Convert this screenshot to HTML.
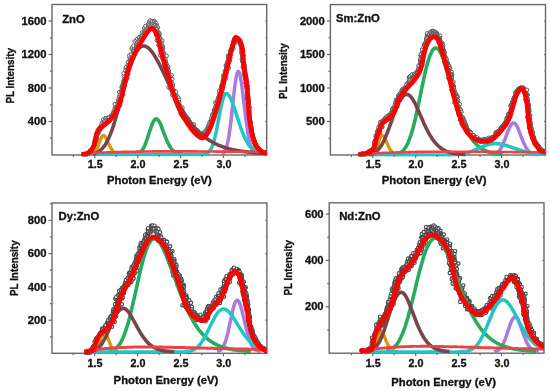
<!DOCTYPE html><html><head><meta charset="utf-8"><style>html,body{margin:0;padding:0;background:#fff;}svg{display:block;will-change:transform;}text{font-family:"Liberation Sans", sans-serif;font-weight:bold;fill:#111;stroke:#111;stroke-width:0.3px;}</style></head><body>
<svg width="550" height="391" viewBox="0 0 550 391">
<defs><marker id="m0" markerUnits="userSpaceOnUse" markerWidth="8" markerHeight="8" refX="4" refY="4" overflow="visible"><circle cx="4" cy="4" r="1.75" fill="#fff" stroke="#5a5a5a" stroke-width="0.95"/></marker><marker id="m1" markerUnits="userSpaceOnUse" markerWidth="8" markerHeight="8" refX="4" refY="4" overflow="visible"><circle cx="4" cy="4" r="1.75" fill="#fff" stroke="#555555" stroke-width="1"/></marker><marker id="m2" markerUnits="userSpaceOnUse" markerWidth="8" markerHeight="8" refX="4" refY="4" overflow="visible"><circle cx="4" cy="4" r="1.65" fill="#fff" stroke="#484848" stroke-width="1.1"/></marker><marker id="m3" markerUnits="userSpaceOnUse" markerWidth="8" markerHeight="8" refX="4" refY="4" overflow="visible"><circle cx="4" cy="4" r="1.65" fill="#fff" stroke="#484848" stroke-width="1.1"/></marker></defs>
<rect x="52" y="4.5" width="214.7" height="150.5" fill="none" stroke="#686868" stroke-width="1.4"/>
<clipPath id="cZnO"><rect x="52" y="1.5" width="214.7" height="155"/></clipPath>
<g clip-path="url(#cZnO)">
<polyline points="83.5,155.5 83.6,154.6 84.3,155.5 85.2,154.7 84.8,155.4 85.8,154.4 86.4,153.9 86.5,154.6 86.6,153.3 87.2,154.7 87.9,153.9 88.3,153.9 88.8,153.3 88.8,152.9 90,153.6 90,153.4 90.5,153.1 90.7,152.5 89.6,150.9 90.3,151.7 91.5,151.2 91.7,150.9 91.5,150.9 91.7,150.4 91.5,149.6 92.3,149.4 92.3,149.2 92.6,148.6 92.8,147.9 93.2,148.3 93.4,147.3 93,147 93.8,146.5 94,146.3 94.1,146.2 94.9,145.9 94.5,144.5 94.4,144.2 94.6,143.9 95,143.5 94.3,143.3 95.8,142.3 95.3,142.2 94.9,142.5 94.5,140.7 95.6,141 95.6,141.2 95.9,140.3 95.4,139.6 96.1,139 96.5,138.9 95.6,138.7 97,138.8 96.3,137.6 95.6,137.6 96.6,136.7 96.5,137.5 96.5,135.2 96.2,136 97.1,135.3 95.9,134.4 97.2,133.9 97.5,133.4 97.6,134 97.3,132.7 97.3,132.8 98.5,133.2 98.1,132.6 97.7,131.9 97.9,131.4 98.5,131.3 98.5,130.5 98.9,130.8 99.9,130.1 98.5,129.6 99.3,130.1 99.6,129.2 99.1,128.2 99.9,129.6 99.9,127.7 101.5,128.2 102.5,126.6 100.9,126.2 101.2,127 101.6,126.2 101.4,125.6 103.3,124.4 101.5,123.6 104.2,123.7 102.6,122.6 103.9,122.8 104.5,122.6 103.6,120.3 103.3,119.4 104.7,120.9 104.9,120.6 106.7,121.4 105.6,118.2 105.9,118.2 106.9,120.1 106.7,119.8 107.2,121.1 107.7,119.1 108.6,119.4 108.5,118.7 107.9,117.7 109.7,120.9 109.8,119.4 109.6,118.2 108.5,118.2 109.2,117.9 110.3,119.2 110,117.3 109.2,117.6 110.4,119 111.2,117.5 111.9,117.9 111.4,116.6 112.1,117.6 112.9,116.4 111.1,115.5 112.1,115.7 112.3,115.4 112.8,115.8 114,114.7 112.7,114.2 113.6,114.3 113.2,113.8 113.7,113.3 114.6,113.9 115,113.7 113.1,112.8 114.8,112.5 115.5,112.1 113.9,110.8 115.3,111.3 115.7,110.4 115.8,110.9 116.9,111 117.6,109.9 115.7,109.1 114.7,108.4 115.8,107.8 118,109.4 117.9,107.8 115.4,107.2 116,106.7 117.6,107 117.5,107 118.5,106.7 117.6,104.5 114.9,104.1 119.9,105.6 119.5,103.9 117.6,104 117.6,103 120.4,104 119.1,102.8 118.7,102.4 118.8,102.1 120.4,101.3 119,100.8 121.2,101.4 118.5,100.5 118.4,99.7 119.4,99.4 119.9,98.6 120.7,98.3 121,98.9 119.4,98.1 121,97.3 119,97.4 120.3,95.8 119.4,96 121.6,96.2 122.3,95.9 121.3,95.1 119.9,94.3 123.1,94.2 122.7,94.3 121.7,93.5 122.8,93.3 119.2,92.1 122.2,91.7 121.2,91.2 120.9,91.8 123.2,91 121.8,89.8 121.8,90 122.4,89.6 122.4,88.8 123,89.1 123.9,88.1 121.5,87.1 122.1,86.9 123.2,86.8 124.4,87 124.2,86.1 124.1,86 123.1,84.7 124.4,85.5 122.6,84.7 123.2,84.2 123.8,84.4 123.1,83.2 125.3,82.2 123.6,80.8 123.7,82 124.4,80.9 124.5,80.9 123.9,80.9 124.5,80.4 126.3,79.8 124.1,79.2 125.9,80 124.5,78.5 127.2,78.6 127.1,78.2 125.2,77.1 125.2,76.7 126.9,76.9 126.3,76.3 125.5,75.3 123.7,75.7 125.5,74.7 123.5,73.3 128.3,74.3 127.1,73.3 127.7,73.5 126.7,72.8 127.2,73.2 126.4,71.3 126.9,71.9 126.9,70.8 127.4,70.7 125.5,70.2 127.8,70.8 128.3,70 128.7,69.7 125.6,68 128.3,67.4 127.9,68.5 127.6,67.6 126.2,66.9 128.9,67.5 128.3,66.6 128.8,66 129.7,65.4 127.9,64.7 130.1,65.4 129.3,63.2 129.9,64.3 130.3,64.1 130.9,63.5 128.2,62 130.4,63 129.9,61.6 131.7,62.2 130.7,60.4 129.9,60 131.2,59.9 131.3,58.6 132.4,59.6 129.7,58.1 129.7,57.4 131.4,57.6 133.3,58 129.3,55.4 131.5,55.4 131.7,54.9 132.8,55.2 131.4,54.3 134.4,54.7 133.7,53.5 133.9,53.7 133.9,52.1 133.6,52 133.7,51.4 132.9,50.1 136.3,50.7 134.2,50.1 131.5,48.5 132.4,47.8 136.1,48.8 134.1,47.7 138,48.8 135.5,47.6 133.4,45.8 136.2,46.5 136.8,46.4 136.1,45.1 137,45.2 138.3,45 137.7,44.4 138,44.3 136.7,43.5 134.6,41.3 137.6,42.8 136.3,40.6 137.4,42 139,41.5 138.8,41.8 139.8,41.8 138.8,40.6 139.7,39.1 137.2,38.8 139.2,39.2 140.2,38.9 140.3,39.2 140.6,38.9 139.3,37 142,39.2 141.9,38 141.1,36.9 141,37.8 141.2,36.4 141,36.5 141.8,36.4 143,36.3 141.9,35.6 143.9,37.4 143.8,35.1 142.7,35.4 144.4,34.8 142.1,32.4 143.5,33.3 145.1,34.2 144.5,33.4 144.4,32.6 144.7,31.4 144.3,31.1 145.3,32 145.8,30.7 147.1,30.6 146.5,30 146.4,30.1 144.1,28.2 145.7,28.1 146.7,28 148,27.3 145.4,26 148.1,26 149,25.9 149.5,25.5 148.6,24 148.5,24.4 148.5,23.6 149.4,22.2 149.4,22.5 149.4,21.4 151.6,23.3 150.2,20.4 151.4,21.5 152,23.5 152.6,21.1 152,21.5 154.4,20.9 154.8,21.7 153.3,22.7 154.9,23.3 152.7,24.3 154.1,24.5 156.4,23.6 153.9,25.5 154.9,25 156.5,25.5 156.4,25.8 157,26.2 157.2,26.6 157.9,27.6 154.9,29.3 157.1,28.9 156.5,30.2 156.6,29.4 156.9,31.4 157.9,31.9 157.2,33.4 158.7,32.6 159.2,33.3 158.1,33.5 159.4,34.1 156.2,34.9 159,35.2 159,36 159,36.9 158.2,36.8 159.4,37.5 160.1,38.1 158.8,38.8 159.7,38.2 159.4,40 160.3,39.2 156.9,40.4 158.9,40.7 162.4,40.7 160.2,41 158.7,42.1 159.8,43.6 159.7,42.6 161.5,43 159.1,44.4 160,43.6 160.9,44.6 160.3,45.3 161.5,44.8 158.4,45.3 160.9,46.7 162.2,47 163.1,46.7 162.2,46.7 162,48 161.2,48.3 160.2,49.2 162.9,48.8 162.1,49.3 161.9,49.7 162.2,50.4 162.2,50.7 160.7,51.6 163.4,52.2 162,52.7 163.2,52.7 160.8,53.8 161.7,54.4 163.6,54.1 160.2,55.5 163.5,54.2 164.1,55.1 162.9,55.6 162.2,56.4 166.7,55.8 163.7,56.8 162.9,57.5 162.9,58.6 163.7,58.8 162.9,59.5 164.2,59.5 164.1,59.4 165.6,59.6 164.3,60.3 164.8,60.8 165.1,61.5 164,61.5 165.6,62.5 165.8,62.1 166,63.1 165.7,63.7 165.2,64.2 166.6,64 164.2,65.3 165.9,64.6 165.4,66.2 166,66.3 165,67.3 168.2,66.5 165.6,67.2 167.6,67.7 166,69 167.7,68.8 165.1,69.6 167.6,68.9 168.3,70.3 168.3,69.9 166.8,71.4 168.7,71.5 168.9,71.3 167.1,71.5 169,73.2 167.5,72.9 168.8,73.3 166.7,73.9 167.4,75.3 167.8,75.1 170.8,75.2 170.4,75.6 167.5,76 168.1,76.3 171.6,75.2 169.6,76.4 170.8,77.5 169.1,78.8 169.7,78.7 169.9,78.3 169.3,79.1 170.5,79.3 172.4,79.1 169.5,80.1 169.2,80.3 169.4,81.7 170.5,81.4 171,82.2 171.4,82.4 170.2,82.8 170.1,83.3 170.1,83.6 170.9,83.9 170.9,84.2 172.7,84.2 170.5,85.5 170.3,85.5 171.6,85.3 168.5,87.4 172.9,85.8 171.2,87.6 170.1,87.8 171.1,88.3 170.5,89.3 172.5,88.9 172.1,88.5 172.5,89.1 172.9,89.6 172.7,90.4 174.1,90.8 172.3,91.5 175,91.3 172.8,92.2 173.5,92.9 174,92.9 176.1,91.9 172.9,93.3 172.8,94.8 174.9,94.9 172.4,95.1 176.3,95.1 175.8,95.6 175,96 175.2,96.7 175.1,96.9 176.7,96.2 174.8,98 175.4,98 178,97.7 175.7,99.3 178.5,97.8 175.6,99.8 176.1,101 177,100 177.1,100.2 176.3,101.4 179,99.8 177.8,102.2 178.3,102.7 177.9,102.6 177.4,102.8 179.2,102.4 177.8,103.7 177,103.7 177.9,104.8 178.7,105.2 178.4,105.2 179.2,105.9 177.9,106 178.3,107.3 180.1,106.1 179.7,107.5 180.8,106.8 179.9,108.6 182.5,107.8 179.2,109.4 180.1,109.1 179.9,109.5 181.1,110.4 181.6,109.9 181,110.2 181.3,111.3 182.6,111.4 181.9,111.3 180.5,112.8 180.8,113.6 181.7,112.8 181.2,113.4 182.1,114.1 182.8,113 181.3,114.8 182.6,114.1 183.9,114.2 183.6,114.7 183.3,115.4 182.8,116.6 184.3,115.2 184.8,116.6 185.2,117 184.7,117.1 183.8,117.7 183.6,118.3 185.9,118.1 186.8,117.8 185.3,119.4 186.5,119.8 188.3,118.8 185.6,120.2 186.9,119.8 187.7,120.5 188.1,120.5 186.7,121.4 188,122 189.5,121.3 188.7,122.2 189.4,122.5 189,121.8 189.8,122.7 189,123.9 189.6,123.6 188.4,125.1 190.3,124 189.1,125.7 191,124.6 190.9,124.9 190.5,126.1 190.9,126.1 193.9,124.4 191.3,125.9 192.1,126.9 191.6,127.4 191,128.9 192.4,128.1 193.8,127 193.9,127.6 193.2,128.5 193.5,129.6 194.3,128.1 194.6,128.5 193.9,130.8 194.3,130.9 195.5,130.2 196,130.3 196.1,130.5 196.4,131 196.4,131.7 197.5,130.4 197,131.3 197.2,132.2 197.1,132.2 198,132.6 198.7,132.8 198.1,134.6 198.6,133.3 199.3,134 199.9,133.2 199.5,133.6 200.4,134.2 200.8,135 201.9,133.4 201.6,135.5 201.5,135.1 201.9,135.3 202.1,134.4 202.3,135 203,135 202.9,135.1 202.9,134.9 202.9,134.9 203.6,133.9 204.5,133.9 204.7,134.2 204,133.4 205.1,133.1 205,132.8 204.4,131.9 206.4,133.3 205.2,131.6 206.3,132.7 206.4,130.6 206.9,132.1 206.3,130.4 207.1,130.3 207.9,129.9 206.9,128.9 208.2,128.9 208,128.5 208.8,128.4 208,127.2 208.5,127.5 209.2,127.2 208.5,126.3 209,127.2 209.1,126.4 209.9,126 208.9,125.2 208.9,124.8 210.3,125.4 210.2,124.4 209.4,123.9 209.4,123.9 210.6,123 210.3,122.7 211.6,124 211.5,122.4 209.7,122 211.5,122.4 211.8,121.5 211.8,120.5 210.8,120.8 211.4,120.4 211.3,119.5 212.2,119.4 211.6,119.2 212,118.6 212.4,118.9 211.5,117.9 213,117.8 213.7,117.7 213.6,117.5 214,117.3 212.4,116.1 214.2,115.5 213.9,115.1 213.6,115.8 212.3,114.5 213.3,113.7 214.7,114.2 214.4,113.4 213.9,113.6 214.3,112.4 214.6,112.2 214.8,112 214.4,111.4 214,110.5 214.4,110.2 214.7,110.7 214.6,109 215,109.5 215.5,108.6 215.2,108.9 215.6,108.5 215.7,108.2 216.6,107 215.1,107.4 216.7,107 216.3,106.8 215.6,106.2 216.1,105 216.8,105.3 216.7,104.6 218.1,105.1 216.6,103.8 217.2,103.9 217.6,103.5 215.3,102.6 216.5,101.8 217.4,101.8 218.1,101 217.4,101 218,100.7 218.8,100.7 218.6,99.8 217.7,100.1 218.6,98.8 219.2,99.5 217.9,98.3 218.9,98.6 218.7,97.8 218.9,97 218.6,96.8 219.5,96.5 219.4,96 219.8,95.9 219.9,95.6 219.7,94.5 220.2,94.4 219.7,94 219.5,93.8 219.7,93.2 222.6,93.5 220.1,91.7 221.1,92.3 220.2,92.1 219.9,91 221.2,91.6 221.4,89.8 219.3,90.8 222.4,89.9 221.2,89.7 220.9,88.9 221.2,88.5 222.4,88 222,87.5 221.3,87.4 221.7,87.1 223.1,87.1 221.6,86.9 223.2,85.8 221.6,86 222,85.1 221.8,84.7 222.6,84.7 222.5,84 223.2,83.8 223.4,83.1 223.5,83.6 223.8,82.1 223.6,81.8 222.7,81.7 222.9,80.9 223.4,81.1 223.5,80.9 223.8,80.3 223.5,79.5 224.4,79 223.2,78.7 224.6,78.4 225.8,78.7 224.1,76.8 225,76.8 223.1,75.8 226.3,76.5 224.6,75.7 224.8,76 225.2,74.8 224.4,74.9 224.9,74.2 224.8,74.1 225.6,74.1 225.6,73.6 226.4,73.8 224.9,72.9 226.5,72.4 224.9,71 226,71.8 226.2,71.4 226.5,70.5 226.8,70.6 226.4,69.8 226.8,69.8 227.1,69.4 226.2,68.5 228.8,68.4 226.7,68.1 226.8,68.5 228.2,66.7 225.8,65.3 227.7,66.2 226.6,66 226.1,65.3 227.1,65.2 227.3,64.4 226.8,64.3 227.9,62.9 228.7,63.2 227.6,62.9 228.4,61.8 227.5,61.5 228,61.9 228.5,60.3 227.7,61 229.9,60.8 228.5,59.9 229,59.2 228.3,58.7 228.1,58.8 228.9,57.8 230.3,57.3 230.3,58 227.9,55.8 229.5,55.7 228.9,56.1 229.6,54.8 230.1,54.9 230.4,54.3 230.5,54.4 231,54.2 230.3,52.9 230.7,53.2 230.5,52.1 230,51.8 231.3,51.2 230.1,50.7 231.2,50.8 231.7,49.7 231.1,48.9 232.8,49 232.4,48.5 233.4,48.5 232.7,47.3 232.3,46.6 232.8,46 233,45.5 232.9,46.2 232.2,45.3 232.9,45.3 233.3,44.3 233.7,43.8 234.9,43.4 234,42.4 233.9,42.8 234.2,42.1 233.7,41.7 234.8,41.3 233.7,41.4 235.1,41 234,39.3 234.6,39.5 235.9,39.5 235.4,39.7 234.2,38.9 235.1,38.3 236.3,39.1 236.4,38.9 235.9,39.1 235.4,37.1 236.1,37.9 236.1,38.1 235.3,38.9 237.1,38 236.9,39.3 238.2,39.1 237.6,39 237.9,39 237.5,39.1 238.5,39.6 237.3,39.7 238.7,40.6 238,39.7 239.3,40.5 239.8,40.3 239.9,40.3 239.8,41.2 238.9,41.9 240.5,42.2 239.9,42.9 240.6,42.9 240.4,43.1 239.9,43.5 240.4,43.5 240.5,44.2 241,44.9 240.4,44.9 241.1,45.1 241.2,45.4 241.7,45.8 240.9,46.8 242,45.9 241.5,47.2 242.2,48.1 241.5,47.4 242.1,48.8 242.1,48.9 241.7,50.3 241.3,49.2 242.5,50.2 242.4,50.7 243,51.5 242,51.9 241.6,51.2 242.8,52.1 241.3,52.8 242.1,53.4 242.4,53.3 242.1,54.4 242.1,54.6 242.1,55.2 243.4,55.6 243.1,56.1 242.2,56.3 242.7,57 242.4,57.5 242.4,57.8 242.7,57.7 243.2,58.6 242.9,59.1 241.8,59 242.5,60.4 242.7,60.7 242.4,60.6 242.8,61.8 242.3,61.8 243.2,62.3 243.1,63 243.2,62.7 243.5,63.2 243.2,64.6 244.5,64.9 243.5,64.5 243.2,66 243.6,65.1 244.3,66.3 244.2,66.6 242.7,66.8 243.7,67.4 244.4,67.5 243.8,68.2 243.9,68.3 243.3,68.1 244.2,69.4 244.2,69.5 244.2,69.9 243.9,70.9 244.7,71.3 244.4,71.4 245.2,72.4 244.3,72 244.9,72.9 244.6,74.2 243.9,73.4 245.1,74.4 244.2,74.4 245.8,75.3 245.1,75.2 244.9,75.8 244.8,75.3 244.8,76.6 245,77.4 246.2,77.5 246,78.1 245.9,78.4 246,78.7 245.4,78.7 245.5,79.7 246.1,79.3 245.6,79.9 246.4,80.4 246,80.6 246.2,82 245.9,81.6 247,82.3 245.9,83 245.9,83.2 245.4,83.1 246.9,83.5 246.3,84.2 246.6,84.4 246.5,85.8 247.3,85.5 246.3,85.7 246.7,86.5 247.5,86.4 246.9,86.9 247,87.2 247.2,88.4 246.8,88.2 247.1,88.2 247.8,88.5 247,89.2 247.8,89.7 247.1,91.2 247.2,90.5 247.3,91.3 247,91.6 247.3,92.4 247.7,92.8 247.4,93.2 247.4,93.8 247.6,93.6 248,93.5 247.1,94.3 247.5,94.5 247.1,94.7 247.7,95.5 248.6,96.5 247.3,97.2 247.8,97.5 247.3,98 248.2,97.7 247.5,98.2 248,99.7 248.7,99.7 247.8,99.5 248.1,99.9 247.8,100.4 248.3,100.8 248.1,101.2 248,101.6 248.6,102.2 248.7,102.5 248.5,102.4 248,103.4 247.9,103.8 247.8,104.2 248,104.7 248.1,104.7 248.1,105.5 247.8,106 248.9,106.2 248.6,107 248.2,107.8 249.5,107.1 249.3,107.7 249.1,107.7 249,108.9 248.1,109 248.2,109.4 248.8,110.1 247.7,110.6 248.9,111 249.4,110.6 248.9,111.9 249.1,111.7 248.4,112.7 248.9,112.4 249.1,113.5 249.2,112.9 249.2,114 248.9,115.2 249.8,115.2 249.2,116.2 248.8,116.1 249,116.1 249.5,117.8 249.5,117.6 249.4,118.2 249.5,117.9 249.6,119.2 249.6,119.5 249.7,120.3 249.8,120.2 249.6,120.7 249.6,120.2 249.9,120.7 250.5,121.8 250,122.3 249,123.2 249.8,123.2 251,122.5 250,123.9 250.3,123.4 250,125.2 250.1,125.2 249.8,125.1 249.8,126 251,126.2 250.5,126.8 250.9,126.9 251.1,128.2 251.7,127.5 250.6,129.2 251.5,129.2 251.3,129 251.6,130 251.6,129.5 251.7,130.2 251.3,131 251.6,132.2 251.8,131.8 251.6,132.2 251.7,132.8 252.3,133.2 251.4,133.4 252,133.3 252.3,134.1 252.3,134.8 252.3,135.7 252.8,135.1 252.8,136.1 252.3,136.2 252.8,135.6 252.4,137.4 253.2,137.1 253.7,138.7 253.3,138.3 253.3,138.4 253.7,139.2 254.1,140.1 253.8,140.1 254.2,141.1 253.5,141 254,141.4 254.6,141.6 254.8,142 254.3,142.3 254.3,143.1 254.9,143.6 255.3,143.1 255,144.4 255.2,144.6 255.8,144.5 256.3,144.5 256.1,145.2 255.2,146.4 256.5,146.4 256.4,146.3 256.6,146.9 257.3,147 257.9,147.5 257.6,148.4 257.1,148.8 257.7,148.7 258.7,148.5 258.9,149.5 258.4,149.4 259.6,149.6 259.1,150.5 259.9,150 260,150.7 260.2,150.6 260.4,150.4 261.8,151.8 261.2,151.9 261,152.4 262,152.4 263.1,152.6 262.8,152.7 263.6,152.5 263.3,152.2 264.3,152 263.9,153.1 264.3,153.2 265.3,153.2 265.7,153.2 267.4,153.7" fill="none" stroke="none" marker-start="url(#m0)" marker-mid="url(#m0)" marker-end="url(#m0)"/>
<path d="M222,153.7 L222.7,153.3 L223.4,152.8 L224.1,152.1 L224.7,151.1 L225.4,149.8 L226.1,148.1 L226.8,145.9 L227.5,143.2 L228.2,139.9 L228.9,136 L229.6,131.5 L230.3,126.4 L231,120.8 L231.7,114.7 L232.3,108.3 L233,101.9 L233.7,95.6 L234.4,89.5 L235.1,84.1 L235.8,79.4 L236.5,75.7 L237.2,73.1 L237.9,71.6 L238.6,71.5 L239.3,72.6 L240,74.8 L240.6,78.2 L241.3,82.4 L242,87.3 L242.7,92.8 L243.4,98.6 L244.1,104.5 L244.8,110.4 L245.5,116.1 L246.2,121.5 L246.9,126.5 L247.6,131 L248.2,135.1 L248.9,138.6 L249.6,141.6 L250.3,144.2 L251,146.4 L251.7,148.1 L252.4,149.6 L253.1,150.7 L253.8,151.6 L254.5,152.3 L255.2,152.9 L255.8,153.3 L256.5,153.6 L257.2,153.8" fill="none" stroke="#aa7ae0" stroke-width="3.5" stroke-linejoin="round"/>
<path d="M135.6,154.2 L136.3,154 L137,153.9 L137.7,153.7 L138.3,153.4 L139,153.1 L139.7,152.7 L140.4,152.1 L141.1,151.5 L141.8,150.7 L142.5,149.7 L143.2,148.6 L143.9,147.4 L144.6,145.9 L145.3,144.3 L145.9,142.5 L146.6,140.6 L147.3,138.6 L148,136.4 L148.7,134.3 L149.4,132.1 L150.1,129.9 L150.8,127.9 L151.5,125.9 L152.2,124.1 L152.9,122.6 L153.6,121.2 L154.2,120.2 L154.9,119.4 L155.6,119 L156.3,118.9 L157,119.1 L157.7,119.6 L158.4,120.4 L159.1,121.4 L159.8,122.7 L160.5,124.1 L161.2,125.7 L161.8,127.5 L162.5,129.3 L163.2,131.1 L163.9,133 L164.6,134.9 L165.3,136.7 L166,138.4 L166.7,140.1 L167.4,141.7 L168.1,143.2 L168.8,144.5 L169.4,145.8 L170.1,146.9 L170.8,148 L171.5,148.9 L172.2,149.7 L172.9,150.4 L173.6,151 L174.3,151.6 L175,152 L175.7,152.4 L176.4,152.8 L177.1,153 L177.7,153.3 L178.4,153.5 L179.1,153.7 L179.8,153.8 L180.5,153.9 L181.2,154 L181.9,154.1 L182.6,154.2" fill="none" stroke="#27ab5c" stroke-width="3.6" stroke-linejoin="round"/>
<path d="M91.3,154.2 L92,154.1 L92.7,153.9 L93.4,153.6 L94.1,153.1 L94.8,152.5 L95.5,151.6 L96.2,150.5 L96.9,149.1 L97.6,147.5 L98.3,145.7 L98.9,143.8 L99.6,141.9 L100.3,140 L101,138.4 L101.7,137 L102.4,136.1 L103.1,135.6 L103.8,135.6 L104.5,136 L105.2,136.7 L105.9,137.8 L106.6,139 L107.2,140.5 L107.9,142 L108.6,143.6 L109.3,145.1 L110,146.5 L110.7,147.8 L111.4,149 L112.1,150 L112.8,150.9 L113.5,151.7 L114.2,152.3 L114.8,152.8 L115.5,153.2 L116.2,153.5 L116.9,153.7 L117.6,153.9 L118.3,154.1 L119,154.2 L119.7,154.2 L120.4,154.3" fill="none" stroke="#d49a10" stroke-width="3.4" stroke-linejoin="round"/>
<path d="M84.4,154.4 L85.1,154.4 L85.8,154.4 L86.5,154.4 L87.2,154.4 L87.9,154.4 L88.6,154.4 L89.3,154.4 L90,154.4 L90.7,154.4 L91.3,154.4 L92,154.4 L92.7,154.4 L93.4,154.4 L94.1,154.4 L94.8,154.4 L95.5,154.4 L96.2,154.4 L96.9,154.4 L97.6,154.4 L98.3,154.4 L98.9,154.4 L99.6,154.4 L100.3,154.4 L101,154.4 L101.7,154.4 L102.4,154.4 L103.1,154.4 L103.8,154.4 L104.5,154.4 L105.2,154.4 L105.9,154.4 L106.6,154.4 L107.2,154.4 L107.9,154.4 L108.6,154.4 L109.3,154.4 L110,154.4 L110.7,154.4 L111.4,154.4 L112.1,154.4 L112.8,154.4 L113.5,154.4 L114.2,154.4 L114.8,154.4 L115.5,154.4 L116.2,154.4 L116.9,154.4 L117.6,154.4 L118.3,154.4 L119,154.4 L119.7,154.4 L120.4,154.4 L121.1,154.4 L121.8,154.4 L122.4,154.4 L123.1,154.4 L123.8,154.4 L124.5,154.4 L125.2,154.4 L125.9,154.4 L126.6,154.4 L127.3,154.4 L128,154.4 L128.7,154.4 L129.4,154.4 L130.1,154.4 L130.7,154.4 L131.4,154.4 L132.1,154.4 L132.8,154.4 L133.5,154.4 L134.2,154.4 L134.9,154.4 L135.6,154.4 L136.3,154.4 L137,154.4 L137.7,154.4 L138.3,154.4 L139,154.4 L139.7,154.4 L140.4,154.4 L141.1,154.4 L141.8,154.4 L142.5,154.4 L143.2,154.4 L143.9,154.4 L144.6,154.4 L145.3,154.4 L145.9,154.4 L146.6,154.4 L147.3,154.4 L148,154.4 L148.7,154.4 L149.4,154.4 L150.1,154.4 L150.8,154.4 L151.5,154.4 L152.2,154.4 L152.9,154.4 L153.6,154.4 L154.2,154.4 L154.9,154.4 L155.6,154.4 L156.3,154.4 L157,154.4 L157.7,154.4 L158.4,154.4 L159.1,154.4 L159.8,154.4 L160.5,154.4 L161.2,154.4 L161.8,154.4 L162.5,154.4 L163.2,154.4 L163.9,154.4 L164.6,154.4 L165.3,154.4 L166,154.4 L166.7,154.4 L167.4,154.4 L168.1,154.4 L168.8,154.4 L169.4,154.4 L170.1,154.4 L170.8,154.4 L171.5,154.4 L172.2,154.4 L172.9,154.4 L173.6,154.4 L174.3,154.4 L175,154.4 L175.7,154.4 L176.4,154.4 L177.1,154.4 L177.7,154.4 L178.4,154.4 L179.1,154.4 L179.8,154.4 L180.5,154.4 L181.2,154.4 L181.9,154.4 L182.6,154.4 L183.3,154.4 L184,154.4 L184.7,154.4 L185.3,154.4 L186,154.4 L186.7,154.4 L187.4,154.4 L188.1,154.4 L188.8,154.4 L189.5,154.4 L190.2,154.4 L190.9,154.4 L191.6,154.4 L192.3,154.4 L193,154.4 L193.6,154.4 L194.3,154.4 L195,154.4 L195.7,154.4 L196.4,154.4 L197.1,154.4 L197.8,154.4 L198.5,154.4 L199.2,154.4 L199.9,154.4 L200.6,154.4 L201.2,154.3 L201.9,154.3 L202.6,154.3 L203.3,154.2 L204,154.1 L204.7,154 L205.4,153.8 L206.1,153.6 L206.8,153.3 L207.5,153 L208.2,152.5 L208.8,151.9 L209.5,151.1 L210.2,150.1 L210.9,149 L211.6,147.6 L212.3,145.9 L213,144 L213.7,141.9 L214.4,139.4 L215.1,136.7 L215.8,133.7 L216.5,130.5 L217.1,127.1 L217.8,123.5 L218.5,119.9 L219.2,116.2 L219.9,112.6 L220.6,109 L221.3,105.7 L222,102.7 L222.7,100 L223.4,97.7 L224.1,95.9 L224.7,94.5 L225.4,93.7 L226.1,93.4 L226.8,93.6 L227.5,93.9 L228.2,94.5 L228.9,95.4 L229.6,96.4 L230.3,97.6 L231,99.1 L231.7,100.6 L232.3,102.4 L233,104.2 L233.7,106.1 L234.4,108.2 L235.1,110.3 L235.8,112.4 L236.5,114.6 L237.2,116.8 L237.9,118.9 L238.6,121.1 L239.3,123.2 L240,125.3 L240.6,127.3 L241.3,129.2 L242,131.1 L242.7,132.9 L243.4,134.6 L244.1,136.3 L244.8,137.8 L245.5,139.2 L246.2,140.6 L246.9,141.9 L247.6,143 L248.2,144.1 L248.9,145.2 L249.6,146.1 L250.3,146.9 L251,147.7 L251.7,148.4 L252.4,149.1 L253.1,149.7 L253.8,150.2 L254.5,150.7 L255.2,151.1 L255.8,151.5 L256.5,151.9 L257.2,152.2 L257.9,152.5 L258.6,152.7 L259.3,152.9 L260,153.1 L260.7,153.3 L261.4,153.4 L262.1,153.6 L262.8,153.7 L263.5,153.8 L264.1,153.9 L264.8,153.9 L265.5,154 L266.2,154.1 L266.9,154.1 L267.6,154.1" fill="none" stroke="#1fc6c8" stroke-width="3.5" stroke-linejoin="round"/>
<path d="M92.7,153.7 L93.4,153.6 L94.1,153.4 L94.8,153.3 L95.5,153 L96.2,152.8 L96.9,152.5 L97.6,152.2 L98.3,151.8 L98.9,151.4 L99.6,150.9 L100.3,150.4 L101,149.8 L101.7,149.1 L102.4,148.4 L103.1,147.6 L103.8,146.7 L104.5,145.8 L105.2,144.7 L105.9,143.6 L106.6,142.4 L107.2,141.1 L107.9,139.8 L108.6,138.3 L109.3,136.8 L110,135.1 L110.7,133.4 L111.4,131.6 L112.1,129.7 L112.8,127.7 L113.5,125.6 L114.2,123.4 L114.8,121.2 L115.5,118.9 L116.2,116.6 L116.9,114.2 L117.6,111.7 L118.3,109.2 L119,106.7 L119.7,104.1 L120.4,101.6 L121.1,99 L121.8,96.3 L122.4,93.7 L123.1,91.1 L123.8,88.5 L124.5,86 L125.2,83.4 L125.9,80.9 L126.6,78.5 L127.3,76.1 L128,73.7 L128.7,71.4 L129.4,69.2 L130.1,67.1 L130.7,65.1 L131.4,63.1 L132.1,61.2 L132.8,59.5 L133.5,57.8 L134.2,56.2 L134.9,54.8 L135.6,53.4 L136.3,52.2 L137,51 L137.7,50 L138.3,49.1 L139,48.3 L139.7,47.7 L140.4,47.1 L141.1,46.6 L141.8,46.3 L142.5,46.1 L143.2,46 L143.9,46 L144.6,46 L145.3,46.2 L145.9,46.5 L146.6,46.8 L147.3,47.2 L148,47.7 L148.7,48.3 L149.4,48.9 L150.1,49.6 L150.8,50.4 L151.5,51.3 L152.2,52.2 L152.9,53.1 L153.6,54.1 L154.2,55.2 L154.9,56.3 L155.6,57.4 L156.3,58.6 L157,59.9 L157.7,61.1 L158.4,62.4 L159.1,63.7 L159.8,65.1 L160.5,66.5 L161.2,67.9 L161.8,69.3 L162.5,70.7 L163.2,72.1 L163.9,73.6 L164.6,75 L165.3,76.5 L166,78 L166.7,79.4 L167.4,80.9 L168.1,82.4 L168.8,83.8 L169.4,85.3 L170.1,86.7 L170.8,88.2 L171.5,89.6 L172.2,91 L172.9,92.5 L173.6,93.9 L174.3,95.2 L175,96.6 L175.7,98 L176.4,99.3 L177.1,100.6 L177.7,101.9 L178.4,103.2 L179.1,104.5 L179.8,105.7 L180.5,107 L181.2,108.2 L181.9,109.4 L182.6,110.5 L183.3,111.7 L184,112.8 L184.7,113.9 L185.3,115 L186,116 L186.7,117.1 L187.4,118.1 L188.1,119.1 L188.8,120.1 L189.5,121 L190.2,122 L190.9,122.9 L191.6,123.8 L192.3,124.6 L193,125.5 L193.6,126.3 L194.3,127.1 L195,127.9 L195.7,128.7 L196.4,129.4 L197.1,130.2 L197.8,130.9 L198.5,131.6 L199.2,132.2 L199.9,132.9 L200.6,133.5 L201.2,134.2 L201.9,134.8 L202.6,135.4 L203.3,135.9 L204,136.5 L204.7,137 L205.4,137.6 L206.1,138.1 L206.8,138.6 L207.5,139.1 L208.2,139.5 L208.8,140 L209.5,140.4 L210.2,140.9 L210.9,141.3 L211.6,141.7 L212.3,142.1 L213,142.5 L213.7,142.9 L214.4,143.2 L215.1,143.6 L215.8,143.9 L216.5,144.2 L217.1,144.6 L217.8,144.9 L218.5,145.2 L219.2,145.5 L219.9,145.7 L220.6,146 L221.3,146.3 L222,146.5 L222.7,146.8 L223.4,147 L224.1,147.3 L224.7,147.5 L225.4,147.7 L226.1,147.9 L226.8,148.1 L227.5,148.3 L228.2,148.5 L228.9,148.7 L229.6,148.9 L230.3,149.1 L231,149.2 L231.7,149.4 L232.3,149.6 L233,149.7 L233.7,149.9 L234.4,150 L235.1,150.1 L235.8,150.3 L236.5,150.4 L237.2,150.5 L237.9,150.7 L238.6,150.8 L239.3,150.9 L240,151 L240.6,151.1 L241.3,151.2 L242,151.3 L242.7,151.4 L243.4,151.5 L244.1,151.6 L244.8,151.7 L245.5,151.8 L246.2,151.9 L246.9,151.9 L247.6,152 L248.2,152.1 L248.9,152.2 L249.6,152.2 L250.3,152.3 L251,152.4 L251.7,152.4 L252.4,152.5 L253.1,152.6 L253.8,152.6 L254.5,152.7 L255.2,152.7 L255.8,152.8 L256.5,152.8 L257.2,152.9 L257.9,152.9 L258.6,153 L259.3,153 L260,153.1 L260.7,153.1 L261.4,153.1 L262.1,153.2 L262.8,153.2 L263.5,153.3 L264.1,153.3 L264.8,153.3 L265.5,153.4 L266.2,153.4 L266.9,153.4 L267.6,153.4" fill="none" stroke="#7a4448" stroke-width="3.6" stroke-linejoin="round"/>
<path d="M84.4,153.4 L85.1,153.3 L85.8,153.3 L86.5,153.3 L87.2,153.3 L87.9,153.2 L88.6,153.2 L89.3,153.2 L90,153.1 L90.7,153.1 L91.3,153.1 L92,153 L92.7,153 L93.4,153 L94.1,152.9 L94.8,152.9 L95.5,152.9 L96.2,152.9 L96.9,152.8 L97.6,152.8 L98.3,152.8 L98.9,152.7 L99.6,152.7 L100.3,152.7 L101,152.7 L101.7,152.6 L102.4,152.6 L103.1,152.6 L103.8,152.5 L104.5,152.5 L105.2,152.5 L105.9,152.5 L106.6,152.4 L107.2,152.4 L107.9,152.4 L108.6,152.4 L109.3,152.3 L110,152.3 L110.7,152.3 L111.4,152.3 L112.1,152.2 L112.8,152.2 L113.5,152.2 L114.2,152.2 L114.8,152.2 L115.5,152.1 L116.2,152.1 L116.9,152.1 L117.6,152.1 L118.3,152 L119,152 L119.7,152 L120.4,152 L121.1,152 L121.8,152 L122.4,151.9 L123.1,151.9 L123.8,151.9 L124.5,151.9 L125.2,151.9 L125.9,151.8 L126.6,151.8 L127.3,151.8 L128,151.8 L128.7,151.8 L129.4,151.8 L130.1,151.8 L130.7,151.7 L131.4,151.7 L132.1,151.7 L132.8,151.7 L133.5,151.7 L134.2,151.7 L134.9,151.7 L135.6,151.7 L136.3,151.6 L137,151.6 L137.7,151.6 L138.3,151.6 L139,151.6 L139.7,151.6 L140.4,151.6 L141.1,151.6 L141.8,151.6 L142.5,151.6 L143.2,151.5 L143.9,151.5 L144.6,151.5 L145.3,151.5 L145.9,151.5 L146.6,151.5 L147.3,151.5 L148,151.5 L148.7,151.5 L149.4,151.5 L150.1,151.5 L150.8,151.5 L151.5,151.5 L152.2,151.5 L152.9,151.4 L153.6,151.4 L154.2,151.4 L154.9,151.4 L155.6,151.4 L156.3,151.4 L157,151.4 L157.7,151.4 L158.4,151.4 L159.1,151.4 L159.8,151.4 L160.5,151.4 L161.2,151.4 L161.8,151.4 L162.5,151.4 L163.2,151.4 L163.9,151.4 L164.6,151.4 L165.3,151.4 L166,151.4 L166.7,151.4 L167.4,151.4 L168.1,151.4 L168.8,151.4 L169.4,151.4 L170.1,151.4 L170.8,151.4 L171.5,151.4 L172.2,151.4 L172.9,151.4 L173.6,151.4 L174.3,151.4 L175,151.4 L175.7,151.4 L176.4,151.4 L177.1,151.4 L177.7,151.4 L178.4,151.4 L179.1,151.4 L179.8,151.4 L180.5,151.4 L181.2,151.4 L181.9,151.4 L182.6,151.4 L183.3,151.4 L184,151.4 L184.7,151.4 L185.3,151.4 L186,151.4 L186.7,151.4 L187.4,151.4 L188.1,151.4 L188.8,151.4 L189.5,151.4 L190.2,151.4 L190.9,151.4 L191.6,151.4 L192.3,151.4 L193,151.4 L193.6,151.4 L194.3,151.4 L195,151.4 L195.7,151.4 L196.4,151.4 L197.1,151.5 L197.8,151.5 L198.5,151.5 L199.2,151.5 L199.9,151.5 L200.6,151.5 L201.2,151.5 L201.9,151.5 L202.6,151.5 L203.3,151.5 L204,151.5 L204.7,151.5 L205.4,151.5 L206.1,151.5 L206.8,151.5 L207.5,151.5 L208.2,151.5 L208.8,151.5 L209.5,151.5 L210.2,151.5 L210.9,151.5 L211.6,151.5 L212.3,151.5 L213,151.5 L213.7,151.5 L214.4,151.5 L215.1,151.6 L215.8,151.6 L216.5,151.6 L217.1,151.6 L217.8,151.6 L218.5,151.6 L219.2,151.6 L219.9,151.6 L220.6,151.6 L221.3,151.6 L222,151.6 L222.7,151.6 L223.4,151.6 L224.1,151.6 L224.7,151.6 L225.4,151.6 L226.1,151.6 L226.8,151.6 L227.5,151.6 L228.2,151.6 L228.9,151.6 L229.6,151.6 L230.3,151.7 L231,151.7 L231.7,151.7 L232.3,151.7 L233,151.7 L233.7,151.7 L234.4,151.7 L235.1,151.7 L235.8,151.7 L236.5,151.7 L237.2,151.7 L237.9,151.7 L238.6,151.7 L239.3,151.7 L240,151.7 L240.6,151.7 L241.3,151.7 L242,151.7 L242.7,151.7 L243.4,151.7 L244.1,151.8 L244.8,151.8 L245.5,151.8 L246.2,151.8 L246.9,151.8 L247.6,151.8 L248.2,151.8 L248.9,151.8 L249.6,151.8 L250.3,151.8 L251,151.8 L251.7,151.8 L252.4,151.8 L253.1,151.8 L253.8,151.8 L254.5,151.8 L255.2,151.8 L255.8,151.8 L256.5,151.8 L257.2,151.8 L257.9,151.9 L258.6,151.9 L259.3,151.9 L260,151.9 L260.7,151.9 L261.4,151.9 L262.1,151.9 L262.8,151.9 L263.5,151.9 L264.1,151.9 L264.8,151.9 L265.5,151.9 L266.2,151.9 L266.9,151.9 L267.6,151.9" fill="none" stroke="#f04048" stroke-width="2.6" stroke-linejoin="round"/>
<path d="M83.3,154.1 L83.8,154.1 L84.2,154.1 L84.7,154.1 L85.1,154 L85.5,153.9 L86,153.8 L86.4,153.7 L86.8,153.6 L87.2,153.4 L87.5,153.3 L87.9,153.1 L88.3,152.9 L88.6,152.7 L88.9,152.5 L89.3,152.2 L89.6,152 L89.9,151.7 L90.2,151.5 L90.5,151.2 L90.8,150.9 L91,150.6 L91.3,150.3 L91.5,149.9 L91.8,149.6 L92,149.2 L92.3,148.9 L92.5,148.5 L92.7,148.2 L92.9,147.8 L93.1,147.4 L93.3,147 L93.4,146.6 L93.6,146.2 L93.8,145.8 L93.9,145.4 L94.1,145 L94.2,144.6 L94.3,144.1 L94.5,143.7 L94.6,143.3 L94.7,142.9 L94.8,142.4 L94.9,142 L95,141.6 L95.1,141.1 L95.2,140.7 L95.3,140.3 L95.4,139.9 L95.5,139.4 L95.6,139 L95.6,138.6 L95.7,138.1 L95.8,137.7 L95.9,137.3 L96,136.9 L96.1,136.4 L96.2,136 L96.3,135.6 L96.4,135.2 L96.5,134.8 L96.6,134.4 L96.7,134 L96.8,133.6 L97,133.2 L97.1,132.8 L97.3,132.4 L97.4,132.1 L97.6,131.7 L97.7,131.3 L97.9,131 L98.1,130.6 L98.3,130.3 L98.5,130 L98.7,129.6 L99,129.3 L99.2,129 L99.5,128.7 L99.8,128.4 L100.1,128.1 L100.4,127.8 L100.7,127.6 L101,127.3 L101.3,127 L101.7,126.8 L102,126.5 L102.4,126.3 L102.7,126.1 L103.1,125.8 L103.5,125.6 L103.8,125.3 L104.2,125.1 L104.5,124.8 L104.9,124.6 L105.2,124.3 L105.6,124.1 L105.9,123.8 L106.2,123.5 L106.6,123.3 L106.9,123 L107.2,122.7 L107.5,122.4 L107.8,122.2 L108.1,121.9 L108.4,121.6 L108.7,121.3 L109,121 L109.3,120.7 L109.6,120.4 L109.9,120.1 L110.2,119.8 L110.4,119.5 L110.7,119.2 L111,118.9 L111.2,118.6 L111.5,118.2 L111.7,117.9 L112,117.6 L112.2,117.3 L112.5,117 L112.7,116.6 L113,116.3 L113.2,116 L113.4,115.6 L113.7,115.3 L113.9,114.9 L114.1,114.6 L114.3,114.3 L114.5,113.9 L114.7,113.6 L114.9,113.2 L115.1,112.8 L115.4,112.5 L115.5,112.1 L115.7,111.8 L115.9,111.4 L116.1,111 L116.3,110.7 L116.5,110.3 L116.7,109.9 L116.9,109.6 L117,109.2 L117.2,108.8 L117.4,108.4 L117.5,108.1 L117.7,107.7 L117.9,107.3 L118,106.9 L118.2,106.5 L118.4,106.1 L118.5,105.8 L118.7,105.4 L118.8,105 L119,104.6 L119.1,104.2 L119.2,103.8 L119.4,103.4 L119.5,103 L119.7,102.6 L119.8,102.2 L119.9,101.8 L120.1,101.4 L120.2,101 L120.3,100.6 L120.5,100.2 L120.6,99.8 L120.7,99.4 L120.8,98.9 L121,98.5 L121.1,98.1 L121.2,97.7 L121.3,97.3 L121.4,96.9 L121.5,96.5 L121.7,96.1 L121.8,95.6 L121.9,95.2 L122,94.8 L122.1,94.4 L122.2,94 L122.3,93.5 L122.4,93.1 L122.5,92.7 L122.6,92.3 L122.7,91.9 L122.8,91.4 L122.9,91 L123,90.6 L123.1,90.2 L123.2,89.7 L123.3,89.3 L123.4,88.9 L123.5,88.5 L123.6,88 L123.7,87.6 L123.8,87.2 L123.9,86.8 L124,86.4 L124.1,85.9 L124.2,85.5 L124.3,85.1 L124.4,84.7 L124.5,84.2 L124.6,83.8 L124.7,83.4 L124.8,83 L124.9,82.5 L125,82.1 L125.1,81.7 L125.2,81.3 L125.3,80.8 L125.4,80.4 L125.5,80 L125.6,79.6 L125.7,79.1 L125.8,78.7 L125.9,78.3 L126,77.9 L126.1,77.5 L126.2,77.1 L126.3,76.6 L126.4,76.2 L126.5,75.8 L126.6,75.4 L126.7,75 L126.8,74.6 L127,74.1 L127.1,73.7 L127.2,73.3 L127.3,72.9 L127.4,72.5 L127.5,72.1 L127.6,71.7 L127.8,71.3 L127.9,70.9 L128,70.5 L128.1,70.1 L128.2,69.7 L128.4,69.3 L128.5,68.9 L128.6,68.5 L128.7,68.1 L128.9,67.7 L129,67.3 L129.1,66.9 L129.3,66.5 L129.4,66.1 L129.6,65.7 L129.7,65.3 L129.8,64.9 L130,64.5 L130.1,64.2 L130.3,63.8 L130.4,63.4 L130.6,63 L130.7,62.6 L130.9,62.2 L131,61.9 L131.2,61.5 L131.3,61.1 L131.5,60.7 L131.6,60.3 L131.8,60 L132,59.6 L132.1,59.2 L132.3,58.8 L132.5,58.5 L132.6,58.1 L132.8,57.7 L133,57.3 L133.1,57 L133.3,56.6 L133.5,56.2 L133.7,55.8 L133.8,55.5 L134,55.1 L134.2,54.7 L134.4,54.4 L134.5,54 L134.7,53.6 L134.9,53.3 L135.1,52.9 L135.3,52.5 L135.5,52.2 L135.7,51.8 L135.9,51.4 L136,51 L136.2,50.7 L136.4,50.3 L136.6,49.9 L136.8,49.6 L137,49.2 L137.2,48.8 L137.4,48.5 L137.6,48.1 L137.8,47.7 L138,47.4 L138.2,47 L138.4,46.6 L138.6,46.3 L138.8,45.9 L139.1,45.5 L139.3,45.2 L139.5,44.8 L139.7,44.4 L139.9,44 L140.1,43.7 L140.3,43.3 L140.6,42.9 L140.8,42.6 L141,42.2 L141.2,41.8 L141.4,41.4 L141.7,41.1 L141.9,40.7 L142.1,40.3 L142.3,39.9 L142.6,39.6 L142.8,39.2 L143,38.8 L143.2,38.4 L143.5,38.1 L143.7,37.7 L143.9,37.3 L144.2,36.9 L144.4,36.5 L144.6,36.2 L144.9,35.8 L145.1,35.4 L145.4,35 L145.6,34.7 L145.9,34.3 L146.1,33.9 L146.4,33.5 L146.6,33.2 L146.9,32.8 L147.1,32.5 L147.4,32.1 L147.7,31.8 L147.9,31.4 L148.2,31.1 L148.5,30.8 L148.8,30.5 L149.1,30.2 L149.4,29.9 L149.7,29.6 L150,29.3 L150.3,29 L150.6,28.8 L150.9,28.6 L151.2,28.5 L151.5,28.4 L151.8,28.3 L152.1,28.3 L152.3,28.4 L152.6,28.5 L152.9,28.6 L153.2,28.8 L153.4,29.1 L153.7,29.4 L153.9,29.7 L154.2,30 L154.4,30.3 L154.6,30.6 L154.9,31 L155.1,31.3 L155.3,31.7 L155.5,32 L155.7,32.4 L155.9,32.7 L156.1,33.1 L156.2,33.5 L156.4,33.8 L156.6,34.2 L156.8,34.6 L156.9,35 L157.1,35.4 L157.2,35.8 L157.4,36.2 L157.5,36.6 L157.6,37 L157.8,37.4 L157.9,37.8 L158,38.2 L158.1,38.6 L158.3,39 L158.4,39.4 L158.5,39.8 L158.6,40.3 L158.7,40.7 L158.8,41.1 L158.9,41.5 L159,42 L159.1,42.4 L159.2,42.8 L159.3,43.2 L159.4,43.7 L159.5,44.1 L159.6,44.5 L159.7,45 L159.8,45.4 L159.9,45.8 L159.9,46.3 L160,46.7 L160.1,47.1 L160.2,47.6 L160.3,48 L160.4,48.4 L160.5,48.9 L160.6,49.3 L160.7,49.7 L160.8,50.2 L160.9,50.6 L160.9,51 L161,51.4 L161.1,51.8 L161.2,52.3 L161.3,52.7 L161.5,53.1 L161.6,53.5 L161.7,53.9 L161.8,54.3 L161.9,54.7 L162,55.2 L162.1,55.6 L162.2,56 L162.4,56.4 L162.5,56.8 L162.6,57.2 L162.7,57.6 L162.8,58 L163,58.4 L163.1,58.8 L163.2,59.2 L163.3,59.6 L163.5,60 L163.6,60.4 L163.7,60.8 L163.8,61.2 L164,61.6 L164.1,61.9 L164.2,62.3 L164.3,62.7 L164.5,63.1 L164.6,63.5 L164.7,63.9 L164.8,64.3 L164.9,64.7 L165.1,65.1 L165.2,65.5 L165.3,65.9 L165.4,66.3 L165.5,66.7 L165.7,67.1 L165.8,67.5 L165.9,67.9 L166,68.3 L166.1,68.7 L166.3,69.1 L166.4,69.5 L166.5,69.9 L166.6,70.3 L166.7,70.7 L166.8,71.1 L167,71.5 L167.1,71.9 L167.2,72.3 L167.3,72.7 L167.4,73.1 L167.5,73.5 L167.6,74 L167.8,74.4 L167.9,74.8 L168,75.2 L168.1,75.6 L168.2,76 L168.3,76.4 L168.4,76.8 L168.6,77.2 L168.7,77.6 L168.8,78 L168.9,78.4 L169,78.8 L169.1,79.2 L169.3,79.6 L169.4,80 L169.5,80.4 L169.6,80.8 L169.7,81.2 L169.8,81.6 L169.9,82.1 L170.1,82.5 L170.2,82.9 L170.3,83.3 L170.4,83.7 L170.5,84.1 L170.7,84.5 L170.8,84.9 L170.9,85.3 L171,85.7 L171.1,86.1 L171.3,86.5 L171.4,86.9 L171.5,87.3 L171.6,87.7 L171.7,88.1 L171.9,88.5 L172,88.9 L172.1,89.3 L172.2,89.7 L172.4,90.2 L172.5,90.6 L172.6,91 L172.7,91.4 L172.9,91.8 L173,92.2 L173.1,92.6 L173.3,93 L173.4,93.4 L173.5,93.8 L173.7,94.2 L173.8,94.6 L173.9,95 L174.1,95.4 L174.2,95.8 L174.4,96.2 L174.5,96.6 L174.6,97 L174.8,97.4 L174.9,97.8 L175.1,98.2 L175.2,98.6 L175.4,99 L175.5,99.4 L175.6,99.8 L175.8,100.2 L175.9,100.6 L176.1,101 L176.2,101.4 L176.4,101.7 L176.6,102.1 L176.7,102.5 L176.9,102.9 L177,103.3 L177.2,103.7 L177.4,104.1 L177.5,104.5 L177.7,104.9 L177.8,105.3 L178,105.7 L178.2,106.1 L178.4,106.5 L178.5,106.8 L178.7,107.2 L178.9,107.6 L179,108 L179.2,108.4 L179.4,108.8 L179.6,109.2 L179.8,109.5 L179.9,109.9 L180.1,110.3 L180.3,110.7 L180.5,111.1 L180.7,111.5 L180.9,111.8 L181.1,112.2 L181.3,112.6 L181.5,113 L181.6,113.3 L181.8,113.7 L182,114.1 L182.2,114.5 L182.4,114.8 L182.6,115.2 L182.8,115.6 L183,116 L183.2,116.3 L183.5,116.7 L183.7,117.1 L183.9,117.4 L184.1,117.8 L184.3,118.2 L184.5,118.5 L184.7,118.9 L184.9,119.3 L185.2,119.6 L185.4,120 L185.6,120.3 L185.8,120.7 L186,121.1 L186.3,121.4 L186.5,121.8 L186.7,122.1 L186.9,122.5 L187.2,122.8 L187.4,123.2 L187.6,123.5 L187.9,123.9 L188.1,124.2 L188.3,124.6 L188.6,124.9 L188.8,125.3 L189,125.6 L189.3,125.9 L189.5,126.3 L189.8,126.6 L190,127 L190.3,127.3 L190.5,127.6 L190.8,128 L191,128.3 L191.3,128.6 L191.5,128.9 L191.8,129.3 L192,129.6 L192.3,129.9 L192.6,130.3 L192.8,130.6 L193.1,130.9 L193.4,131.2 L193.6,131.5 L193.9,131.9 L194.2,132.2 L194.5,132.5 L194.8,132.8 L195.1,133.1 L195.4,133.4 L195.7,133.7 L196,134 L196.3,134.4 L196.7,134.7 L197,135 L197.3,135.3 L197.7,135.6 L198,135.9 L198.4,136.2 L198.8,136.4 L199.1,136.7 L199.5,137 L199.9,137.2 L200.2,137.4 L200.6,137.6 L201,137.7 L201.3,137.8 L201.7,137.9 L202.1,137.9 L202.4,137.9 L202.8,137.8 L203.1,137.7 L203.5,137.5 L203.8,137.3 L204.1,137.1 L204.5,136.9 L204.8,136.6 L205.1,136.3 L205.4,136 L205.7,135.7 L206,135.3 L206.3,135 L206.5,134.6 L206.8,134.2 L207.1,133.8 L207.3,133.5 L207.6,133.1 L207.8,132.7 L208.1,132.3 L208.3,131.9 L208.5,131.5 L208.7,131.1 L208.9,130.8 L209.1,130.4 L209.3,130 L209.5,129.6 L209.7,129.2 L209.8,128.9 L210,128.5 L210.2,128.1 L210.3,127.7 L210.5,127.3 L210.6,127 L210.8,126.6 L211,126.2 L211.1,125.8 L211.2,125.4 L211.4,125.1 L211.5,124.7 L211.7,124.3 L211.8,123.9 L212,123.5 L212.1,123.1 L212.2,122.7 L212.4,122.4 L212.5,122 L212.6,121.6 L212.8,121.2 L212.9,120.8 L213.1,120.4 L213.2,120 L213.3,119.6 L213.5,119.2 L213.6,118.8 L213.7,118.4 L213.9,118 L214,117.6 L214.1,117.2 L214.3,116.7 L214.4,116.3 L214.5,115.9 L214.6,115.5 L214.8,115.1 L214.9,114.7 L215,114.3 L215.2,113.9 L215.3,113.5 L215.4,113.1 L215.5,112.6 L215.7,112.2 L215.8,111.8 L215.9,111.4 L216.1,111 L216.2,110.6 L216.3,110.1 L216.4,109.7 L216.5,109.3 L216.7,108.9 L216.8,108.5 L216.9,108.1 L217,107.6 L217.2,107.2 L217.3,106.8 L217.4,106.4 L217.5,106 L217.6,105.6 L217.7,105.1 L217.9,104.7 L218,104.3 L218.1,103.9 L218.2,103.5 L218.3,103.1 L218.4,102.6 L218.6,102.2 L218.7,101.8 L218.8,101.4 L218.9,101 L219,100.6 L219.1,100.2 L219.2,99.7 L219.3,99.3 L219.5,98.9 L219.6,98.5 L219.7,98.1 L219.8,97.7 L219.9,97.3 L220,96.9 L220.1,96.5 L220.2,96 L220.3,95.6 L220.4,95.2 L220.5,94.8 L220.6,94.4 L220.7,94 L220.8,93.6 L220.9,93.2 L221,92.8 L221.1,92.4 L221.2,92 L221.4,91.6 L221.5,91.2 L221.6,90.8 L221.7,90.4 L221.8,90 L221.9,89.6 L221.9,89.2 L222,88.8 L222.1,88.4 L222.2,88 L222.3,87.6 L222.4,87.3 L222.5,86.9 L222.6,86.5 L222.7,86.1 L222.8,85.7 L222.9,85.3 L223,84.9 L223.1,84.5 L223.2,84.1 L223.3,83.7 L223.4,83.3 L223.5,82.9 L223.6,82.5 L223.7,82.1 L223.8,81.7 L223.9,81.4 L224,81 L224.1,80.6 L224.2,80.2 L224.2,79.8 L224.3,79.4 L224.4,79 L224.5,78.6 L224.6,78.2 L224.7,77.8 L224.8,77.4 L224.9,77 L225,76.6 L225.1,76.2 L225.2,75.8 L225.3,75.4 L225.4,75 L225.5,74.6 L225.6,74.2 L225.6,73.8 L225.7,73.4 L225.8,73 L225.9,72.6 L226,72.2 L226.1,71.8 L226.2,71.4 L226.3,71 L226.4,70.6 L226.5,70.2 L226.6,69.8 L226.7,69.4 L226.8,69 L226.9,68.6 L227,68.2 L227.1,67.8 L227.2,67.4 L227.3,67 L227.4,66.6 L227.5,66.1 L227.6,65.7 L227.7,65.3 L227.8,64.9 L227.9,64.5 L228,64.1 L228.1,63.7 L228.2,63.2 L228.3,62.8 L228.4,62.4 L228.5,62 L228.6,61.5 L228.7,61.1 L228.8,60.7 L228.9,60.3 L229,59.8 L229.1,59.4 L229.2,59 L229.3,58.5 L229.4,58.1 L229.5,57.7 L229.6,57.2 L229.7,56.8 L229.8,56.3 L229.9,55.9 L230.1,55.4 L230.2,55 L230.3,54.6 L230.4,54.1 L230.5,53.7 L230.6,53.2 L230.7,52.7 L230.8,52.3 L231,51.8 L231.1,51.4 L231.2,50.9 L231.3,50.4 L231.4,50 L231.5,49.5 L231.7,49 L231.8,48.6 L231.9,48.1 L232,47.6 L232.1,47.1 L232.3,46.7 L232.4,46.2 L232.5,45.7 L232.6,45.2 L232.8,44.7 L232.9,44.3 L233,43.8 L233.2,43.3 L233.3,42.9 L233.4,42.4 L233.6,42 L233.7,41.5 L233.9,41.1 L234,40.7 L234.2,40.3 L234.3,40 L234.5,39.6 L234.6,39.3 L234.8,39 L235,38.8 L235.2,38.5 L235.3,38.3 L235.5,38.1 L235.7,38 L235.9,37.8 L236.1,37.7 L236.3,37.7 L236.6,37.7 L236.8,37.7 L237,37.8 L237.2,37.9 L237.5,38 L237.7,38.2 L238,38.4 L238.2,38.7 L238.5,38.9 L238.7,39.2 L238.9,39.5 L239.1,39.8 L239.4,40.1 L239.6,40.4 L239.8,40.7 L240,41.1 L240.1,41.4 L240.3,41.7 L240.5,42.1 L240.6,42.5 L240.8,42.8 L240.9,43.2 L241.1,43.5 L241.2,43.9 L241.3,44.3 L241.5,44.7 L241.6,45.1 L241.7,45.5 L241.8,45.9 L241.9,46.3 L242,46.7 L242.1,47.1 L242.1,47.5 L242.2,47.9 L242.3,48.3 L242.4,48.8 L242.4,49.2 L242.5,49.6 L242.5,50.1 L242.6,50.5 L242.6,50.9 L242.7,51.4 L242.7,51.8 L242.8,52.3 L242.8,52.7 L242.9,53.2 L242.9,53.6 L242.9,54.1 L243,54.5 L243,55 L243,55.4 L243.1,55.9 L243.1,56.3 L243.1,56.8 L243.1,57.2 L243.2,57.7 L243.2,58.1 L243.2,58.6 L243.3,59 L243.3,59.5 L243.3,59.9 L243.3,60.4 L243.4,60.8 L243.4,61.3 L243.5,61.7 L243.5,62.2 L243.5,62.6 L243.6,63.1 L243.6,63.5 L243.7,63.9 L243.7,64.4 L243.8,64.8 L243.8,65.2 L243.9,65.7 L243.9,66.1 L244,66.5 L244.1,66.9 L244.1,67.4 L244.2,67.8 L244.2,68.2 L244.3,68.6 L244.4,69 L244.4,69.4 L244.5,69.9 L244.6,70.3 L244.6,70.7 L244.7,71.1 L244.8,71.5 L244.9,71.9 L244.9,72.3 L245,72.7 L245.1,73.1 L245.1,73.5 L245.2,73.9 L245.3,74.4 L245.4,74.8 L245.4,75.2 L245.5,75.6 L245.6,76 L245.6,76.4 L245.7,76.8 L245.8,77.2 L245.8,77.6 L245.9,78 L246,78.4 L246,78.8 L246.1,79.2 L246.1,79.6 L246.2,80.1 L246.2,80.5 L246.3,80.9 L246.4,81.3 L246.4,81.7 L246.5,82.1 L246.5,82.5 L246.6,82.9 L246.6,83.3 L246.7,83.8 L246.7,84.2 L246.7,84.6 L246.8,85 L246.8,85.4 L246.9,85.8 L246.9,86.2 L247,86.6 L247,87.1 L247,87.5 L247.1,87.9 L247.1,88.3 L247.2,88.7 L247.2,89.1 L247.2,89.6 L247.3,90 L247.3,90.4 L247.3,90.8 L247.4,91.2 L247.4,91.6 L247.4,92.1 L247.5,92.5 L247.5,92.9 L247.5,93.3 L247.6,93.7 L247.6,94.1 L247.6,94.6 L247.7,95 L247.7,95.4 L247.7,95.8 L247.7,96.2 L247.8,96.7 L247.8,97.1 L247.8,97.5 L247.9,97.9 L247.9,98.3 L247.9,98.8 L247.9,99.2 L248,99.6 L248,100 L248,100.4 L248,100.9 L248.1,101.3 L248.1,101.7 L248.1,102.1 L248.2,102.6 L248.2,103 L248.2,103.4 L248.2,103.8 L248.3,104.2 L248.3,104.7 L248.3,105.1 L248.4,105.5 L248.4,105.9 L248.4,106.4 L248.4,106.8 L248.5,107.2 L248.5,107.6 L248.5,108.1 L248.6,108.5 L248.6,108.9 L248.6,109.3 L248.7,109.7 L248.7,110.2 L248.7,110.6 L248.8,111 L248.8,111.4 L248.8,111.9 L248.9,112.3 L248.9,112.7 L248.9,113.1 L249,113.6 L249,114 L249.1,114.4 L249.1,114.8 L249.1,115.2 L249.2,115.7 L249.2,116.1 L249.3,116.5 L249.3,116.9 L249.4,117.4 L249.4,117.8 L249.4,118.2 L249.5,118.6 L249.5,119.1 L249.6,119.5 L249.6,119.9 L249.7,120.3 L249.7,120.7 L249.8,121.2 L249.9,121.6 L249.9,122 L250,122.4 L250,122.9 L250.1,123.3 L250.2,123.7 L250.2,124.1 L250.3,124.5 L250.3,125 L250.4,125.4 L250.5,125.8 L250.5,126.2 L250.6,126.7 L250.7,127.1 L250.8,127.5 L250.8,127.9 L250.9,128.3 L251,128.8 L251.1,129.2 L251.2,129.6 L251.2,130 L251.3,130.4 L251.4,130.9 L251.5,131.3 L251.6,131.7 L251.7,132.1 L251.8,132.5 L251.9,133 L252,133.4 L252.1,133.8 L252.2,134.2 L252.3,134.6 L252.4,135 L252.5,135.5 L252.6,135.9 L252.7,136.3 L252.8,136.7 L252.9,137.1 L253,137.5 L253.1,138 L253.3,138.4 L253.4,138.8 L253.5,139.2 L253.6,139.6 L253.8,140 L253.9,140.4 L254,140.8 L254.2,141.2 L254.3,141.6 L254.5,142 L254.6,142.4 L254.8,142.8 L255,143.2 L255.1,143.6 L255.3,144 L255.5,144.3 L255.7,144.7 L255.9,145.1 L256.1,145.4 L256.3,145.8 L256.5,146.2 L256.7,146.5 L256.9,146.8 L257.1,147.2 L257.4,147.5 L257.6,147.8 L257.9,148.1 L258.1,148.5 L258.4,148.8 L258.7,149 L259,149.3 L259.2,149.6 L259.5,149.9 L259.8,150.2 L260.2,150.4 L260.5,150.7 L260.8,150.9 L261.2,151.1 L261.5,151.3 L261.9,151.6 L262.3,151.8 L262.6,151.9 L263,152.1 L263.4,152.3 L263.8,152.5 L264.3,152.6 L264.7,152.7 L265.2,152.9 L265.6,153 L266.1,153.1 L266.6,153.2" fill="none" stroke="#ff0000" stroke-width="4.7" stroke-linejoin="round" stroke-linecap="round"/>
</g>
<line x1="73.3" y1="155" x2="73.3" y2="157" stroke="#686868" stroke-width="1.2"/>
<line x1="94.8" y1="155" x2="94.8" y2="158" stroke="#686868" stroke-width="1.2"/>
<line x1="116.2" y1="155" x2="116.2" y2="157" stroke="#686868" stroke-width="1.2"/>
<line x1="137.7" y1="155" x2="137.7" y2="158" stroke="#686868" stroke-width="1.2"/>
<line x1="159.1" y1="155" x2="159.1" y2="157" stroke="#686868" stroke-width="1.2"/>
<line x1="180.6" y1="155" x2="180.6" y2="158" stroke="#686868" stroke-width="1.2"/>
<line x1="202.1" y1="155" x2="202.1" y2="157" stroke="#686868" stroke-width="1.2"/>
<line x1="223.5" y1="155" x2="223.5" y2="158" stroke="#686868" stroke-width="1.2"/>
<line x1="244.9" y1="155" x2="244.9" y2="157" stroke="#686868" stroke-width="1.2"/>
<text transform="translate(95.20,168.40) scale(1.08,1)" font-size="10" text-anchor="middle">1.5</text>
<text transform="translate(138.10,168.40) scale(1.08,1)" font-size="10" text-anchor="middle">2.0</text>
<text transform="translate(181.00,168.40) scale(1.08,1)" font-size="10" text-anchor="middle">2.5</text>
<text transform="translate(223.90,168.40) scale(1.08,1)" font-size="10" text-anchor="middle">3.0</text>
<line x1="50" y1="138.2" x2="52" y2="138.2" stroke="#686868" stroke-width="1.2"/>
<line x1="266.7" y1="138.2" x2="265.7" y2="138.2" stroke="#686868" stroke-width="1.2"/>
<line x1="48.5" y1="121.5" x2="52" y2="121.5" stroke="#686868" stroke-width="1.2"/>
<line x1="266.7" y1="121.5" x2="265.2" y2="121.5" stroke="#686868" stroke-width="1.2"/>
<text transform="translate(46.40,125.10) scale(1.12,1)" font-size="10" text-anchor="end">400</text>
<line x1="50" y1="104.8" x2="52" y2="104.8" stroke="#686868" stroke-width="1.2"/>
<line x1="266.7" y1="104.8" x2="265.7" y2="104.8" stroke="#686868" stroke-width="1.2"/>
<line x1="48.5" y1="88.0" x2="52" y2="88.0" stroke="#686868" stroke-width="1.2"/>
<line x1="266.7" y1="88.0" x2="265.2" y2="88.0" stroke="#686868" stroke-width="1.2"/>
<text transform="translate(46.40,91.60) scale(1.12,1)" font-size="10" text-anchor="end">800</text>
<line x1="50" y1="71.2" x2="52" y2="71.2" stroke="#686868" stroke-width="1.2"/>
<line x1="266.7" y1="71.2" x2="265.7" y2="71.2" stroke="#686868" stroke-width="1.2"/>
<line x1="48.5" y1="54.5" x2="52" y2="54.5" stroke="#686868" stroke-width="1.2"/>
<line x1="266.7" y1="54.5" x2="265.2" y2="54.5" stroke="#686868" stroke-width="1.2"/>
<text transform="translate(46.40,58.10) scale(1.12,1)" font-size="10" text-anchor="end">1200</text>
<line x1="50" y1="37.8" x2="52" y2="37.8" stroke="#686868" stroke-width="1.2"/>
<line x1="266.7" y1="37.8" x2="265.7" y2="37.8" stroke="#686868" stroke-width="1.2"/>
<line x1="48.5" y1="21.0" x2="52" y2="21.0" stroke="#686868" stroke-width="1.2"/>
<line x1="266.7" y1="21.0" x2="265.2" y2="21.0" stroke="#686868" stroke-width="1.2"/>
<text transform="translate(46.40,24.60) scale(1.12,1)" font-size="10" text-anchor="end">1600</text>
<text transform="translate(62.20,22.80) scale(1.13,1)" font-size="10" text-anchor="start">ZnO</text>
<text transform="translate(107.00,184.40) scale(1.13,1)" font-size="10" text-anchor="start">Photon Energy (eV)</text>
<text transform="translate(13.6,75.8) scale(1.145,1) rotate(-90)" font-size="9.85" text-anchor="middle">PL Intensity</text>
<rect x="330.4" y="4.6" width="215.1" height="150.4" fill="none" stroke="#686868" stroke-width="1.4"/>
<clipPath id="cSmZnO"><rect x="330.4" y="1.6" width="215.1" height="154.9"/></clipPath>
<g clip-path="url(#cSmZnO)">
<polyline points="360.1,154.2 361,155.1 360.2,155.4 360.7,154.1 361.5,154 362.3,153.5 361.7,154.3 362.9,154.1 361.5,154.5 362.9,154.5 363.3,154.3 363.1,153.7 363.3,154 364.3,155.2 364.5,154.4 365.5,154.1 365.4,153.4 365.5,153.6 365.8,154.2 366.2,153.7 367.2,153.4 367.6,152.7 366.9,153.8 368.8,153.2 367.9,152.4 368.1,152 368.3,151.6 369.5,152.4 369.7,152.7 369.4,150.9 370.3,152.4 370.1,151.8 371,150.9 371.2,151 371.2,150.8 372.1,150.9 371.1,150.1 372.5,150.6 372.6,149.8 372.3,149.8 373.5,150.1 372.6,149.8 373.4,150.3 372.9,148.9 375,150.1 374,148.7 373.8,148.3 373.8,147.3 374.5,147.1 374.2,147.6 374.1,147.5 374.5,147.1 374.9,146.4 376.2,146.3 374.6,145.8 374.4,145.1 375.1,145.5 374.6,144.3 375.9,144.9 375.9,143.9 375.4,144.3 374.3,143 375.2,142.9 375.5,142.7 374.9,142.1 375.7,142 374.3,141.6 376.4,141.4 376.5,140.1 375.3,140.3 375.6,139.4 376.4,140.1 377.1,139.3 376.1,138.5 376.1,139.3 376.6,138.3 376.7,138.3 376.6,138.3 376.9,137 377.2,137.3 375.9,136.9 377.9,136.3 375.5,135.8 377.8,135.8 376.9,135.8 377,136.2 377.6,135.6 378.3,134.7 377.5,133.5 379.3,134.9 378.4,133.3 377,132.9 377.7,133.2 378.3,132.9 380.2,132.3 377.9,130.9 377.4,131.1 377.5,131.7 379.4,130.9 378.7,131.3 378.5,130.8 379,129.3 379.7,130.1 378.6,129.1 378.8,129.2 379.2,129.5 379.6,127.8 380.3,128.2 379.1,126.8 378.5,127.2 380.3,126.3 380.3,126.5 380.5,126.7 382.4,127 381.8,126.6 381.4,125 380,124.3 380.8,125.2 380.3,124.2 381.3,123.6 381.3,123.6 382.3,123.4 381.3,122.4 380.2,122.2 382.1,122.2 382.1,121.8 381.7,122 383.1,121.3 382.9,121.5 382.2,121 383.7,120.2 383.6,121.1 383.5,120.2 384.8,120.8 385.7,121.1 385.3,120.9 384.7,119.1 385.6,119 385.5,117.7 386.5,119.3 387.3,119.9 385.5,117.9 386.7,118 386.8,118.6 386,117.3 387.7,117.6 388.1,117.2 387.3,116.4 387.5,115.9 389.1,118.1 388.6,116.7 390.7,117.3 389.8,117.9 389.2,115.9 388.8,115 389.9,115.4 390.3,116.5 391,115.4 391.1,114.9 391.4,115 391.2,114.4 391.3,114.3 392.1,114 391.8,113.8 391.1,113.6 392.6,113.9 391,112.8 392.9,113.7 392.6,113.2 393.5,112.5 393.7,112.6 393.9,112.4 392.4,112 393.3,111.1 393.6,110.9 393.1,111 394,110.2 392.6,110.1 394.3,110.5 394,109.9 395.3,109.2 392.2,108.9 393,108.3 394.1,107.9 393.7,107.6 395.6,107.9 394.2,107.4 394.8,106.9 395.1,106.6 394.9,105.9 395.7,106.3 397.3,106.7 397.1,105.6 396.7,105.7 395.6,104.2 394.9,104.4 396.1,103.7 396.9,104.2 397.3,104.1 395.9,102.9 396.8,103.2 395.5,101.8 398.2,101.8 397.3,102.1 397.4,101.9 396.4,101.6 397.2,101 396,99.8 397.3,99.9 397.2,99.7 400,100.3 398.3,99.1 397.7,99 398.8,99.4 398.1,98.2 399.2,98.5 398.3,97.8 398.9,97.7 401.2,98.2 399.3,96.5 398.2,96.1 399.1,95.8 399.8,95.5 399,95.6 398.9,94.6 400.7,95.5 400.4,95.2 399.9,93.7 401.7,94.3 400.9,93.7 400.5,93 401.8,93.2 402.8,94.3 401.8,92 403.3,93.3 402.7,92.6 402.5,91 401.7,90.2 402.5,90.9 404.6,92 404,91.8 403.1,90.9 402.7,89 403.9,89.6 404.1,89.5 403.8,89.2 404.6,88.9 404.1,88.8 405,88.5 405,87.8 405.6,87.8 405.8,87 405.9,87 407,87.4 406.1,85.8 407.5,86.5 407.2,85.8 407.5,85.6 407.5,84.7 406.6,84.2 408.8,83.9 407.7,83.1 409.5,82.9 409.7,82.3 408.6,81.8 409.4,81.1 409,81.5 409.7,81.5 409.6,79.4 408.9,79.5 408.9,77.4 410.2,79.4 411.7,78.4 409.3,77 412.4,79 410.1,76.1 412.2,78.5 411.8,76 412.6,76.8 412.4,76.2 413,76.6 413.8,76 413.5,75.1 412,74.4 414.3,75.3 414,75.5 414,74.9 414.8,75.9 414.8,75 414.7,74.2 416.7,74.7 415.7,74.9 415.7,74.8 416.9,75.7 414.7,73.7 416.9,74.7 417,74.5 416.3,74.4 416.7,74.1 415.8,74.2 417,72.8 417.1,73.1 417.8,73.2 417.3,73.4 418.1,73.9 417.4,72 417,71.5 417.2,71.9 419.7,72.4 418.6,71.2 418.5,71 418.5,70.5 418.5,70.1 419.2,70.2 420,70.7 419.3,69.4 419.6,69.9 418.3,68.8 420.8,69.5 420.2,69.5 420.1,67.4 420.2,68.2 418.7,67 420.1,66.6 421,67.1 419.6,66.2 421.1,66.8 418.6,65.4 420.7,65.2 422.1,65.7 422.3,64.8 421.5,64.8 421.5,64.5 420.4,63.9 421.1,63.6 421.1,63.6 420.5,62.5 422.2,63.4 421.9,62.4 422.7,61.7 421.2,61.7 420.5,61.5 421.1,60.8 420.2,60.9 420.3,59.9 421.5,59.6 421.9,59.9 420.9,59.4 420.9,58.3 421.7,58.6 422.5,58.9 420.6,58.2 422,57.6 423,57.9 423.1,56.4 422.1,56.1 420.5,55.6 421.2,56 423.3,55.3 421.1,55.5 421.6,54.7 422.1,54.2 421,54.2 423,53.5 423.2,53.5 422.9,54 423.7,52.8 423.6,53.4 423.7,52.4 422.9,51.7 422.8,51.9 424,51.7 424,50.9 422.4,50.4 422.9,49.6 424.9,50.5 423.7,50 422.1,49.4 425.4,48.8 425,48.4 425.4,47.9 425.1,47.6 423.5,47.6 425.3,47.8 425.9,46.5 425,45.8 423.8,45 424.4,45.3 425.6,44.9 424.7,43.8 425.2,44.1 425.9,43 425.7,42.3 426.7,42.6 425.9,41.9 426.9,41.9 426.4,41.5 427.4,41.8 427,40.3 426.6,39.7 426.5,39.8 426.2,38.6 427.9,38.9 426.6,37.5 429.5,37.2 429.5,36.8 427.2,36.5 427.3,35 427.6,34.8 428.4,34.8 429.4,34.7 428,33.6 427.4,33.2 429.3,33.8 431.3,33.9 430.3,33 431.1,33.1 431.7,33.3 431,32.4 430.9,31.3 432.4,31.1 433,31.1 433.5,31 433.2,32.9 433.5,32.8 434.3,32.3 435.1,31.9 436,32.6 437,33.2 436.3,33.9 435.8,34.1 435.6,35.1 435.9,35.8 436.2,36.4 436.7,36.3 437.7,36.6 436.3,37.6 440.1,35.7 438.1,37.1 439.2,37.9 438.7,37.8 438.1,37.8 439.1,38.3 439.3,39 439.7,40 439.9,39 440.1,40 439.9,40.8 439.1,40.2 439,41.6 439.1,41.8 438.8,42.4 439.9,41.9 439.9,42.6 441.5,42.6 440.5,43.3 441.7,43.5 442.5,43.2 441.8,44.1 440.6,45.1 442.2,45.2 441.7,45 441.7,45.9 443.2,45.8 442,47.1 441.8,46.7 442.3,47.5 442,47 441.9,48.5 441.7,48.9 442.4,48.4 443,48 440.4,49.4 443.2,49.5 443.4,49.9 443,50.3 442.7,51.3 443.7,50.5 444,52.2 443.9,51.3 444.1,52.1 443.3,53.1 444.7,52.4 443.8,53.1 444,54.2 443.6,54.3 444.3,54.3 443.1,55.2 443.3,55.6 444.3,55.4 443.9,55.5 443.6,56.3 444.6,56.5 444.5,57.1 445,57.1 444.7,57.4 445.5,57.3 444,58.5 445.6,58.3 445.4,58.2 444.5,59.3 445.3,58.9 445.8,58.9 446.7,59.3 445.1,60.1 444.6,61 444.1,61.4 446.2,61.2 446,61.2 444.3,62 447.4,62.2 444.9,63.8 447.2,63.3 447.7,63.6 445.1,64.1 446.3,64.9 447.5,64.1 446.5,63.9 447.1,64.6 448.5,65.2 447.1,65.5 448.3,65.5 448.5,66.1 447.3,66.8 449.1,65.9 448.5,67.3 447.7,68.2 448.5,67.9 447,68.7 446.9,69.1 450.1,68 449.6,68.4 448.4,69.8 447,70.3 447.7,70.1 449.3,70.2 449,70.7 449.2,71.6 448.9,71.3 449,72.1 449.2,71.2 449,72.6 451.6,71.9 448.8,72.7 449.1,72.8 448.6,73.9 448,74.3 449,75 451.4,75.1 449.9,75.3 452,74.5 451.4,74.9 450.8,75.2 449.7,76.4 449.7,76 450.3,76.8 451.8,77.2 448.3,78.2 451.5,77.7 449.7,77.9 450.2,78.3 450.4,78.9 451.9,78.6 451.1,79.1 451.3,80.3 450.4,79.9 451.1,80.6 450.6,81.2 451.4,81.5 450.1,82.2 452.6,81.3 453.4,81.8 450.2,82.4 450.9,82.8 451.5,83.4 451.6,83.5 450.8,83.3 451.2,83.9 452.7,83.4 453,83.5 452,85.2 451.1,85.4 453.1,85.2 452.4,86.2 453.1,85.8 453.9,86.4 453.6,86.4 453.8,87.2 453.6,87.4 453.8,87.9 451.4,89.9 452.5,89.1 453,89 453,89.9 454.4,89.9 452,90.8 452.3,91.7 454.1,91.1 453.7,91.2 453.3,92.4 453.6,92.3 453.1,92.2 453.6,92.5 453.7,93.1 454.7,92.3 453.7,93 455.3,93 454.9,94 454.3,93.7 456.2,94.3 455.5,95.3 453.7,95.3 456.7,96 454.2,96.2 455.9,96.1 456.4,96.6 455.2,97.3 455,98 454.9,98.4 457.7,96.7 457,97.4 455.8,99.4 456.8,99 456.2,99.3 456.3,99.5 455.6,99.6 457.8,99.9 458.1,100.5 456.6,100.5 456.1,101.4 456.3,101.6 454.3,102.5 456.3,102.2 456.3,102.2 456.2,103.8 456,103.4 456.2,103.8 456.8,104.9 456.4,105.1 456.9,105 459.8,104.3 457.2,104.2 457.2,105.7 457.8,106 456.6,106.3 458.6,106.3 458.1,107.2 458.2,107.4 457.1,108 456.9,109.1 457.8,109.2 458,108.7 459.8,108.7 458.8,109.2 458.4,109.4 457.9,109.5 458.7,110.1 460.7,111 460.8,110 458.9,111.4 458.2,112.7 460.2,111.9 461.5,111.9 459.5,112.8 459.5,113.3 458.8,113.9 459.7,113.6 459.8,114 458.7,115.1 460.4,115.4 460.6,115.3 460.6,115.2 459.5,115.8 460,115.2 460.6,116.1 461.5,116.9 461.1,117.5 462.5,117.2 461.1,117.8 463.2,118 462.5,117.2 460,120 462.7,119.2 462.5,118.9 462.6,119.4 463.7,119.7 461.4,120.3 463.6,120.5 463,120.9 461.5,121.3 463.1,120.7 463.6,121.9 463.9,122.2 465,121.9 462.5,122.5 461.6,124 464.2,122.5 463.9,123.4 463.8,124.2 464,123.9 464.9,124.3 462.9,126 465.8,124.5 465.8,124.4 464.9,126.5 466.2,125.8 466,125.9 466.1,126.8 466.3,126.8 466.4,127.2 466,126.9 466.2,127.4 465.8,128.5 466.2,128 466.1,129.2 466.3,129.3 467,129.4 466.6,130 467.3,129.2 467.7,129.5 467.9,130.5 467.9,130 466.9,131.1 468.5,131 467.1,132.8 469.1,131 468.6,132.2 468,132.7 469.3,132.1 469.2,132.8 470.6,132.1 469.7,132.9 470.6,132.8 470.3,134.2 470.8,132.9 470.6,134.8 470.8,135.2 471.3,135.3 469.9,134.9 471,136.5 471,135.6 471.2,135.7 472.1,135.6 471.7,136.2 473.5,135.4 473.6,135.9 473.1,136.8 473.8,135.3 473.3,135.3 472.3,138 473.2,137.7 474.3,137.9 474,138 473.6,138.3 474.7,137.8 475.7,137.4 475.1,139.6 475.3,139.1 475.5,139 475.8,138.8 476.4,139.2 477.5,138.4 477.2,137.4 477.9,139.5 477.5,140 479,139 478.8,139 479,139.7 479.3,139.6 479.3,140.2 479.2,140.3 479.6,140.4 480.1,140.4 480.7,141.2 481.8,140 480.6,141.8 481.3,140.9 481.8,140.2 482.7,140.9 482.2,140.4 484.1,139.7 483.5,139.5 483.8,139.4 484.3,140.7 484.6,139.5 484.3,140.7 484.7,140.3 485,140.5 485.5,141 485.8,140.9 486.7,139.4 486.5,140.6 486.9,139.5 487.8,139.7 488,140.3 487.9,139.7 488.2,140.1 489.3,142.2 489.1,138.5 488.7,137.8 489.2,139 489.8,140 490.4,138.9 491.4,140.2 490.7,138.3 491.6,139.6 490.7,138.8 492.8,138.7 492,138.8 492.7,139.4 491.9,137.1 493,138.2 492.9,137.2 493.7,137.8 493.5,137.6 493.8,137.5 493.1,136.9 494.8,135.6 494.7,136.7 495.1,135.5 495.7,136.2 495.7,134.9 496,134.7 496.2,135.3 496.2,135.4 496.6,135.2 495.4,133.6 495.8,132.3 496.7,133.6 496.7,133.5 497,132.9 498.5,133.9 497.5,132.4 497.8,132.3 498.7,132.2 497.6,131.4 498,131.7 498,131.2 499.4,131 499.6,131.2 498.9,130.5 499.9,130 499.7,130.4 500.4,130.3 500.6,129.6 501.4,130.3 501.1,128.7 501.6,130 500.8,128.4 500.9,128.1 502,128.6 501.4,127.3 502,127.7 501.9,126.9 502.6,127 502.4,127.4 502.7,126.1 502.3,126 504,126.7 503.4,126.9 503.4,126 503.7,125.6 503.8,124.7 504.2,124.4 505.2,124.2 505.7,124.9 504.1,124 504.6,124.3 505.4,123.7 505.6,124.5 505.5,123.5 506.2,123.3 506.8,122.7 505.3,121.9 506.5,122.3 506.2,122.1 506.9,121.5 507,121.7 506.9,121.4 506.6,121 506.7,119.8 507.4,119.7 506.7,119.6 507.5,119.7 507.8,119.4 507.9,118.6 506.7,117.8 507.5,118.1 507.3,117.4 508.4,117.7 508.4,117.4 508.8,116.3 508.6,116.9 510,116.8 509.5,116.5 509.1,115.5 509.1,114.8 509.9,115.4 509.9,115.2 509.9,114.8 509.2,114.2 508.2,114 509.3,113.7 510.2,113.5 510.2,112.4 510.5,112.6 510.9,112.4 510.9,111.9 510.7,110.8 510.9,111.7 511.1,110.2 511.6,110.1 511.6,110.4 510.8,110 511.2,110.1 512,108.7 511.6,108.6 511.1,108.2 512.3,107.9 511.8,107.2 512,106.4 511.5,106.4 510.4,106.3 511.9,106 510.9,104.9 511.8,104.8 511.4,104.6 511.8,104.8 512.4,103.4 512.2,103.2 513.9,103.5 513.2,102.4 512.7,102.2 512.3,101.7 513.9,102.3 514.7,101.3 513.4,101.6 513.1,100.8 513.9,99.9 514.8,100.9 513.8,99.8 513.2,99.3 513.9,98.3 514.8,99.4 514.6,98.5 515,98.1 515,97.4 514.4,97 514.6,96.9 515.7,97.1 516.1,96.2 515.6,96.6 515.7,95 516.2,95 515.7,94.1 515.6,95 515.6,94.6 516.3,94 516.3,93.6 515.9,93 515.5,92.4 517.1,92.7 518.1,92.9 515.8,92.4 515.8,92.3 516.3,91.6 517.2,91.7 517.7,91.2 517.4,91 517.5,90.8 518.4,90.6 517.3,90.3 517.9,89.3 518.6,89.2 519.8,89.9 519.1,89.5 519.9,88.7 519.4,88.8 519.8,89.3 519.3,88.2 520.5,88.3 520.5,88.8 520.5,87.9 521.3,87.3 521.9,87.9 522.4,88.1 523.2,87.7 522.8,88.3 524,88.5 523.7,88.9 523.2,89.6 523.6,89.1 523.4,90.1 525.1,89.6 523.8,91.2 525,90.7 524.3,91.1 526,91.1 527,89.8 524.1,92.1 524.5,92.2 525.8,92.8 524.7,93.3 526,93.1 526.5,93.6 525.3,94 525.8,93.6 525.9,94.9 526.3,94.7 527.7,94.9 526.7,95 527,95.5 526.3,96 525.9,96.9 526,97.3 526.3,97.8 527,98 526.3,98.3 527.4,98.3 526.9,98.4 525.3,99.5 526.3,99.1 527.2,98.7 526.9,100.4 527.3,100.4 526.9,100.9 526.5,101.1 527.9,101.1 527.4,101.8 526.8,101.6 527.1,102.4 527.1,103.1 527.9,103.6 527.9,103.3 528.6,104.2 528.2,104 528.6,105.7 528.3,105.7 527.6,105.7 528,106.3 528.1,106.5 527.5,106.4 528.2,108.1 527.6,107.8 528.9,107.6 527.3,108.5 528.2,108.3 529.2,109.2 528.3,108.8 529.1,110.1 528.9,110.7 527.8,110.1 528.9,111 528.4,111 529.1,111.6 529,111.5 528.6,112.5 529.1,112 528.5,112.8 528.7,113.3 529,114 528.9,114.1 529.3,115 528.8,114.5 529.9,115.5 530.1,115.3 528.7,115.9 528.8,115.7 529.4,116 527.4,117.1 528.4,117.5 528.4,117.2 527.9,117.7 529.1,119.2 529.5,118.4 530,119.1 528.1,118.9 528.4,119.7 529.3,119.9 529,120.2 529.6,121.1 528.9,121.7 529,121.5 530.5,122 529.5,121.5 529.7,122.4 529.6,123.3 529.5,124 529.8,123.6 529.7,124 530.6,124.2 529.3,124.4 530.7,125 529.5,125.3 530.2,125.8 529.6,126.1 529.4,126.1 530.2,127.2 530.4,127.6 530.7,127.7 530.2,126.9 529.2,128 531.5,128 530.4,128.9 530.4,128.8 530.9,129.4 530.4,129.3 531.7,129.4 530.4,130.3 531,130.7 532.1,131.2 531.2,131.2 531.8,131.3 531.3,131.4 531.6,132 530.7,132.8 532.8,132.6 531.4,133.7 532,133.4 532.8,133.8 533,133.4 531.8,134.4 532.1,134.2 532.2,134.4 532,135.3 532.6,135.7 532.2,136.2 532.8,136.1 532.7,136.3 534,137 533.3,137.6 532.5,137.4 533.1,138 533,137.8 532.5,138.2 534.1,138.6 533.2,139.9 533.5,139.2 533.8,139.6 533.9,139.9 534.7,140.3 534,140.5 534,140.7 534.5,140.9 534.9,140.8 535.2,141.8 534.8,141.9 535.4,141.9 535.2,142.6 534.4,143.7 535.9,143.2 535.1,143.6 536.3,143.7 535.8,143.9 537.1,143.9 536.8,143.7 536.7,144.5 536.9,145.6 536.3,145.3 536.8,145.7 537.5,146 538.2,146 538.8,146.3 538.2,146.5 538.7,146.5 538.8,147 538.5,147.9 539.1,147.7 539.5,147.8 538.9,148.6 539.9,147.7 538.9,149.5 539.8,149.9 539.9,149 540,149.4 541,149.9 541.5,149.8 541.4,150.5 541,149.9 541.6,149.8 541.2,150.7 541.2,150.9 541.9,151.4 542.4,151.6 543,150.7 543.8,151.1 544.2,151.6 544,151.3 544.9,151.1 545.2,151.9 545.3,151.5 544.7,151.8 546.3,150.5" fill="none" stroke="none" marker-start="url(#m1)" marker-mid="url(#m1)" marker-end="url(#m1)"/>
<path d="M491.7,154.8 L492.4,154.7 L493.1,154.6 L493.8,154.4 L494.5,154.2 L495.1,154 L495.8,153.7 L496.5,153.3 L497.2,152.8 L497.9,152.2 L498.6,151.5 L499.3,150.7 L500,149.8 L500.7,148.7 L501.4,147.5 L502.1,146.1 L502.7,144.7 L503.4,143.1 L504.1,141.4 L504.8,139.6 L505.5,137.8 L506.2,135.9 L506.9,134 L507.6,132.2 L508.3,130.5 L509,128.8 L509.7,127.4 L510.3,126 L511,124.9 L511.7,124.1 L512.4,123.4 L513.1,123.1 L513.8,123 L514.5,123.2 L515.2,123.7 L515.9,124.5 L516.6,125.5 L517.3,126.8 L518,128.3 L518.6,129.9 L519.3,131.7 L520,133.5 L520.7,135.3 L521.4,137.2 L522.1,139 L522.8,140.7 L523.5,142.4 L524.2,143.9 L524.9,145.3 L525.6,146.7 L526.2,147.9 L526.9,148.9 L527.6,149.9 L528.3,150.7 L529,151.4 L529.7,152 L530.4,152.6 L531.1,153 L531.8,153.4 L532.5,153.7 L533.2,154 L533.8,154.2 L534.5,154.4 L535.2,154.5 L535.9,154.6 L536.6,154.7 L537.3,154.8" fill="none" stroke="#aa7ae0" stroke-width="3.5" stroke-linejoin="round"/>
<path d="M396.3,154.3 L397,154.2 L397.7,154 L398.4,153.7 L399.1,153.5 L399.8,153.1 L400.4,152.7 L401.1,152.3 L401.8,151.8 L402.5,151.2 L403.2,150.5 L403.9,149.7 L404.6,148.8 L405.3,147.8 L406,146.7 L406.7,145.5 L407.4,144.2 L408.1,142.7 L408.7,141.1 L409.4,139.3 L410.1,137.4 L410.8,135.4 L411.5,133.2 L412.2,130.8 L412.9,128.4 L413.6,125.8 L414.3,123 L415,120.2 L415.7,117.2 L416.3,114.2 L417,111 L417.7,107.8 L418.4,104.5 L419.1,101.2 L419.8,97.8 L420.5,94.4 L421.2,91 L421.9,87.7 L422.6,84.3 L423.3,81.1 L423.9,77.9 L424.6,74.8 L425.3,71.8 L426,69 L426.7,66.2 L427.4,63.7 L428.1,61.2 L428.8,59 L429.5,57 L430.2,55.1 L430.9,53.5 L431.6,52.1 L432.2,50.8 L432.9,49.8 L433.6,49 L434.3,48.5 L435,48.1 L435.7,48 L436.4,48.1 L437.1,48.4 L437.8,48.9 L438.5,49.5 L439.2,50.4 L439.8,51.4 L440.5,52.6 L441.2,54 L441.9,55.5 L442.6,57.2 L443.3,58.9 L444,60.8 L444.7,62.8 L445.4,64.9 L446.1,67.1 L446.8,69.3 L447.4,71.6 L448.1,73.9 L448.8,76.3 L449.5,78.7 L450.2,81.2 L450.9,83.6 L451.6,86.1 L452.3,88.5 L453,91 L453.7,93.4 L454.4,95.8 L455.1,98.1 L455.7,100.5 L456.4,102.7 L457.1,105 L457.8,107.2 L458.5,109.3 L459.2,111.4 L459.9,113.4 L460.6,115.4 L461.3,117.3 L462,119.2 L462.7,121 L463.3,122.7 L464,124.4 L464.7,126 L465.4,127.5 L466.1,129 L466.8,130.4 L467.5,131.8 L468.2,133.1 L468.9,134.3 L469.6,135.5 L470.3,136.6 L471,137.7 L471.6,138.7 L472.3,139.7 L473,140.6 L473.7,141.5 L474.4,142.3 L475.1,143.1 L475.8,143.8 L476.5,144.5 L477.2,145.2 L477.9,145.8 L478.6,146.4 L479.2,147 L479.9,147.5 L480.6,148 L481.3,148.5 L482,148.9 L482.7,149.3 L483.4,149.7 L484.1,150 L484.8,150.4 L485.5,150.7 L486.2,151 L486.8,151.3 L487.5,151.5 L488.2,151.8 L488.9,152 L489.6,152.2 L490.3,152.4 L491,152.6 L491.7,152.8 L492.4,152.9 L493.1,153.1 L493.8,153.2 L494.5,153.3 L495.1,153.5 L495.8,153.6 L496.5,153.7 L497.2,153.8 L497.9,153.9 L498.6,153.9 L499.3,154 L500,154.1 L500.7,154.2 L501.4,154.2 L502.1,154.3 L502.7,154.3" fill="none" stroke="#27ab5c" stroke-width="3.6" stroke-linejoin="round"/>
<path d="M370.7,154.9 L371.4,154.8 L372.1,154.6 L372.8,154.3 L373.5,153.8 L374.2,153.1 L374.9,152.2 L375.6,150.9 L376.3,149.3 L376.9,147.5 L377.6,145.3 L378.3,143.1 L379,140.9 L379.7,138.9 L380.4,137.2 L381.1,136 L381.8,135.4 L382.5,135.4 L383.2,135.8 L383.9,136.5 L384.6,137.6 L385.2,139 L385.9,140.5 L386.6,142 L387.3,143.7 L388,145.3 L388.7,146.8 L389.4,148.1 L390.1,149.4 L390.8,150.4 L391.5,151.4 L392.2,152.2 L392.8,152.8 L393.5,153.3 L394.2,153.7 L394.9,154.1 L395.6,154.3 L396.3,154.5 L397,154.6 L397.7,154.7 L398.4,154.8 L399.1,154.9" fill="none" stroke="#d49a10" stroke-width="3.4" stroke-linejoin="round"/>
<path d="M362.4,155 L363.1,155 L363.8,155 L364.5,155 L365.2,155 L365.9,155 L366.6,155 L367.3,155 L368,155 L368.7,155 L369.3,155 L370,155 L370.7,155 L371.4,155 L372.1,155 L372.8,155 L373.5,155 L374.2,155 L374.9,155 L375.6,155 L376.3,155 L376.9,155 L377.6,155 L378.3,155 L379,155 L379.7,155 L380.4,155 L381.1,155 L381.8,155 L382.5,155 L383.2,155 L383.9,155 L384.6,155 L385.2,155 L385.9,155 L386.6,155 L387.3,155 L388,155 L388.7,155 L389.4,155 L390.1,155 L390.8,155 L391.5,155 L392.2,155 L392.8,155 L393.5,155 L394.2,155 L394.9,155 L395.6,155 L396.3,155 L397,155 L397.7,155 L398.4,155 L399.1,155 L399.8,155 L400.4,155 L401.1,155 L401.8,155 L402.5,155 L403.2,155 L403.9,155 L404.6,155 L405.3,155 L406,155 L406.7,155 L407.4,155 L408.1,155 L408.7,155 L409.4,155 L410.1,155 L410.8,155 L411.5,155 L412.2,155 L412.9,155 L413.6,155 L414.3,155 L415,155 L415.7,155 L416.3,155 L417,155 L417.7,155 L418.4,155 L419.1,155 L419.8,155 L420.5,155 L421.2,155 L421.9,155 L422.6,155 L423.3,155 L423.9,155 L424.6,155 L425.3,155 L426,155 L426.7,155 L427.4,155 L428.1,155 L428.8,155 L429.5,155 L430.2,155 L430.9,155 L431.6,155 L432.2,155 L432.9,155 L433.6,155 L434.3,155 L435,155 L435.7,155 L436.4,155 L437.1,155 L437.8,155 L438.5,155 L439.2,155 L439.8,155 L440.5,155 L441.2,155 L441.9,155 L442.6,155 L443.3,155 L444,155 L444.7,155 L445.4,155 L446.1,155 L446.8,155 L447.4,155 L448.1,155 L448.8,155 L449.5,154.9 L450.2,154.9 L450.9,154.9 L451.6,154.9 L452.3,154.9 L453,154.9 L453.7,154.8 L454.4,154.8 L455.1,154.8 L455.7,154.7 L456.4,154.7 L457.1,154.6 L457.8,154.6 L458.5,154.5 L459.2,154.4 L459.9,154.3 L460.6,154.2 L461.3,154.1 L462,154 L462.7,153.9 L463.3,153.8 L464,153.7 L464.7,153.5 L465.4,153.3 L466.1,153.2 L466.8,153 L467.5,152.8 L468.2,152.6 L468.9,152.4 L469.6,152.1 L470.3,151.9 L471,151.6 L471.6,151.4 L472.3,151.1 L473,150.8 L473.7,150.5 L474.4,150.2 L475.1,149.9 L475.8,149.6 L476.5,149.3 L477.2,149 L477.9,148.7 L478.6,148.4 L479.2,148 L479.9,147.7 L480.6,147.4 L481.3,147.1 L482,146.8 L482.7,146.5 L483.4,146.2 L484.1,146 L484.8,145.7 L485.5,145.4 L486.2,145.2 L486.8,145 L487.5,144.8 L488.2,144.6 L488.9,144.4 L489.6,144.2 L490.3,144.1 L491,144 L491.7,143.9 L492.4,143.8 L493.1,143.7 L493.8,143.7 L494.5,143.6 L495.1,143.6 L495.8,143.6 L496.5,143.6 L497.2,143.7 L497.9,143.7 L498.6,143.8 L499.3,143.9 L500,144 L500.7,144.1 L501.4,144.3 L502.1,144.4 L502.7,144.6 L503.4,144.7 L504.1,144.9 L504.8,145.1 L505.5,145.3 L506.2,145.5 L506.9,145.7 L507.6,145.9 L508.3,146.2 L509,146.4 L509.7,146.6 L510.3,146.9 L511,147.1 L511.7,147.3 L512.4,147.6 L513.1,147.8 L513.8,148.1 L514.5,148.3 L515.2,148.5 L515.9,148.8 L516.6,149 L517.3,149.2 L518,149.5 L518.6,149.7 L519.3,149.9 L520,150.1 L520.7,150.3 L521.4,150.5 L522.1,150.7 L522.8,150.9 L523.5,151.1 L524.2,151.3 L524.9,151.5 L525.6,151.6 L526.2,151.8 L526.9,152 L527.6,152.1 L528.3,152.3 L529,152.4 L529.7,152.5 L530.4,152.7 L531.1,152.8 L531.8,152.9 L532.5,153 L533.2,153.1 L533.8,153.2 L534.5,153.3 L535.2,153.4 L535.9,153.5 L536.6,153.6 L537.3,153.7 L538,153.8 L538.7,153.9 L539.4,153.9 L540.1,154 L540.8,154 L541.5,154.1 L542.1,154.2 L542.8,154.2 L543.5,154.3 L544.2,154.3 L544.9,154.4 L545.6,154.4" fill="none" stroke="#1fc6c8" stroke-width="3.5" stroke-linejoin="round"/>
<path d="M368.7,154.6 L369.3,154.5 L370,154.4 L370.7,154.2 L371.4,154 L372.1,153.8 L372.8,153.6 L373.5,153.3 L374.2,152.9 L374.9,152.5 L375.6,152.1 L376.3,151.5 L376.9,151 L377.6,150.3 L378.3,149.6 L379,148.8 L379.7,147.9 L380.4,146.9 L381.1,145.9 L381.8,144.7 L382.5,143.5 L383.2,142.2 L383.9,140.8 L384.6,139.3 L385.2,137.8 L385.9,136.1 L386.6,134.4 L387.3,132.7 L388,130.9 L388.7,129 L389.4,127.1 L390.1,125.2 L390.8,123.2 L391.5,121.3 L392.2,119.3 L392.8,117.4 L393.5,115.5 L394.2,113.6 L394.9,111.8 L395.6,110 L396.3,108.2 L397,106.6 L397.7,105 L398.4,103.5 L399.1,102.1 L399.8,100.9 L400.4,99.7 L401.1,98.6 L401.8,97.7 L402.5,96.8 L403.2,96.1 L403.9,95.5 L404.6,95 L405.3,94.7 L406,94.5 L406.7,94.4 L407.4,94.4 L408.1,94.6 L408.7,94.9 L409.4,95.4 L410.1,96 L410.8,96.7 L411.5,97.6 L412.2,98.5 L412.9,99.6 L413.6,100.8 L414.3,102 L415,103.4 L415.7,104.8 L416.3,106.2 L417,107.7 L417.7,109.2 L418.4,110.8 L419.1,112.4 L419.8,114 L420.5,115.5 L421.2,117.1 L421.9,118.7 L422.6,120.3 L423.3,121.9 L423.9,123.4 L424.6,124.9 L425.3,126.3 L426,127.8 L426.7,129.2 L427.4,130.5 L428.1,131.8 L428.8,133.1 L429.5,134.3 L430.2,135.5 L430.9,136.6 L431.6,137.7 L432.2,138.7 L432.9,139.7 L433.6,140.7 L434.3,141.6 L435,142.4 L435.7,143.2 L436.4,144 L437.1,144.7 L437.8,145.4 L438.5,146.1 L439.2,146.7 L439.8,147.3 L440.5,147.8 L441.2,148.3 L441.9,148.8 L442.6,149.2 L443.3,149.6 L444,150 L444.7,150.4 L445.4,150.7 L446.1,151.1 L446.8,151.4 L447.4,151.6 L448.1,151.9 L448.8,152.1 L449.5,152.3 L450.2,152.6 L450.9,152.7 L451.6,152.9 L452.3,153.1 L453,153.2 L453.7,153.4 L454.4,153.5 L455.1,153.6 L455.7,153.7 L456.4,153.8 L457.1,153.9 L457.8,154 L458.5,154.1 L459.2,154.2 L459.9,154.2 L460.6,154.3 L461.3,154.4 L462,154.4 L462.7,154.5 L463.3,154.5 L464,154.6 L464.7,154.6 L465.4,154.6" fill="none" stroke="#7a4448" stroke-width="3.6" stroke-linejoin="round"/>
<path d="M362.4,153.9 L363.1,153.9 L363.8,153.8 L364.5,153.8 L365.2,153.8 L365.9,153.7 L366.6,153.7 L367.3,153.7 L368,153.6 L368.7,153.6 L369.3,153.6 L370,153.5 L370.7,153.5 L371.4,153.5 L372.1,153.4 L372.8,153.4 L373.5,153.4 L374.2,153.3 L374.9,153.3 L375.6,153.3 L376.3,153.2 L376.9,153.2 L377.6,153.2 L378.3,153.1 L379,153.1 L379.7,153.1 L380.4,153 L381.1,153 L381.8,153 L382.5,153 L383.2,152.9 L383.9,152.9 L384.6,152.9 L385.2,152.8 L385.9,152.8 L386.6,152.8 L387.3,152.8 L388,152.7 L388.7,152.7 L389.4,152.7 L390.1,152.7 L390.8,152.6 L391.5,152.6 L392.2,152.6 L392.8,152.6 L393.5,152.5 L394.2,152.5 L394.9,152.5 L395.6,152.5 L396.3,152.4 L397,152.4 L397.7,152.4 L398.4,152.4 L399.1,152.4 L399.8,152.3 L400.4,152.3 L401.1,152.3 L401.8,152.3 L402.5,152.3 L403.2,152.2 L403.9,152.2 L404.6,152.2 L405.3,152.2 L406,152.2 L406.7,152.2 L407.4,152.1 L408.1,152.1 L408.7,152.1 L409.4,152.1 L410.1,152.1 L410.8,152.1 L411.5,152 L412.2,152 L412.9,152 L413.6,152 L414.3,152 L415,152 L415.7,152 L416.3,152 L417,151.9 L417.7,151.9 L418.4,151.9 L419.1,151.9 L419.8,151.9 L420.5,151.9 L421.2,151.9 L421.9,151.9 L422.6,151.9 L423.3,151.9 L423.9,151.9 L424.6,151.8 L425.3,151.8 L426,151.8 L426.7,151.8 L427.4,151.8 L428.1,151.8 L428.8,151.8 L429.5,151.8 L430.2,151.8 L430.9,151.8 L431.6,151.8 L432.2,151.8 L432.9,151.8 L433.6,151.8 L434.3,151.8 L435,151.8 L435.7,151.8 L436.4,151.8 L437.1,151.7 L437.8,151.7 L438.5,151.7 L439.2,151.7 L439.8,151.7 L440.5,151.7 L441.2,151.7 L441.9,151.7 L442.6,151.7 L443.3,151.7 L444,151.7 L444.7,151.7 L445.4,151.7 L446.1,151.7 L446.8,151.7 L447.4,151.7 L448.1,151.7 L448.8,151.7 L449.5,151.7 L450.2,151.7 L450.9,151.7 L451.6,151.7 L452.3,151.7 L453,151.7 L453.7,151.7 L454.4,151.7 L455.1,151.7 L455.7,151.7 L456.4,151.7 L457.1,151.7 L457.8,151.7 L458.5,151.7 L459.2,151.7 L459.9,151.7 L460.6,151.7 L461.3,151.7 L462,151.7 L462.7,151.7 L463.3,151.7 L464,151.7 L464.7,151.7 L465.4,151.7 L466.1,151.7 L466.8,151.8 L467.5,151.8 L468.2,151.8 L468.9,151.8 L469.6,151.8 L470.3,151.8 L471,151.8 L471.6,151.8 L472.3,151.8 L473,151.8 L473.7,151.8 L474.4,151.8 L475.1,151.8 L475.8,151.8 L476.5,151.8 L477.2,151.8 L477.9,151.8 L478.6,151.8 L479.2,151.8 L479.9,151.8 L480.6,151.8 L481.3,151.8 L482,151.8 L482.7,151.8 L483.4,151.8 L484.1,151.8 L484.8,151.8 L485.5,151.8 L486.2,151.9 L486.8,151.9 L487.5,151.9 L488.2,151.9 L488.9,151.9 L489.6,151.9 L490.3,151.9 L491,151.9 L491.7,151.9 L492.4,151.9 L493.1,151.9 L493.8,151.9 L494.5,151.9 L495.1,151.9 L495.8,151.9 L496.5,151.9 L497.2,151.9 L497.9,151.9 L498.6,151.9 L499.3,151.9 L500,151.9 L500.7,152 L501.4,152 L502.1,152 L502.7,152 L503.4,152 L504.1,152 L504.8,152 L505.5,152 L506.2,152 L506.9,152 L507.6,152 L508.3,152 L509,152 L509.7,152 L510.3,152 L511,152 L511.7,152 L512.4,152 L513.1,152 L513.8,152.1 L514.5,152.1 L515.2,152.1 L515.9,152.1 L516.6,152.1 L517.3,152.1 L518,152.1 L518.6,152.1 L519.3,152.1 L520,152.1 L520.7,152.1 L521.4,152.1 L522.1,152.1 L522.8,152.1 L523.5,152.1 L524.2,152.1 L524.9,152.1 L525.6,152.1 L526.2,152.1 L526.9,152.2 L527.6,152.2 L528.3,152.2 L529,152.2 L529.7,152.2 L530.4,152.2 L531.1,152.2 L531.8,152.2 L532.5,152.2 L533.2,152.2 L533.8,152.2 L534.5,152.2 L535.2,152.2 L535.9,152.2 L536.6,152.2 L537.3,152.2 L538,152.2 L538.7,152.2 L539.4,152.3 L540.1,152.3 L540.8,152.3 L541.5,152.3 L542.1,152.3 L542.8,152.3 L543.5,152.3 L544.2,152.3 L544.9,152.3 L545.6,152.3" fill="none" stroke="#f04048" stroke-width="2.6" stroke-linejoin="round"/>
<path d="M360,154.3 L360.3,154.3 L360.7,154.3 L361,154.2 L361.3,154.2 L361.6,154.2 L362,154.2 L362.3,154.1 L362.7,154.1 L363,154 L363.4,154 L363.7,153.9 L364,153.9 L364.4,153.8 L364.7,153.7 L365.1,153.6 L365.4,153.5 L365.8,153.5 L366.1,153.4 L366.5,153.3 L366.8,153.1 L367.2,153 L367.5,152.9 L367.8,152.8 L368.2,152.7 L368.5,152.5 L368.8,152.4 L369.1,152.2 L369.5,152.1 L369.8,151.9 L370.1,151.7 L370.4,151.6 L370.7,151.4 L370.9,151.2 L371.2,151 L371.5,150.8 L371.8,150.6 L372,150.4 L372.3,150.2 L372.5,149.9 L372.7,149.7 L372.9,149.5 L373.2,149.2 L373.4,149 L373.5,148.7 L373.7,148.4 L373.9,148.2 L374,147.9 L374.2,147.6 L374.3,147.3 L374.4,147 L374.6,146.7 L374.7,146.4 L374.8,146.1 L374.9,145.7 L375,145.4 L375,145.1 L375.1,144.8 L375.2,144.4 L375.3,144.1 L375.3,143.7 L375.4,143.4 L375.5,143.1 L375.5,142.7 L375.6,142.4 L375.6,142 L375.7,141.7 L375.8,141.3 L375.8,141 L375.9,140.6 L375.9,140.3 L376,140 L376.1,139.6 L376.2,139.3 L376.3,138.9 L376.4,138.6 L376.5,138.3 L376.6,137.9 L376.7,137.6 L376.8,137.3 L376.9,137 L377,136.7 L377.1,136.3 L377.2,136 L377.4,135.7 L377.5,135.4 L377.6,135.1 L377.8,134.7 L377.9,134.4 L378,134.1 L378.2,133.8 L378.3,133.5 L378.4,133.1 L378.6,132.8 L378.7,132.5 L378.8,132.2 L378.9,131.8 L379.1,131.5 L379.2,131.2 L379.3,130.8 L379.4,130.5 L379.5,130.2 L379.7,129.8 L379.8,129.5 L379.9,129.1 L380,128.8 L380.1,128.5 L380.2,128.1 L380.3,127.8 L380.5,127.5 L380.6,127.1 L380.7,126.8 L380.8,126.5 L381,126.2 L381.1,125.8 L381.2,125.5 L381.4,125.2 L381.5,124.9 L381.7,124.6 L381.9,124.4 L382,124.1 L382.2,123.8 L382.4,123.6 L382.6,123.3 L382.8,123.1 L383,122.8 L383.2,122.6 L383.5,122.4 L383.7,122.1 L383.9,121.9 L384.2,121.7 L384.4,121.5 L384.7,121.3 L384.9,121.1 L385.2,120.9 L385.4,120.7 L385.7,120.5 L386,120.3 L386.2,120.1 L386.5,120 L386.8,119.8 L387,119.6 L387.3,119.4 L387.6,119.2 L387.9,119 L388.1,118.8 L388.4,118.6 L388.7,118.4 L388.9,118.2 L389.2,118 L389.4,117.8 L389.7,117.5 L389.9,117.3 L390.2,117.1 L390.4,116.8 L390.7,116.6 L390.9,116.4 L391.2,116.1 L391.4,115.9 L391.6,115.6 L391.8,115.4 L392.1,115.1 L392.3,114.8 L392.5,114.6 L392.7,114.3 L392.9,114 L393.1,113.7 L393.3,113.5 L393.5,113.2 L393.6,112.9 L393.8,112.6 L394,112.3 L394.1,112 L394.3,111.7 L394.5,111.4 L394.6,111.1 L394.8,110.8 L394.9,110.5 L395,110.2 L395.2,109.9 L395.3,109.6 L395.4,109.3 L395.6,109 L395.7,108.6 L395.8,108.3 L395.9,108 L396,107.7 L396.2,107.4 L396.3,107.1 L396.4,106.7 L396.5,106.4 L396.6,106.1 L396.7,105.8 L396.8,105.5 L396.9,105.1 L397.1,104.8 L397.2,104.5 L397.3,104.2 L397.4,103.8 L397.5,103.5 L397.6,103.2 L397.7,102.9 L397.8,102.6 L397.9,102.2 L398.1,101.9 L398.2,101.6 L398.3,101.3 L398.4,101 L398.6,100.6 L398.7,100.3 L398.8,100 L398.9,99.7 L399.1,99.4 L399.2,99.1 L399.4,98.8 L399.5,98.5 L399.7,98.2 L399.8,97.9 L400,97.6 L400.2,97.3 L400.3,97 L400.5,96.7 L400.7,96.4 L400.8,96.1 L401,95.8 L401.2,95.6 L401.4,95.3 L401.6,95 L401.8,94.7 L402,94.4 L402.2,94.2 L402.4,93.9 L402.6,93.6 L402.8,93.3 L403,93 L403.2,92.8 L403.4,92.5 L403.6,92.2 L403.8,92 L404,91.7 L404.2,91.4 L404.5,91.2 L404.7,90.9 L404.9,90.6 L405.1,90.4 L405.4,90.1 L405.6,89.8 L405.8,89.6 L406,89.3 L406.3,89 L406.5,88.8 L406.7,88.5 L407,88.3 L407.2,88 L407.4,87.7 L407.7,87.5 L407.9,87.2 L408.1,87 L408.4,86.7 L408.6,86.5 L408.9,86.2 L409.1,85.9 L409.3,85.7 L409.6,85.4 L409.8,85.2 L410,84.9 L410.3,84.7 L410.5,84.4 L410.7,84.1 L411,83.9 L411.2,83.6 L411.4,83.4 L411.7,83.1 L411.9,82.8 L412.1,82.6 L412.4,82.3 L412.6,82.1 L412.8,81.8 L413.1,81.5 L413.3,81.3 L413.5,81 L413.7,80.7 L413.9,80.5 L414.2,80.2 L414.4,79.9 L414.6,79.7 L414.8,79.4 L415,79.1 L415.2,78.9 L415.4,78.6 L415.6,78.3 L415.8,78 L416,77.8 L416.2,77.5 L416.4,77.2 L416.6,76.9 L416.8,76.7 L417,76.4 L417.2,76.1 L417.4,75.8 L417.5,75.5 L417.7,75.2 L417.9,74.9 L418,74.6 L418.2,74.4 L418.4,74.1 L418.5,73.8 L418.7,73.5 L418.8,73.2 L419,72.9 L419.1,72.6 L419.3,72.3 L419.4,72 L419.5,71.6 L419.7,71.3 L419.8,71 L419.9,70.7 L420,70.4 L420.1,70.1 L420.3,69.8 L420.4,69.4 L420.5,69.1 L420.6,68.8 L420.7,68.5 L420.8,68.2 L420.9,67.8 L421,67.5 L421.1,67.2 L421.2,66.9 L421.3,66.5 L421.4,66.2 L421.5,65.9 L421.5,65.5 L421.6,65.2 L421.7,64.9 L421.8,64.5 L421.9,64.2 L422,63.9 L422,63.5 L422.1,63.2 L422.2,62.8 L422.3,62.5 L422.3,62.2 L422.4,61.8 L422.5,61.5 L422.6,61.2 L422.6,60.8 L422.7,60.5 L422.8,60.1 L422.8,59.8 L422.9,59.4 L423,59.1 L423,58.8 L423.1,58.4 L423.2,58.1 L423.2,57.7 L423.3,57.4 L423.4,57 L423.4,56.7 L423.5,56.4 L423.6,56 L423.7,55.7 L423.7,55.3 L423.8,55 L423.9,54.6 L424,54.3 L424,54 L424.1,53.6 L424.2,53.3 L424.3,52.9 L424.3,52.6 L424.4,52.2 L424.5,51.9 L424.6,51.6 L424.7,51.2 L424.8,50.9 L424.8,50.5 L424.9,50.2 L425,49.9 L425.1,49.5 L425.2,49.2 L425.3,48.9 L425.4,48.5 L425.5,48.2 L425.6,47.9 L425.7,47.5 L425.9,47.2 L426,46.9 L426.1,46.6 L426.2,46.2 L426.3,45.9 L426.5,45.6 L426.6,45.3 L426.7,44.9 L426.8,44.6 L427,44.3 L427.1,44 L427.3,43.7 L427.4,43.4 L427.6,43 L427.7,42.7 L427.9,42.4 L428.1,42.1 L428.2,41.8 L428.4,41.5 L428.6,41.2 L428.7,40.9 L428.9,40.6 L429.1,40.3 L429.3,40 L429.5,39.7 L429.7,39.4 L429.9,39.2 L430.1,38.9 L430.3,38.7 L430.6,38.4 L430.8,38.2 L431,38 L431.3,37.8 L431.5,37.6 L431.7,37.4 L432,37.3 L432.3,37.2 L432.5,37.1 L432.8,37 L433.1,36.9 L433.3,36.9 L433.6,36.9 L433.9,36.9 L434.2,36.9 L434.5,36.9 L434.8,37 L435,37.1 L435.3,37.2 L435.6,37.3 L435.8,37.4 L436.1,37.6 L436.3,37.8 L436.5,37.9 L436.7,38.1 L436.9,38.4 L437.2,38.6 L437.3,38.8 L437.5,39.1 L437.7,39.3 L437.9,39.6 L438.1,39.9 L438.2,40.2 L438.4,40.5 L438.5,40.8 L438.7,41.1 L438.8,41.5 L439,41.8 L439.1,42.1 L439.2,42.5 L439.4,42.8 L439.5,43.2 L439.6,43.6 L439.7,43.9 L439.8,44.3 L440,44.7 L440.1,45 L440.2,45.4 L440.3,45.8 L440.4,46.1 L440.5,46.5 L440.6,46.9 L440.7,47.2 L440.8,47.6 L440.9,47.9 L441.1,48.3 L441.2,48.7 L441.3,49 L441.4,49.4 L441.5,49.7 L441.6,50.1 L441.7,50.5 L441.8,50.8 L441.9,51.2 L442,51.5 L442.1,51.9 L442.2,52.2 L442.3,52.6 L442.4,52.9 L442.5,53.3 L442.6,53.6 L442.7,53.9 L442.8,54.3 L442.9,54.6 L443,55 L443.1,55.3 L443.2,55.7 L443.3,56 L443.4,56.3 L443.5,56.7 L443.6,57 L443.7,57.3 L443.8,57.7 L443.9,58 L444,58.4 L444.1,58.7 L444.2,59 L444.3,59.4 L444.4,59.7 L444.5,60 L444.6,60.3 L444.7,60.7 L444.8,61 L444.9,61.3 L445,61.7 L445,62 L445.1,62.3 L445.2,62.7 L445.3,63 L445.4,63.3 L445.5,63.6 L445.6,64 L445.7,64.3 L445.8,64.6 L445.9,64.9 L446,65.3 L446,65.6 L446.1,65.9 L446.2,66.2 L446.3,66.6 L446.4,66.9 L446.5,67.2 L446.6,67.5 L446.7,67.9 L446.8,68.2 L446.8,68.5 L446.9,68.8 L447,69.2 L447.1,69.5 L447.2,69.8 L447.3,70.1 L447.4,70.4 L447.4,70.8 L447.5,71.1 L447.6,71.4 L447.7,71.7 L447.8,72.1 L447.9,72.4 L448,72.7 L448,73 L448.1,73.4 L448.2,73.7 L448.3,74 L448.4,74.3 L448.5,74.7 L448.5,75 L448.6,75.3 L448.7,75.6 L448.8,75.9 L448.9,76.3 L449,76.6 L449,76.9 L449.1,77.2 L449.2,77.6 L449.3,77.9 L449.4,78.2 L449.4,78.6 L449.5,78.9 L449.6,79.2 L449.7,79.5 L449.8,79.9 L449.8,80.2 L449.9,80.5 L450,80.8 L450.1,81.2 L450.2,81.5 L450.2,81.8 L450.3,82.1 L450.4,82.5 L450.5,82.8 L450.6,83.1 L450.6,83.5 L450.7,83.8 L450.8,84.1 L450.9,84.4 L451,84.8 L451.1,85.1 L451.1,85.4 L451.2,85.8 L451.3,86.1 L451.4,86.4 L451.5,86.7 L451.5,87.1 L451.6,87.4 L451.7,87.7 L451.8,88.1 L451.9,88.4 L451.9,88.7 L452,89 L452.1,89.4 L452.2,89.7 L452.3,90 L452.3,90.4 L452.4,90.7 L452.5,91 L452.6,91.4 L452.7,91.7 L452.8,92 L452.8,92.4 L452.9,92.7 L453,93 L453.1,93.3 L453.2,93.7 L453.3,94 L453.3,94.3 L453.4,94.7 L453.5,95 L453.6,95.3 L453.7,95.7 L453.8,96 L453.9,96.3 L453.9,96.7 L454,97 L454.1,97.3 L454.2,97.7 L454.3,98 L454.4,98.3 L454.5,98.6 L454.5,99 L454.6,99.3 L454.7,99.6 L454.8,100 L454.9,100.3 L455,100.6 L455.1,101 L455.2,101.3 L455.3,101.6 L455.4,102 L455.4,102.3 L455.5,102.6 L455.6,103 L455.7,103.3 L455.8,103.6 L455.9,104 L456,104.3 L456.1,104.6 L456.2,105 L456.3,105.3 L456.4,105.6 L456.5,106 L456.6,106.3 L456.7,106.6 L456.8,107 L456.9,107.3 L457,107.6 L457.1,108 L457.2,108.3 L457.3,108.6 L457.4,109 L457.5,109.3 L457.6,109.6 L457.7,110 L457.8,110.3 L457.9,110.6 L458,111 L458.1,111.3 L458.2,111.6 L458.3,112 L458.4,112.3 L458.5,112.6 L458.6,113 L458.7,113.3 L458.8,113.6 L459,114 L459.1,114.3 L459.2,114.6 L459.3,115 L459.4,115.3 L459.5,115.6 L459.6,116 L459.7,116.3 L459.9,116.6 L460,117 L460.1,117.3 L460.2,117.6 L460.3,118 L460.4,118.3 L460.6,118.6 L460.7,119 L460.8,119.3 L460.9,119.6 L461.1,120 L461.2,120.3 L461.3,120.6 L461.4,121 L461.6,121.3 L461.7,121.6 L461.8,121.9 L462,122.3 L462.1,122.6 L462.2,122.9 L462.4,123.2 L462.5,123.6 L462.6,123.9 L462.8,124.2 L462.9,124.5 L463.1,124.8 L463.2,125.2 L463.4,125.5 L463.5,125.8 L463.7,126.1 L463.8,126.4 L464,126.7 L464.1,127 L464.3,127.3 L464.4,127.6 L464.6,127.9 L464.8,128.2 L464.9,128.5 L465.1,128.8 L465.3,129.1 L465.4,129.4 L465.6,129.7 L465.8,130 L466,130.3 L466.1,130.6 L466.3,130.8 L466.5,131.1 L466.7,131.4 L466.9,131.7 L467.1,131.9 L467.3,132.2 L467.5,132.5 L467.7,132.7 L467.9,133 L468.1,133.3 L468.3,133.5 L468.5,133.8 L468.7,134 L468.9,134.3 L469.1,134.5 L469.4,134.7 L469.6,135 L469.8,135.2 L470,135.4 L470.3,135.7 L470.5,135.9 L470.7,136.1 L471,136.3 L471.2,136.5 L471.5,136.8 L471.7,137 L472,137.2 L472.2,137.4 L472.5,137.6 L472.8,137.8 L473,137.9 L473.3,138.1 L473.6,138.3 L473.9,138.5 L474.1,138.6 L474.4,138.8 L474.7,139 L475,139.1 L475.3,139.3 L475.6,139.4 L475.9,139.6 L476.2,139.7 L476.5,139.9 L476.8,140 L477.2,140.1 L477.5,140.2 L477.8,140.4 L478.1,140.5 L478.5,140.6 L478.8,140.7 L479.2,140.8 L479.5,140.9 L479.8,141 L480.2,141 L480.5,141.1 L480.9,141.2 L481.3,141.3 L481.6,141.3 L482,141.4 L482.3,141.4 L482.7,141.4 L483,141.5 L483.4,141.5 L483.8,141.5 L484.1,141.5 L484.5,141.5 L484.9,141.5 L485.2,141.5 L485.6,141.5 L485.9,141.5 L486.3,141.5 L486.6,141.4 L487,141.4 L487.3,141.3 L487.7,141.3 L488,141.2 L488.4,141.1 L488.7,141 L489.1,140.9 L489.4,140.8 L489.7,140.7 L490,140.6 L490.4,140.4 L490.7,140.3 L491,140.2 L491.3,140 L491.6,139.8 L491.9,139.6 L492.2,139.5 L492.5,139.3 L492.8,139.1 L493,138.9 L493.3,138.6 L493.6,138.4 L493.9,138.2 L494.1,138 L494.4,137.7 L494.6,137.5 L494.9,137.2 L495.2,137 L495.4,136.7 L495.7,136.5 L495.9,136.2 L496.1,136 L496.4,135.7 L496.6,135.5 L496.9,135.2 L497.1,135 L497.4,134.7 L497.6,134.5 L497.8,134.2 L498.1,134 L498.3,133.7 L498.5,133.5 L498.8,133.2 L499,133 L499.2,132.7 L499.5,132.5 L499.7,132.2 L499.9,132 L500.2,131.8 L500.4,131.5 L500.6,131.3 L500.8,131 L501,130.8 L501.3,130.5 L501.5,130.3 L501.7,130 L501.9,129.8 L502.1,129.5 L502.3,129.2 L502.5,129 L502.7,128.7 L502.9,128.5 L503.2,128.2 L503.4,128 L503.6,127.7 L503.8,127.5 L504,127.2 L504.1,126.9 L504.3,126.7 L504.5,126.4 L504.7,126.1 L504.9,125.9 L505.1,125.6 L505.3,125.3 L505.5,125.1 L505.7,124.8 L505.8,124.5 L506,124.3 L506.2,124 L506.4,123.7 L506.5,123.4 L506.7,123.1 L506.9,122.9 L507,122.6 L507.2,122.3 L507.4,122 L507.5,121.7 L507.7,121.4 L507.9,121.1 L508,120.8 L508.2,120.5 L508.3,120.2 L508.5,119.9 L508.6,119.6 L508.7,119.3 L508.9,119 L509,118.6 L509.2,118.3 L509.3,118 L509.4,117.7 L509.6,117.3 L509.7,117 L509.8,116.7 L510,116.3 L510.1,116 L510.2,115.7 L510.3,115.3 L510.4,115 L510.6,114.6 L510.7,114.3 L510.8,113.9 L510.9,113.6 L511,113.2 L511.1,112.9 L511.2,112.5 L511.3,112.2 L511.4,111.8 L511.5,111.4 L511.6,111.1 L511.7,110.7 L511.8,110.4 L511.9,110 L512,109.6 L512.1,109.3 L512.2,108.9 L512.3,108.5 L512.4,108.2 L512.5,107.8 L512.6,107.4 L512.7,107.1 L512.8,106.7 L512.9,106.4 L513,106 L513.1,105.6 L513.2,105.3 L513.3,104.9 L513.4,104.5 L513.5,104.2 L513.6,103.8 L513.7,103.5 L513.8,103.1 L513.9,102.7 L514,102.4 L514.1,102 L514.2,101.7 L514.3,101.3 L514.4,101 L514.5,100.6 L514.6,100.3 L514.7,99.9 L514.8,99.6 L514.9,99.2 L515,98.9 L515.1,98.6 L515.2,98.2 L515.3,97.9 L515.4,97.6 L515.5,97.3 L515.7,96.9 L515.8,96.6 L515.9,96.3 L516,96 L516.1,95.7 L516.2,95.4 L516.4,95.1 L516.5,94.8 L516.6,94.5 L516.8,94.2 L516.9,93.9 L517,93.6 L517.2,93.3 L517.3,93 L517.4,92.7 L517.6,92.5 L517.7,92.2 L517.9,92 L518,91.7 L518.2,91.4 L518.3,91.2 L518.5,90.9 L518.7,90.7 L518.8,90.5 L519,90.2 L519.2,90 L519.3,89.8 L519.5,89.6 L519.7,89.4 L519.9,89.2 L520,89 L520.2,88.9 L520.4,88.8 L520.6,88.6 L520.8,88.6 L521,88.5 L521.2,88.5 L521.3,88.5 L521.5,88.5 L521.7,88.6 L521.9,88.7 L522.1,88.8 L522.2,89 L522.4,89.1 L522.6,89.3 L522.8,89.5 L522.9,89.8 L523.1,90 L523.3,90.2 L523.4,90.5 L523.6,90.8 L523.7,91.1 L523.9,91.3 L524,91.6 L524.2,91.9 L524.3,92.2 L524.4,92.5 L524.5,92.8 L524.7,93.1 L524.8,93.4 L524.9,93.7 L525,94.1 L525.1,94.4 L525.2,94.7 L525.3,95 L525.4,95.4 L525.5,95.7 L525.6,96 L525.7,96.4 L525.8,96.7 L525.9,97 L526,97.4 L526,97.7 L526.1,98.1 L526.2,98.4 L526.2,98.8 L526.3,99.1 L526.4,99.5 L526.4,99.8 L526.5,100.2 L526.6,100.6 L526.6,100.9 L526.7,101.3 L526.7,101.7 L526.8,102 L526.8,102.4 L526.9,102.8 L526.9,103.1 L527,103.5 L527,103.9 L527.1,104.2 L527.1,104.6 L527.1,105 L527.2,105.4 L527.2,105.7 L527.3,106.1 L527.3,106.5 L527.3,106.8 L527.4,107.2 L527.4,107.6 L527.4,108 L527.5,108.3 L527.5,108.7 L527.5,109.1 L527.6,109.4 L527.6,109.8 L527.6,110.2 L527.7,110.5 L527.7,110.9 L527.7,111.3 L527.8,111.6 L527.8,112 L527.8,112.4 L527.9,112.7 L527.9,113.1 L527.9,113.5 L528,113.8 L528,114.2 L528,114.5 L528.1,114.9 L528.1,115.3 L528.1,115.6 L528.2,116 L528.2,116.3 L528.2,116.7 L528.3,117.1 L528.3,117.4 L528.3,117.8 L528.4,118.1 L528.4,118.5 L528.5,118.8 L528.5,119.2 L528.5,119.5 L528.6,119.9 L528.6,120.2 L528.7,120.6 L528.7,120.9 L528.7,121.3 L528.8,121.6 L528.8,122 L528.9,122.3 L528.9,122.6 L529,123 L529,123.3 L529.1,123.7 L529.1,124 L529.2,124.4 L529.2,124.7 L529.3,125 L529.3,125.4 L529.4,125.7 L529.4,126.1 L529.5,126.4 L529.5,126.7 L529.6,127.1 L529.7,127.4 L529.7,127.7 L529.8,128.1 L529.9,128.4 L529.9,128.7 L530,129.1 L530.1,129.4 L530.1,129.7 L530.2,130 L530.3,130.4 L530.3,130.7 L530.4,131 L530.5,131.3 L530.6,131.7 L530.7,132 L530.7,132.3 L530.8,132.6 L530.9,133 L531,133.3 L531.1,133.6 L531.2,133.9 L531.3,134.2 L531.4,134.5 L531.5,134.9 L531.6,135.2 L531.7,135.5 L531.8,135.8 L531.9,136.1 L532,136.4 L532.1,136.7 L532.2,137.1 L532.3,137.4 L532.4,137.7 L532.6,138 L532.7,138.3 L532.8,138.6 L532.9,138.9 L533.1,139.2 L533.2,139.5 L533.3,139.8 L533.4,140.1 L533.6,140.4 L533.7,140.7 L533.9,141 L534,141.3 L534.2,141.6 L534.3,141.9 L534.5,142.2 L534.6,142.5 L534.8,142.8 L534.9,143.1 L535.1,143.4 L535.3,143.7 L535.4,144 L535.6,144.2 L535.8,144.5 L535.9,144.8 L536.1,145.1 L536.3,145.4 L536.5,145.7 L536.7,146 L536.9,146.2 L537.1,146.5 L537.3,146.8 L537.5,147.1 L537.7,147.4 L537.9,147.6 L538.1,147.9 L538.3,148.2 L538.5,148.5 L538.7,148.7 L539,149 L539.2,149.3 L539.4,149.5 L539.7,149.8 L539.9,150 L540.2,150.2 L540.4,150.5 L540.7,150.7 L541,150.9 L541.3,151 L541.6,151.2 L541.9,151.4 L542.2,151.5 L542.6,151.6 L542.9,151.7 L543.3,151.8 L543.6,151.8 L544,151.9 L544.4,151.9 L544.8,151.8 L545.3,151.8 L545.7,151.7 L546.1,151.6" fill="none" stroke="#ff0000" stroke-width="4.7" stroke-linejoin="round" stroke-linecap="round"/>
</g>
<line x1="351.4" y1="155" x2="351.4" y2="157" stroke="#686868" stroke-width="1.2"/>
<line x1="372.8" y1="155" x2="372.8" y2="158" stroke="#686868" stroke-width="1.2"/>
<line x1="394.2" y1="155" x2="394.2" y2="157" stroke="#686868" stroke-width="1.2"/>
<line x1="415.7" y1="155" x2="415.7" y2="158" stroke="#686868" stroke-width="1.2"/>
<line x1="437.1" y1="155" x2="437.1" y2="157" stroke="#686868" stroke-width="1.2"/>
<line x1="458.6" y1="155" x2="458.6" y2="158" stroke="#686868" stroke-width="1.2"/>
<line x1="480.1" y1="155" x2="480.1" y2="157" stroke="#686868" stroke-width="1.2"/>
<line x1="501.5" y1="155" x2="501.5" y2="158" stroke="#686868" stroke-width="1.2"/>
<line x1="523.0" y1="155" x2="523.0" y2="157" stroke="#686868" stroke-width="1.2"/>
<text transform="translate(373.20,168.40) scale(1.08,1)" font-size="10" text-anchor="middle">1.5</text>
<text transform="translate(416.10,168.40) scale(1.08,1)" font-size="10" text-anchor="middle">2.0</text>
<text transform="translate(459.00,168.40) scale(1.08,1)" font-size="10" text-anchor="middle">2.5</text>
<text transform="translate(501.90,168.40) scale(1.08,1)" font-size="10" text-anchor="middle">3.0</text>
<line x1="328.4" y1="138.2" x2="330.4" y2="138.2" stroke="#686868" stroke-width="1.2"/>
<line x1="545.5" y1="138.2" x2="544.5" y2="138.2" stroke="#686868" stroke-width="1.2"/>
<line x1="326.9" y1="121.5" x2="330.4" y2="121.5" stroke="#686868" stroke-width="1.2"/>
<line x1="545.5" y1="121.5" x2="544" y2="121.5" stroke="#686868" stroke-width="1.2"/>
<text transform="translate(324.80,125.10) scale(1.12,1)" font-size="10" text-anchor="end">500</text>
<line x1="328.4" y1="104.8" x2="330.4" y2="104.8" stroke="#686868" stroke-width="1.2"/>
<line x1="545.5" y1="104.8" x2="544.5" y2="104.8" stroke="#686868" stroke-width="1.2"/>
<line x1="326.9" y1="88.0" x2="330.4" y2="88.0" stroke="#686868" stroke-width="1.2"/>
<line x1="545.5" y1="88.0" x2="544" y2="88.0" stroke="#686868" stroke-width="1.2"/>
<text transform="translate(324.80,91.60) scale(1.12,1)" font-size="10" text-anchor="end">1000</text>
<line x1="328.4" y1="71.2" x2="330.4" y2="71.2" stroke="#686868" stroke-width="1.2"/>
<line x1="545.5" y1="71.2" x2="544.5" y2="71.2" stroke="#686868" stroke-width="1.2"/>
<line x1="326.9" y1="54.5" x2="330.4" y2="54.5" stroke="#686868" stroke-width="1.2"/>
<line x1="545.5" y1="54.5" x2="544" y2="54.5" stroke="#686868" stroke-width="1.2"/>
<text transform="translate(324.80,58.10) scale(1.12,1)" font-size="10" text-anchor="end">1500</text>
<line x1="328.4" y1="37.8" x2="330.4" y2="37.8" stroke="#686868" stroke-width="1.2"/>
<line x1="545.5" y1="37.8" x2="544.5" y2="37.8" stroke="#686868" stroke-width="1.2"/>
<line x1="326.9" y1="21.0" x2="330.4" y2="21.0" stroke="#686868" stroke-width="1.2"/>
<line x1="545.5" y1="21.0" x2="544" y2="21.0" stroke="#686868" stroke-width="1.2"/>
<text transform="translate(324.80,24.60) scale(1.12,1)" font-size="10" text-anchor="end">2000</text>
<text transform="translate(336.00,22.30) scale(1.13,1)" font-size="10" text-anchor="start">Sm:ZnO</text>
<text transform="translate(381.80,184.20) scale(1.13,1)" font-size="10" text-anchor="start">Photon Energy (eV)</text>
<text transform="translate(286.6,71.2) scale(1.145,1) rotate(-90)" font-size="9.85" text-anchor="middle">PL Intensity</text>
<rect x="52" y="203" width="214.9" height="150.3" fill="none" stroke="#686868" stroke-width="1.4"/>
<clipPath id="cDyZnO"><rect x="52" y="200" width="214.9" height="154.8"/></clipPath>
<g clip-path="url(#cDyZnO)">
<polyline points="86,353.1 86.8,353.1 87,351.1 88.1,353.3 87.5,352.9 88.4,351.9 89,351.8 88.2,351.5 89.9,351.5 89.1,351 90.2,352.8 90.3,351.1 90.4,350.7 91.1,352 91.7,350.8 90.6,350 91.6,350.2 92.2,351.2 91.4,349.3 92.7,349.7 92.7,349.2 93.3,349.8 93,348.8 93.3,349.7 93.1,347.9 93,348 94.9,348.9 92.7,346.9 93.6,348 94.9,347.1 94.1,346.8 93.8,346 94.2,346.2 94.7,345.5 94.5,346.1 95.1,345.6 95,344.5 95.3,345 94.9,344.1 96.1,344.2 95.5,343.7 96.6,344.7 96.7,344.2 95.3,342.3 97.2,342.3 96.9,342.8 94.5,341.9 95.9,341.1 95.7,340.8 96.6,340.3 96.7,340.6 96.4,340.4 97.2,339.6 95.9,339 97.1,339.6 97.5,339.3 97.7,339 97.8,338.2 98.6,338.8 97.1,337.7 98.3,337.6 98,337.7 98.3,336.8 99.7,337.2 99.9,337 99.7,336.7 99.2,335.7 99.1,335.9 99.8,335.8 99.9,335.1 99.8,334.4 99.6,334.3 100.4,334.3 99.6,334.2 100.3,333.9 100.8,333.4 102.1,334.7 100.2,333.1 101.3,332.9 102.3,333 101.4,332 101.8,331 102.5,331.8 102.6,330.8 102.6,330.9 103.2,331.2 102.3,330 103.3,331.3 102,328.8 104.1,331.1 103.5,329.2 105.9,331.7 103.4,328.3 105.7,328.8 105.2,329.6 105.6,327.9 104.7,328.9 105.8,328.9 105.3,327.8 105.7,328.4 107.5,329.1 104.9,326.5 108.5,328.7 106.8,326.7 107.4,327.1 107.4,326.9 105.6,325.1 108.1,326.7 108.5,325.8 108.3,325.9 109.7,326.6 107.9,324.6 110.2,326.7 112.1,326.7 109.4,324.2 107,322.4 109.9,324.8 108,323.9 108.2,322.1 108.6,322.8 109.1,323.4 111.1,323.8 111.5,322.7 109.2,322.9 109.1,321.1 110.8,322.3 108.1,320.1 110.2,321.8 112,321.2 110.9,320.9 111.4,321.4 114.8,321.8 113.2,321.6 111.4,319.3 112.5,319.4 111.4,320.4 109.7,318.4 110,317.8 112.4,318.6 113.9,318.5 110.5,316.4 113.5,317.7 111.4,316.5 115,317 114,317.4 113,316.3 113.9,316.9 115.1,316.5 116.3,316.1 112.7,314.8 113.3,315.2 114.7,314.6 114.8,314 112.7,313.3 114.3,314.2 114.3,313.9 114.8,313.5 115.4,312.7 115.7,313.3 113,311.6 113.9,312 114.5,311 114.9,311.2 113.3,310.3 113.2,310.6 117.6,311.6 114.6,310.2 118.5,310 113.5,309.1 116.4,309.7 114.7,308.4 115.7,307.9 116.9,309 115.9,307.9 116,307.4 118.5,307.3 118.8,307.6 115.9,306.2 116,306.5 116.6,306.6 116.8,305.8 119.7,305.3 117.7,305.1 115,304.2 117.5,305 118.1,304.7 117.5,303.5 117.2,302.8 116.9,302.9 121.9,304.3 117.1,302.9 117.7,302.5 118.1,302 118.3,301.7 117.6,300.9 119.2,300.9 118.2,300.4 116.1,298.8 115.4,298.9 118.1,299.2 118.6,299.3 117.8,298.1 115.8,297.7 118.3,298.4 119.2,299.1 116.1,297.1 119,298 119.9,297.7 122.5,298.4 120.1,296.7 122.8,297.1 120.4,296.5 118.1,294.9 120.3,294.5 120.4,294.9 119.3,294.2 120.7,294.3 121.6,294 121,293 120.5,293.7 120.8,292.9 122.1,292.6 120.9,292.8 119.1,290.9 124.1,293.1 121.3,291.7 123.1,292.5 122,291 120.6,289.6 122.3,290.5 121.4,289.9 122.8,289.5 124,290.5 122.2,287.8 123.4,288 123,288.4 124.1,289.1 122.7,287.6 125.1,288.1 123.5,287.4 124.2,287.1 124.4,286.9 124.9,287.8 126,286.3 125.6,286.2 124.3,285.7 125.3,285.5 125.2,284.7 125.6,284.9 124.7,283.9 128.2,284.9 125.5,283.9 126.2,284.1 126,283.9 125.4,282.3 128.2,283.4 128.8,283.8 128.6,282.8 126.1,282 127.3,281.5 128.5,280.8 130,281.8 125.8,280 129.7,281 131.4,282 130.2,281 129,280.6 128,278.7 130.7,279.9 128.6,279.1 129.8,278.8 127.6,277.7 132.7,279.4 128.5,278.2 130.3,277.9 130.1,277.3 131.1,277.3 133.7,278.3 130.9,276.8 129.6,275.2 131.7,276.5 131.9,276.2 131.2,276.1 129.3,274.1 131.1,274.2 133.3,275.3 128.9,273.3 132.4,274.7 129.9,272.4 131.3,272.7 132.5,273.6 130.5,272.5 131.6,272.3 133.3,272.6 133.8,272.9 134.8,273.3 133.7,271.7 132.4,271.5 133.4,270.1 132.8,270.2 135.8,271.6 131.3,269.7 134.3,270.4 133.6,269.2 136,269.8 137.1,270.6 133,268.6 134.9,268.9 131.6,267.3 133.1,266.3 134.6,267.8 134.2,267.4 134.8,267.3 136.4,267.9 133.4,265.8 136.6,266.1 135.2,265.8 136.2,265.7 135.6,265.3 135.7,264.5 136,264 134.1,263.9 136.9,264.9 137,263.7 136.4,263.6 135.6,263.7 135.8,262.5 135.4,262.1 135.3,261.1 137.1,261.7 137.9,262.3 138.4,261.9 138.5,262 137.2,261.2 136.3,260.3 137.7,260.2 136.2,258.9 137.9,259.7 136.5,258.6 139.4,259.2 137.1,258 138.3,257.4 139.1,257.6 136.4,255.9 140.2,257.3 138.8,255.6 137.1,255.2 137.3,255.1 140.8,255.2 141.7,255.7 138.2,254.3 138,253.9 138.4,253.5 140.9,253.5 140.7,253.2 141.5,253.2 139.5,251.7 141.7,252.7 140.2,252 139.9,249.9 139.7,250.2 142,250.5 140.4,248.9 141.7,249.2 141.7,249.3 142,248.7 143.6,249.1 139.3,247.7 140.6,246.6 142.4,247.4 140.4,246.1 141.7,246 144.1,245.8 141.4,245.2 140.9,244.7 144.7,244.7 143.6,244.2 140.7,243.1 142.3,242.9 143.2,242.7 144.7,242.7 145,242.4 145.2,242.1 143.6,241.5 144.4,240.5 144.4,239.9 146,240.4 143.8,240.4 145.1,238.9 145.2,238.9 145.4,238.7 146.7,239.2 148.9,238.8 145.8,237.6 145.2,236.7 145.9,237.6 148.2,236.9 146,235.8 148,236.8 146.3,235.7 145.2,234.7 147.6,235.4 147.1,233.6 147.3,233.7 148.4,233.3 148.2,232.3 148.5,232.8 148.8,233 148.3,231.4 150.7,232.6 150.4,231.5 150.7,230.6 147.7,229.1 149.4,229.7 148,228.2 151.1,229.3 152.1,228.2 150.9,228.2 152,228.8 151.7,228.2 151,225.8 151.9,226.4 152.6,225.4 152.8,228.4 154.6,225.6 153.3,228.5 153.8,228.7 154.1,229 156.4,228.3 157.5,228.3 158.5,229.1 155.8,230.9 155.3,231.4 156.4,231.5 157.3,232.2 160,232.3 157,233.7 156.8,234.6 156.9,235.6 156.3,236.6 159.1,236 157.1,237.6 160,236.8 161,236.5 158.6,239.4 161.3,237.7 157.9,240.7 159,240.2 159.8,239.9 160.7,240 160.1,240 160.2,239.9 161.4,240.5 161.3,242.6 164.2,240 162.3,241.2 163.4,241.9 162.6,242.2 162.3,243 164,241.7 164.7,242.1 166.4,241.4 165.2,242.2 167.1,241.9 164.6,244.9 164.5,244.1 165.7,244.6 164.9,245.1 163.5,247.4 164.9,246.3 164.8,246.3 165.9,246 166.8,245.6 167.1,247.1 165.7,247.8 167.4,247 166.2,248.1 170.2,246.3 166.5,248.6 166.1,248.9 166.2,249.7 169.1,249.5 165.4,250.3 167.3,249.8 166.5,250.8 166.8,250.8 168,250.6 167.7,251.6 169.1,251.3 169.7,251.4 166.5,253.6 172.5,251.3 171,252.4 168.2,253.6 167.8,253.6 169.7,253.4 167.9,253.9 170.3,253.9 169.4,254.2 168.3,255.3 167.1,256.7 169.8,255.9 171,255.1 170.4,255.4 168.9,257.4 169.3,256.7 170.9,256.7 171.5,256.3 170,257.3 170.6,257.8 169.1,258 169.1,259.5 170.3,258.6 171.1,258.5 172.6,259.2 171.3,259.4 168.9,261.1 174.4,259.2 171,261.1 171,260.6 171.8,261.4 169.6,262.8 174.3,260.8 171.3,261.8 173,261.9 174.3,262.5 174.3,262.3 170.3,264.7 172,263.6 174.4,263.4 171.5,264.5 172.7,264.5 171.8,265.9 173.2,265.3 175.2,265.5 174.5,264.9 173.2,266.4 175.9,264.8 176.5,265.3 173.7,266.7 174.9,266.7 174,267.1 176.4,267.1 174.7,268.8 175.7,268.5 174.3,268.8 174.7,269.3 175.1,268.4 175.8,269.1 175.6,270 174.9,270.5 175.4,270.3 174.7,270.9 175.2,271.4 172.5,272.7 175.5,271.2 177,271.5 177,272.4 176.2,271.8 174,273.6 174.9,274.5 176.1,272.8 173.4,274.6 173.3,275.4 173.6,275.8 176.3,275.3 175.3,275.3 178.4,274.1 178.3,275.7 175.9,276.3 179.9,275.9 179.8,275.6 177.1,276.9 177.3,277.5 179.1,277.1 177.1,278.3 178.8,277.8 179.8,277.5 178.6,278.9 177.4,279.6 179.7,279.4 180.3,278.7 181.2,278.8 177.1,280.6 178.3,280.3 180.5,280.5 179.8,280.2 181.9,280.7 181,281.2 180.1,282.1 179.9,282.7 178.7,282.1 179.2,283.1 180.4,283 180.6,283.5 179.9,284.1 180.8,283.6 177.8,285.3 181.2,284.9 182.1,284.7 182.1,284.6 180.2,286.4 179.1,286.5 179.2,286.3 183.8,285 183.5,286 179.9,287 181.7,287.7 182.1,287.3 183.8,287.5 182.4,288.5 182.4,288.5 182.2,288.7 182.1,289 179.9,290.2 181.8,289.9 181.7,290.3 182.5,291.4 183.3,291.1 184,291.3 183.3,291.8 184.2,291.5 182.4,292.4 182.8,292.9 182.3,293 183.4,293.4 182.8,293.1 183,294.4 183.2,294.8 182.7,294.7 184.8,295 183.4,295.9 184,295.6 186.5,295.4 183.6,296.2 182.9,297.3 184.8,297.4 185.9,296.6 183.4,297.6 186.2,297.2 186.3,298 186.8,297.8 185.6,297.9 185.3,298.9 186,298.3 184.9,300.7 185.3,299.7 185.4,300.2 185,301 186,301.2 189.2,300.3 186.4,301.9 184.1,303.2 184.3,302.5 185.9,301.9 185.3,303.1 186.6,302.3 182.4,305.2 184.3,304.7 187.4,304 185.9,304.3 191,302.8 185.4,304.9 187,305.9 188,304.7 185.4,306.3 187.5,306.1 188.4,306.4 185.7,306.9 187.9,307.1 187.3,307.6 188.2,307.9 187.9,307.7 189.3,308 187.7,308.7 187.6,308.6 191.9,306.8 188.5,309.2 188.1,309.9 189.3,309.8 188.5,309.8 189.6,310.4 191.4,309.3 189.5,310.6 191.9,309.4 189.7,311.5 190.2,311.6 191.6,311.8 191.6,311.5 189.9,314.1 192,312.1 191,312.8 191.1,313.1 191.6,313.6 193.2,312.2 192.1,314 192.3,314.1 192.3,315 192.5,314.8 194.9,312.7 193.2,315 194.4,312.5 193.3,315.3 194.3,313.8 194.9,314.5 194.6,314.7 196.6,314.9 195.2,315.9 193.3,316.7 195.2,316.4 196.2,315.7 194,317.8 197.3,315.7 196.2,317.1 197,316.2 196.3,319.2 196,319.2 198.5,316.1 199,316.7 197.6,317.4 196.4,320 198.5,317 198.8,318.5 199.3,318 200.2,316.8 200.1,317.1 200,318.7 200.7,318.2 200.5,319.7 200.5,314.7 201.1,318.1 201,319.3 201.4,320.8 202.3,320.2 202.7,318.6 201.6,318.9 202.5,318.4 201.5,317.9 203.4,318.8 202.2,319.1 203.3,318.3 202.9,316.8 204.7,320 203.8,317.5 204.5,318.6 205.5,321.4 204.3,317.3 204,317.5 204.8,318.4 203.2,317.3 205.1,317 206.6,319.7 206.6,318.1 204.8,316.7 204.6,316.3 208.2,317.3 205.9,316.4 207.9,317.9 207.9,316 207.5,316.3 207.9,315.2 206.3,313.7 208.5,314.2 205.1,312.7 206.3,312.2 206.9,313.2 207.1,312.3 207.4,311 208,312.2 206.6,310.9 210.1,312.2 207,310.9 207,308.8 210.5,311.2 208.8,309.6 209.2,309.3 210.5,310.3 210,309.2 207.8,306.9 211.6,309.5 208.6,306 208.6,306.5 210,307.1 212.4,308.7 211.4,308.1 211.5,307.4 212.2,306.9 213.1,307.7 211.8,305.9 212.1,305.9 213.7,308.2 213.3,306.4 213.8,306.7 214.1,305.2 213.8,304.9 212.9,304.1 212.6,303.8 213.9,304.9 214.7,304.1 215.4,304.9 215,304 215.4,303.9 216.5,304.6 213.2,301.7 214.4,302.2 216.9,302.7 215.3,301.5 214.5,300.3 215.9,302.7 216.2,300.5 217,302.3 219.1,302.7 220.1,303.1 216.3,300.1 218.7,301.5 215.6,299.2 219.1,300.5 219.2,299.9 219,300.5 220.3,300.6 217.4,298 219.3,299.7 218.7,298.4 216.2,296.6 220.9,299.4 219.6,297.3 219.8,296.8 219,296.7 217.9,295.8 220.1,296.4 219.1,295.4 219.9,296.4 221,295.7 218.8,295 222.9,295.7 218.4,293.2 223.9,296.7 222,294.9 221.3,293.4 220.7,293.6 222.9,294 221.8,292.7 223,292.8 221.5,292.3 222.6,291.7 221.8,291.8 223.4,291.6 222.5,291.2 224,291.7 223.3,290.2 225,291.3 224.5,291.4 220.4,289.4 222.3,288.8 223.2,289.2 224,289 223.6,288.5 223.1,288.9 225.9,288.9 224.2,288.5 223.3,287.1 224.3,286.9 223.9,286.9 225.7,286.7 225.4,287 226.3,286.4 224.8,285.9 223.9,285.5 224.2,285.1 225.6,285.2 225.5,284.1 226.6,284.3 224.2,283.6 226.6,284.5 226.5,282.4 226.4,283.2 227.5,283.2 226.2,282.1 224,280.9 227.7,282.4 228.3,282.4 228.8,281.6 229.8,281.9 226.7,281.2 226.5,279.5 225.2,279.3 226.7,279.3 225.9,278.7 226.3,278.9 228.6,279.6 228.1,279.1 228,278.3 230.1,278.6 227.3,276.8 228.3,277.2 228.8,277.6 226.5,276.1 230.1,277.2 230.6,276.6 230.3,276.3 229.1,275.6 231.3,275.6 230.3,275.7 229.4,274.5 230.6,274.1 230.5,273.5 231.4,273.8 232.9,274.3 233.4,274.1 232.6,272.9 232,272.2 232.4,272.6 232.1,271.2 232.1,272.7 233,271.1 232.3,269.9 231.6,270.5 233.7,271.5 233.3,268.4 233.9,267.6 234.5,271.3 235.1,271.8 235.1,270.5 236.8,268.9 236.2,271.4 236.1,271.2 236,272 238.7,270 237.1,271.7 238.2,270.6 238,271 238.6,272.2 239.5,272.4 239.6,271.8 236.9,273.4 237.9,274.2 239.3,275.1 239.9,273.9 239.6,274.2 240.3,274.9 240.1,275.3 241.6,274.7 241,275.4 241.8,275.8 240.9,276.7 241.9,276.3 239.6,278.1 241.2,277.5 241.1,277.5 239.7,278.4 240.9,278.6 240.8,278.8 242.1,278.9 240.7,279.8 241,279.4 240.2,280 240.7,279.7 240,280.9 241.2,281.2 242.3,280.9 243.5,281.6 239.2,282.7 240.9,282.9 243.8,281.9 242.1,282.7 240.6,284.1 243,283.4 241.7,283.8 241.6,284.6 242.3,285.2 242.7,285.1 242.7,285.7 243.1,285.1 242.5,286.3 241.8,286.1 241.7,286.5 242.6,287.1 243.3,286.5 243.5,288 245.8,287.3 243.7,287.5 244.4,289.1 243.5,288.7 244.8,288.6 245.1,288.8 244,290 243.7,290 242.7,291.4 244,290.4 242.5,291.8 245.1,291.2 243.5,292.1 244.5,292.5 243.8,292.2 243.9,292.2 243,293.1 244,293.4 242.9,293.8 246,292.9 244,294.2 245,294.1 246.6,294.2 244.8,295.2 245.9,295.4 243.4,296.1 244.3,296.7 245.3,296.4 244.7,296.4 246,297.2 247,296.8 246,297 245.6,297.8 244.2,298.2 245.3,298.4 245.1,298.8 245.3,299 244,299.8 247,299.4 245.6,299.7 244.9,300.1 244.6,300.9 245,301.3 245.8,300.7 247.7,301 246,301.7 245,302.4 246.3,301.6 246.2,302.8 247.5,302 245.7,304 245.7,304.1 245.4,303.7 247,304 245.6,304.8 247.5,304.7 248.3,304.4 248,305.4 247.4,306 246.5,306.1 245.7,306.4 246.4,307.3 246.6,307.3 247.1,308.4 246.3,307.5 247.4,307.3 247.1,308 246.5,308.7 248.9,309.1 248,309.4 247.7,309.3 247.5,309.9 248,310.6 246.5,310.3 248.6,310.3 248.7,312.3 248.5,311.6 247.6,312 248.6,313.4 248.5,312.4 249.1,312.7 248.9,313.2 248.2,313.9 247.9,313.7 248,314.3 247.9,315 248.4,315 248,315.4 248.8,315.4 248.2,316.1 248.5,316 249.1,316.7 249.8,316.3 247.6,317.6 250,317.8 248.6,317.7 248.9,318.1 248.2,318.8 248.3,319 248.3,319.3 249.2,319.6 249.1,319.6 248,320.5 249.1,321 248.2,321.6 249,321 248.8,321.6 250.2,321.7 249.5,322 248.4,322.6 248.3,323.2 249.5,324.1 249.3,324.3 250.1,324.3 249.8,324.4 250.2,325.2 249.2,324.7 249.4,325 249.6,325.7 249.5,326.2 250.9,326.3 250.9,326.6 250.2,326.6 251.2,327.4 251.4,327.5 250.2,329.1 249.6,327.9 251.1,328.3 249.9,329.4 250.4,330.3 252.5,330.3 250.7,330.6 250.5,330.4 250.9,330.7 251.4,330.9 252.1,330.6 251.5,331 252,332.4 252.7,332.3 251.7,332.4 251.5,333.2 251.2,333 252.9,333.6 252.3,333.7 252.6,333.9 252.6,334.5 252.4,334.6 252.9,334.7 253.8,335.4 252.7,336 253.4,335.9 252.3,336.8 252.9,336.7 254.6,336.4 252.6,337.9 254,337 253.5,337.6 254.1,338.5 255.5,337.6 254.4,339.2 254.2,339.4 254.5,340.6 254.1,340.1 255.8,339.6 255.9,339.9 255.1,340.6 255.6,340.4 255.7,340.5 255.2,342 256,341.9 256.7,340.8 256.9,341.5 255.9,341.5 255.9,342.6 255.8,342.6 255.7,343.7 257.2,343.3 255.8,343.6 258.2,342.8 257.5,344.3 256.9,344.6 258.2,344.1 258.2,344.1 258.5,343.7 257.1,346 258.6,345.2 257.3,346.1 259,346.1 260.2,345.8 258.7,346.6 258.4,346.9 259.2,347.1 259.8,347.2 260.8,346.1 260.3,347.3 260.6,347.3 260.8,347.9 261.2,348.1 261.9,348 262.1,347.8 261.8,348.1 262.2,347.8 263.3,348.6 262.8,349.2 263.3,348.5 263.5,348.3 263.5,349.9 264.2,349 264.1,348.7 265,350.3 265.1,350 264.5,349.3 266.3,350.7 266.1,350.1 265.7,350.9 266,350.9 266.4,350.2 267,351.4 267.3,350.2 267.9,351.2 268.5,351" fill="none" stroke="none" marker-start="url(#m2)" marker-mid="url(#m2)" marker-end="url(#m2)"/>
<path d="M217,351.6 L217.7,351.5 L218.4,351.3 L219.1,351 L219.8,350.6 L220.5,350.2 L221.2,349.6 L221.9,348.8 L222.6,347.8 L223.3,346.7 L224,345.3 L224.6,343.7 L225.3,341.8 L226,339.7 L226.7,337.3 L227.4,334.6 L228.1,331.8 L228.8,328.7 L229.5,325.5 L230.2,322.2 L230.9,318.9 L231.6,315.7 L232.2,312.6 L232.9,309.7 L233.6,307.1 L234.3,304.8 L235,302.9 L235.7,301.5 L236.4,300.6 L237.1,300.2 L237.8,300.4 L238.5,301 L239.2,302.1 L239.9,303.7 L240.5,305.6 L241.2,307.9 L241.9,310.5 L242.6,313.2 L243.3,316.1 L244,319.1 L244.7,322.1 L245.4,325 L246.1,327.8 L246.8,330.6 L247.5,333.2 L248.1,335.6 L248.8,337.8 L249.5,339.8 L250.2,341.6 L250.9,343.2 L251.6,344.6 L252.3,345.8 L253,346.9 L253.7,347.8 L254.4,348.6 L255.1,349.2 L255.7,349.8 L256.4,350.2 L257.1,350.6 L257.8,350.9 L258.5,351.1 L259.2,351.3 L259.9,351.5 L260.6,351.6 L261.3,351.7" fill="none" stroke="#aa7ae0" stroke-width="3.5" stroke-linejoin="round"/>
<path d="M109.9,351.2 L110.6,351 L111.3,350.8 L112,350.6 L112.7,350.3 L113.4,350 L114.1,349.6 L114.7,349.2 L115.4,348.7 L116.1,348.1 L116.8,347.5 L117.5,346.8 L118.2,346 L118.9,345.1 L119.6,344.1 L120.3,343.1 L121,341.9 L121.7,340.6 L122.3,339.2 L123,337.7 L123.7,336.1 L124.4,334.3 L125.1,332.4 L125.8,330.5 L126.5,328.4 L127.2,326.1 L127.9,323.8 L128.6,321.4 L129.3,318.8 L130,316.2 L130.6,313.4 L131.3,310.6 L132,307.7 L132.7,304.7 L133.4,301.7 L134.1,298.7 L134.8,295.6 L135.5,292.4 L136.2,289.3 L136.9,286.2 L137.6,283 L138.2,280 L138.9,276.9 L139.6,273.9 L140.3,271 L141,268.1 L141.7,265.3 L142.4,262.6 L143.1,260 L143.8,257.6 L144.5,255.2 L145.2,253 L145.8,251 L146.5,249.1 L147.2,247.3 L147.9,245.7 L148.6,244.3 L149.3,243 L150,241.9 L150.7,240.9 L151.4,240.2 L152.1,239.6 L152.8,239.1 L153.5,238.9 L154.1,238.8 L154.8,238.8 L155.5,239 L156.2,239.3 L156.9,239.8 L157.6,240.3 L158.3,241 L159,241.8 L159.7,242.7 L160.4,243.7 L161.1,244.7 L161.7,245.9 L162.4,247.2 L163.1,248.5 L163.8,249.9 L164.5,251.4 L165.2,253 L165.9,254.6 L166.6,256.2 L167.3,258 L168,259.7 L168.7,261.5 L169.3,263.3 L170,265.2 L170.7,267 L171.4,268.9 L172.1,270.8 L172.8,272.7 L173.5,274.6 L174.2,276.6 L174.9,278.5 L175.6,280.4 L176.3,282.3 L177,284.2 L177.6,286.1 L178.3,287.9 L179,289.8 L179.7,291.6 L180.4,293.4 L181.1,295.2 L181.8,296.9 L182.5,298.7 L183.2,300.4 L183.9,302 L184.6,303.7 L185.2,305.3 L185.9,306.8 L186.6,308.4 L187.3,309.9 L188,311.3 L188.7,312.7 L189.4,314.1 L190.1,315.5 L190.8,316.8 L191.5,318.1 L192.2,319.4 L192.9,320.6 L193.5,321.7 L194.2,322.9 L194.9,324 L195.6,325.1 L196.3,326.1 L197,327.1 L197.7,328.1 L198.4,329.1 L199.1,330 L199.8,330.9 L200.5,331.7 L201.1,332.5 L201.8,333.3 L202.5,334.1 L203.2,334.8 L203.9,335.5 L204.6,336.2 L205.3,336.9 L206,337.5 L206.7,338.1 L207.4,338.7 L208.1,339.3 L208.7,339.8 L209.4,340.4 L210.1,340.9 L210.8,341.4 L211.5,341.8 L212.2,342.3 L212.9,342.7 L213.6,343.1 L214.3,343.5 L215,343.9 L215.7,344.2 L216.4,344.6 L217,344.9 L217.7,345.2 L218.4,345.5 L219.1,345.8 L219.8,346.1 L220.5,346.4 L221.2,346.6 L221.9,346.9 L222.6,347.1 L223.3,347.3 L224,347.5 L224.6,347.7 L225.3,347.9 L226,348.1 L226.7,348.3 L227.4,348.5 L228.1,348.6 L228.8,348.8 L229.5,348.9 L230.2,349.1 L230.9,349.2 L231.6,349.3 L232.2,349.5 L232.9,349.6 L233.6,349.7 L234.3,349.8 L235,349.9 L235.7,350 L236.4,350.1 L237.1,350.2 L237.8,350.3 L238.5,350.4 L239.2,350.4 L239.9,350.5 L240.5,350.6 L241.2,350.6 L241.9,350.7 L242.6,350.8 L243.3,350.8 L244,350.9 L244.7,350.9 L245.4,351 L246.1,351 L246.8,351.1 L247.5,351.1 L248.1,351.2 L248.8,351.2 L249.5,351.2 L250.2,351.3 L250.9,351.3" fill="none" stroke="#27ab5c" stroke-width="3.6" stroke-linejoin="round"/>
<path d="M91.9,351.8 L92.6,351.7 L93.3,351.5 L94,351.2 L94.7,350.8 L95.4,350.2 L96.1,349.4 L96.8,348.3 L97.5,347 L98.2,345.4 L98.8,343.6 L99.5,341.7 L100.2,339.7 L100.9,337.7 L101.6,336 L102.3,334.5 L103,333.4 L103.7,332.8 L104.4,332.7 L105.1,333.1 L105.8,333.9 L106.5,335.1 L107.1,336.5 L107.8,338.2 L108.5,339.9 L109.2,341.7 L109.9,343.4 L110.6,344.9 L111.3,346.3 L112,347.5 L112.7,348.5 L113.4,349.3 L114.1,350 L114.7,350.5 L115.4,350.9 L116.1,351.2 L116.8,351.5 L117.5,351.6 L118.2,351.7 L118.9,351.8" fill="none" stroke="#d49a10" stroke-width="3.4" stroke-linejoin="round"/>
<path d="M84.3,352 L85,352 L85.7,352 L86.4,352 L87.1,352 L87.8,352 L88.5,352 L89.2,352 L89.9,352 L90.6,352 L91.2,352 L91.9,352 L92.6,352 L93.3,352 L94,352 L94.7,352 L95.4,352 L96.1,352 L96.8,352 L97.5,352 L98.2,352 L98.8,352 L99.5,352 L100.2,352 L100.9,352 L101.6,352 L102.3,352 L103,352 L103.7,352 L104.4,352 L105.1,352 L105.8,352 L106.5,352 L107.1,352 L107.8,352 L108.5,352 L109.2,352 L109.9,352 L110.6,352 L111.3,352 L112,352 L112.7,352 L113.4,352 L114.1,352 L114.7,352 L115.4,352 L116.1,352 L116.8,352 L117.5,352 L118.2,352 L118.9,352 L119.6,352 L120.3,352 L121,352 L121.7,352 L122.3,352 L123,352 L123.7,352 L124.4,352 L125.1,352 L125.8,352 L126.5,352 L127.2,352 L127.9,352 L128.6,352 L129.3,352 L130,352 L130.6,352 L131.3,352 L132,352 L132.7,352 L133.4,352 L134.1,352 L134.8,352 L135.5,352 L136.2,352 L136.9,352 L137.6,352 L138.2,352 L138.9,352 L139.6,352 L140.3,352 L141,352 L141.7,352 L142.4,352 L143.1,352 L143.8,352 L144.5,352 L145.2,352 L145.8,352 L146.5,352 L147.2,352 L147.9,352 L148.6,352 L149.3,352 L150,352 L150.7,352 L151.4,352 L152.1,352 L152.8,352 L153.5,352 L154.1,352 L154.8,352 L155.5,352 L156.2,352 L156.9,352 L157.6,352 L158.3,352 L159,352 L159.7,352 L160.4,352 L161.1,352 L161.7,352 L162.4,352 L163.1,352 L163.8,352 L164.5,352 L165.2,352 L165.9,352 L166.6,352 L167.3,352 L168,352 L168.7,352 L169.3,352 L170,352 L170.7,352 L171.4,352 L172.1,352 L172.8,352 L173.5,352 L174.2,352 L174.9,352 L175.6,352 L176.3,352 L177,352 L177.6,352 L178.3,352 L179,352 L179.7,352 L180.4,352 L181.1,351.9 L181.8,351.9 L182.5,351.9 L183.2,351.9 L183.9,351.9 L184.6,351.8 L185.2,351.8 L185.9,351.7 L186.6,351.7 L187.3,351.6 L188,351.5 L188.7,351.4 L189.4,351.2 L190.1,351.1 L190.8,350.9 L191.5,350.7 L192.2,350.4 L192.9,350.2 L193.5,349.8 L194.2,349.5 L194.9,349.1 L195.6,348.6 L196.3,348.1 L197,347.6 L197.7,346.9 L198.4,346.3 L199.1,345.5 L199.8,344.7 L200.5,343.9 L201.1,342.9 L201.8,342 L202.5,340.9 L203.2,339.8 L203.9,338.6 L204.6,337.4 L205.3,336.1 L206,334.8 L206.7,333.5 L207.4,332.1 L208.1,330.7 L208.7,329.2 L209.4,327.8 L210.1,326.3 L210.8,324.9 L211.5,323.5 L212.2,322.1 L212.9,320.7 L213.6,319.3 L214.3,318.1 L215,316.8 L215.7,315.7 L216.4,314.6 L217,313.6 L217.7,312.7 L218.4,311.9 L219.1,311.2 L219.8,310.5 L220.5,310 L221.2,309.6 L221.9,309.3 L222.6,309.1 L223.3,309 L224,309.1 L224.6,309.2 L225.3,309.4 L226,309.7 L226.7,310.1 L227.4,310.6 L228.1,311.2 L228.8,311.9 L229.5,312.6 L230.2,313.4 L230.9,314.2 L231.6,315.1 L232.2,316.1 L232.9,317.1 L233.6,318.1 L234.3,319.2 L235,320.2 L235.7,321.3 L236.4,322.5 L237.1,323.6 L237.8,324.7 L238.5,325.9 L239.2,327 L239.9,328.1 L240.5,329.2 L241.2,330.3 L241.9,331.3 L242.6,332.4 L243.3,333.4 L244,334.4 L244.7,335.4 L245.4,336.3 L246.1,337.2 L246.8,338.1 L247.5,338.9 L248.1,339.7 L248.8,340.5 L249.5,341.2 L250.2,341.9 L250.9,342.6 L251.6,343.2 L252.3,343.8 L253,344.4 L253.7,344.9 L254.4,345.4 L255.1,345.9 L255.7,346.4 L256.4,346.8 L257.1,347.2 L257.8,347.5 L258.5,347.9 L259.2,348.2 L259.9,348.5 L260.6,348.8 L261.3,349.1 L262,349.3 L262.7,349.5 L263.4,349.7 L264,349.9 L264.7,350.1 L265.4,350.3 L266.1,350.4 L266.8,350.6 L267.5,350.7" fill="none" stroke="#1fc6c8" stroke-width="3.5" stroke-linejoin="round"/>
<path d="M89.9,351.7 L90.6,351.6 L91.2,351.5 L91.9,351.3 L92.6,351.1 L93.3,350.9 L94,350.7 L94.7,350.4 L95.4,350.1 L96.1,349.7 L96.8,349.2 L97.5,348.7 L98.2,348.1 L98.8,347.5 L99.5,346.7 L100.2,345.9 L100.9,345.1 L101.6,344.1 L102.3,343.1 L103,341.9 L103.7,340.7 L104.4,339.5 L105.1,338.1 L105.8,336.7 L106.5,335.3 L107.1,333.8 L107.8,332.2 L108.5,330.7 L109.2,329.1 L109.9,327.5 L110.6,325.9 L111.3,324.3 L112,322.7 L112.7,321.2 L113.4,319.7 L114.1,318.3 L114.7,316.9 L115.4,315.7 L116.1,314.5 L116.8,313.4 L117.5,312.4 L118.2,311.5 L118.9,310.7 L119.6,310 L120.3,309.4 L121,309 L121.7,308.7 L122.3,308.5 L123,308.4 L123.7,308.4 L124.4,308.6 L125.1,308.9 L125.8,309.3 L126.5,309.9 L127.2,310.5 L127.9,311.3 L128.6,312.2 L129.3,313.1 L130,314.1 L130.6,315.2 L131.3,316.4 L132,317.6 L132.7,318.8 L133.4,320.1 L134.1,321.3 L134.8,322.6 L135.5,323.9 L136.2,325.2 L136.9,326.5 L137.6,327.8 L138.2,329 L138.9,330.2 L139.6,331.4 L140.3,332.6 L141,333.7 L141.7,334.8 L142.4,335.9 L143.1,336.9 L143.8,337.8 L144.5,338.8 L145.2,339.6 L145.8,340.5 L146.5,341.3 L147.2,342 L147.9,342.8 L148.6,343.4 L149.3,344.1 L150,344.7 L150.7,345.2 L151.4,345.7 L152.1,346.2 L152.8,346.7 L153.5,347.1 L154.1,347.5 L154.8,347.9 L155.5,348.2 L156.2,348.5 L156.9,348.8 L157.6,349.1 L158.3,349.3 L159,349.6 L159.7,349.8 L160.4,350 L161.1,350.2 L161.7,350.3 L162.4,350.5 L163.1,350.6 L163.8,350.7 L164.5,350.9 L165.2,351 L165.9,351.1 L166.6,351.1 L167.3,351.2 L168,351.3 L168.7,351.4 L169.3,351.4 L170,351.5 L170.7,351.5 L171.4,351.6 L172.1,351.6 L172.8,351.7 L173.5,351.7 L174.2,351.7" fill="none" stroke="#7a4448" stroke-width="3.6" stroke-linejoin="round"/>
<path d="M84.3,350.5 L85,350.4 L85.7,350.4 L86.4,350.3 L87.1,350.2 L87.8,350.2 L88.5,350.1 L89.2,350 L89.9,350 L90.6,349.9 L91.2,349.8 L91.9,349.8 L92.6,349.7 L93.3,349.6 L94,349.6 L94.7,349.5 L95.4,349.4 L96.1,349.4 L96.8,349.3 L97.5,349.3 L98.2,349.2 L98.8,349.1 L99.5,349.1 L100.2,349 L100.9,348.9 L101.6,348.9 L102.3,348.8 L103,348.8 L103.7,348.7 L104.4,348.6 L105.1,348.6 L105.8,348.5 L106.5,348.5 L107.1,348.4 L107.8,348.4 L108.5,348.3 L109.2,348.3 L109.9,348.2 L110.6,348.2 L111.3,348.1 L112,348.1 L112.7,348 L113.4,348 L114.1,347.9 L114.7,347.9 L115.4,347.9 L116.1,347.8 L116.8,347.8 L117.5,347.7 L118.2,347.7 L118.9,347.7 L119.6,347.6 L120.3,347.6 L121,347.6 L121.7,347.5 L122.3,347.5 L123,347.5 L123.7,347.4 L124.4,347.4 L125.1,347.4 L125.8,347.4 L126.5,347.3 L127.2,347.3 L127.9,347.3 L128.6,347.3 L129.3,347.2 L130,347.2 L130.6,347.2 L131.3,347.2 L132,347.2 L132.7,347.2 L133.4,347.1 L134.1,347.1 L134.8,347.1 L135.5,347.1 L136.2,347.1 L136.9,347.1 L137.6,347.1 L138.2,347.1 L138.9,347 L139.6,347 L140.3,347 L141,347 L141.7,347 L142.4,347 L143.1,347 L143.8,347 L144.5,347 L145.2,347 L145.8,347 L146.5,347 L147.2,347 L147.9,347 L148.6,347 L149.3,347 L150,347 L150.7,347 L151.4,347 L152.1,347 L152.8,347 L153.5,347 L154.1,347 L154.8,347 L155.5,347.1 L156.2,347.1 L156.9,347.1 L157.6,347.1 L158.3,347.1 L159,347.1 L159.7,347.1 L160.4,347.1 L161.1,347.1 L161.7,347.1 L162.4,347.1 L163.1,347.2 L163.8,347.2 L164.5,347.2 L165.2,347.2 L165.9,347.2 L166.6,347.2 L167.3,347.2 L168,347.2 L168.7,347.3 L169.3,347.3 L170,347.3 L170.7,347.3 L171.4,347.3 L172.1,347.3 L172.8,347.3 L173.5,347.4 L174.2,347.4 L174.9,347.4 L175.6,347.4 L176.3,347.4 L177,347.4 L177.6,347.5 L178.3,347.5 L179,347.5 L179.7,347.5 L180.4,347.5 L181.1,347.5 L181.8,347.5 L182.5,347.6 L183.2,347.6 L183.9,347.6 L184.6,347.6 L185.2,347.6 L185.9,347.7 L186.6,347.7 L187.3,347.7 L188,347.7 L188.7,347.7 L189.4,347.7 L190.1,347.8 L190.8,347.8 L191.5,347.8 L192.2,347.8 L192.9,347.8 L193.5,347.8 L194.2,347.9 L194.9,347.9 L195.6,347.9 L196.3,347.9 L197,347.9 L197.7,348 L198.4,348 L199.1,348 L199.8,348 L200.5,348 L201.1,348 L201.8,348.1 L202.5,348.1 L203.2,348.1 L203.9,348.1 L204.6,348.1 L205.3,348.2 L206,348.2 L206.7,348.2 L207.4,348.2 L208.1,348.2 L208.7,348.2 L209.4,348.3 L210.1,348.3 L210.8,348.3 L211.5,348.3 L212.2,348.3 L212.9,348.3 L213.6,348.4 L214.3,348.4 L215,348.4 L215.7,348.4 L216.4,348.4 L217,348.4 L217.7,348.5 L218.4,348.5 L219.1,348.5 L219.8,348.5 L220.5,348.5 L221.2,348.6 L221.9,348.6 L222.6,348.6 L223.3,348.6 L224,348.6 L224.6,348.6 L225.3,348.7 L226,348.7 L226.7,348.7 L227.4,348.7 L228.1,348.7 L228.8,348.7 L229.5,348.7 L230.2,348.8 L230.9,348.8 L231.6,348.8 L232.2,348.8 L232.9,348.8 L233.6,348.8 L234.3,348.9 L235,348.9 L235.7,348.9 L236.4,348.9 L237.1,348.9 L237.8,348.9 L238.5,348.9 L239.2,349 L239.9,349 L240.5,349 L241.2,349 L241.9,349 L242.6,349 L243.3,349.1 L244,349.1 L244.7,349.1 L245.4,349.1 L246.1,349.1 L246.8,349.1 L247.5,349.1 L248.1,349.2 L248.8,349.2 L249.5,349.2 L250.2,349.2 L250.9,349.2 L251.6,349.2 L252.3,349.2 L253,349.2 L253.7,349.3 L254.4,349.3 L255.1,349.3 L255.7,349.3 L256.4,349.3 L257.1,349.3 L257.8,349.3 L258.5,349.4 L259.2,349.4 L259.9,349.4 L260.6,349.4 L261.3,349.4 L262,349.4 L262.7,349.4 L263.4,349.4 L264,349.5 L264.7,349.5 L265.4,349.5 L266.1,349.5 L266.8,349.5 L267.5,349.5" fill="none" stroke="#f04048" stroke-width="3" stroke-linejoin="round"/>
<path d="M86.3,352.1 L86.7,352.1 L87.2,352.1 L87.6,352 L88,352 L88.4,351.9 L88.7,351.8 L89.1,351.7 L89.4,351.6 L89.7,351.5 L90.1,351.3 L90.4,351.2 L90.7,351 L90.9,350.9 L91.2,350.7 L91.5,350.5 L91.7,350.3 L92,350.1 L92.2,349.9 L92.4,349.7 L92.6,349.5 L92.8,349.3 L93,349 L93.2,348.8 L93.4,348.5 L93.6,348.3 L93.7,348 L93.9,347.7 L94,347.5 L94.2,347.2 L94.3,346.9 L94.5,346.6 L94.6,346.3 L94.7,346 L94.9,345.7 L95,345.4 L95.1,345.1 L95.2,344.8 L95.3,344.5 L95.5,344.2 L95.6,343.8 L95.7,343.5 L95.8,343.2 L95.9,342.9 L96,342.6 L96.1,342.2 L96.2,341.9 L96.3,341.6 L96.4,341.3 L96.5,341 L96.6,340.6 L96.8,340.3 L96.9,340 L97,339.7 L97.1,339.4 L97.2,339.1 L97.4,338.8 L97.5,338.5 L97.6,338.2 L97.8,337.9 L97.9,337.6 L98.1,337.3 L98.2,337 L98.4,336.8 L98.6,336.5 L98.8,336.2 L98.9,336 L99.1,335.7 L99.3,335.5 L99.5,335.2 L99.7,335 L100,334.7 L100.2,334.5 L100.4,334.3 L100.6,334 L100.8,333.8 L101.1,333.6 L101.3,333.4 L101.5,333.2 L101.8,332.9 L102,332.7 L102.3,332.5 L102.5,332.3 L102.8,332.1 L103,331.9 L103.3,331.7 L103.5,331.5 L103.8,331.3 L104,331.1 L104.3,330.9 L104.5,330.7 L104.8,330.5 L105,330.3 L105.3,330.1 L105.5,329.9 L105.8,329.7 L106,329.4 L106.2,329.2 L106.5,329 L106.7,328.8 L106.9,328.6 L107.2,328.4 L107.4,328.2 L107.6,328 L107.8,327.7 L108.1,327.5 L108.3,327.3 L108.5,327 L108.7,326.8 L108.9,326.6 L109.1,326.3 L109.3,326.1 L109.5,325.9 L109.7,325.6 L109.8,325.4 L110,325.1 L110.2,324.9 L110.4,324.6 L110.6,324.4 L110.7,324.1 L110.9,323.9 L111.1,323.6 L111.2,323.3 L111.4,323.1 L111.5,322.8 L111.7,322.5 L111.8,322.3 L112,322 L112.1,321.7 L112.3,321.5 L112.4,321.2 L112.6,320.9 L112.7,320.6 L112.8,320.4 L113,320.1 L113.1,319.8 L113.2,319.5 L113.4,319.2 L113.5,318.9 L113.6,318.6 L113.7,318.4 L113.9,318.1 L114,317.8 L114.1,317.5 L114.2,317.2 L114.3,316.9 L114.4,316.6 L114.5,316.3 L114.7,316 L114.8,315.7 L114.9,315.4 L115,315.1 L115.1,314.8 L115.2,314.5 L115.3,314.2 L115.4,313.9 L115.5,313.6 L115.6,313.3 L115.7,313 L115.8,312.6 L115.9,312.3 L116,312 L116.1,311.7 L116.2,311.4 L116.3,311.1 L116.4,310.8 L116.5,310.5 L116.6,310.2 L116.7,309.8 L116.8,309.5 L116.9,309.2 L117,308.9 L117,308.6 L117.1,308.3 L117.2,308 L117.3,307.6 L117.4,307.3 L117.5,307 L117.6,306.7 L117.7,306.4 L117.8,306.1 L117.9,305.7 L118,305.4 L118.1,305.1 L118.2,304.8 L118.3,304.5 L118.4,304.2 L118.5,303.8 L118.6,303.5 L118.7,303.2 L118.8,302.9 L118.9,302.6 L119,302.3 L119.1,301.9 L119.2,301.6 L119.3,301.3 L119.4,301 L119.5,300.7 L119.7,300.4 L119.8,300.1 L119.9,299.7 L120,299.4 L120.1,299.1 L120.2,298.8 L120.4,298.5 L120.5,298.2 L120.6,297.9 L120.7,297.6 L120.9,297.3 L121,297 L121.1,296.7 L121.2,296.4 L121.4,296.1 L121.5,295.8 L121.7,295.4 L121.8,295.1 L121.9,294.8 L122.1,294.5 L122.2,294.2 L122.4,293.9 L122.5,293.6 L122.6,293.3 L122.8,293.1 L122.9,292.8 L123.1,292.5 L123.2,292.2 L123.4,291.9 L123.5,291.6 L123.7,291.3 L123.8,291 L124,290.7 L124.1,290.4 L124.3,290.1 L124.5,289.8 L124.6,289.5 L124.8,289.2 L124.9,288.9 L125.1,288.6 L125.2,288.4 L125.4,288.1 L125.5,287.8 L125.7,287.5 L125.9,287.2 L126,286.9 L126.2,286.6 L126.3,286.3 L126.5,286 L126.6,285.8 L126.8,285.5 L127,285.2 L127.1,284.9 L127.3,284.6 L127.4,284.3 L127.6,284 L127.7,283.8 L127.9,283.5 L128,283.2 L128.2,282.9 L128.3,282.6 L128.5,282.3 L128.6,282 L128.8,281.8 L128.9,281.5 L129.1,281.2 L129.2,280.9 L129.4,280.6 L129.5,280.3 L129.7,280 L129.8,279.8 L129.9,279.5 L130.1,279.2 L130.2,278.9 L130.4,278.6 L130.5,278.3 L130.6,278 L130.8,277.8 L130.9,277.5 L131,277.2 L131.2,276.9 L131.3,276.6 L131.5,276.3 L131.6,276.1 L131.7,275.8 L131.9,275.5 L132,275.2 L132.1,274.9 L132.2,274.6 L132.4,274.3 L132.5,274.1 L132.6,273.8 L132.8,273.5 L132.9,273.2 L133,272.9 L133.2,272.6 L133.3,272.3 L133.4,272.1 L133.5,271.8 L133.7,271.5 L133.8,271.2 L133.9,270.9 L134,270.6 L134.2,270.3 L134.3,270 L134.4,269.8 L134.5,269.5 L134.7,269.2 L134.8,268.9 L134.9,268.6 L135,268.3 L135.2,268 L135.3,267.7 L135.4,267.4 L135.5,267.2 L135.7,266.9 L135.8,266.6 L135.9,266.3 L136,266 L136.2,265.7 L136.3,265.4 L136.4,265.1 L136.5,264.8 L136.7,264.5 L136.8,264.2 L136.9,263.9 L137,263.6 L137.2,263.3 L137.3,263.1 L137.4,262.8 L137.5,262.5 L137.7,262.2 L137.8,261.9 L137.9,261.6 L138,261.3 L138.2,261 L138.3,260.7 L138.4,260.4 L138.5,260.1 L138.7,259.8 L138.8,259.5 L138.9,259.2 L139,258.9 L139.2,258.6 L139.3,258.3 L139.4,258 L139.6,257.7 L139.7,257.4 L139.8,257.1 L139.9,256.8 L140.1,256.5 L140.2,256.1 L140.3,255.8 L140.5,255.5 L140.6,255.2 L140.7,254.9 L140.9,254.6 L141,254.3 L141.1,254 L141.3,253.7 L141.4,253.4 L141.6,253.1 L141.7,252.7 L141.8,252.4 L142,252.1 L142.1,251.8 L142.3,251.5 L142.4,251.2 L142.5,250.9 L142.7,250.5 L142.8,250.2 L143,249.9 L143.1,249.6 L143.3,249.3 L143.4,248.9 L143.6,248.6 L143.7,248.3 L143.9,248 L144,247.7 L144.2,247.3 L144.3,247 L144.5,246.7 L144.6,246.4 L144.8,246 L144.9,245.7 L145.1,245.4 L145.3,245.1 L145.4,244.8 L145.6,244.4 L145.7,244.1 L145.9,243.8 L146.1,243.5 L146.2,243.2 L146.4,242.9 L146.6,242.6 L146.8,242.3 L146.9,242 L147.1,241.8 L147.3,241.5 L147.5,241.2 L147.7,241 L147.8,240.7 L148,240.4 L148.2,240.2 L148.4,240 L148.6,239.7 L148.8,239.5 L149,239.3 L149.2,239.1 L149.4,238.9 L149.6,238.7 L149.8,238.5 L150,238.4 L150.2,238.2 L150.4,238.1 L150.6,237.9 L150.9,237.8 L151.1,237.7 L151.3,237.6 L151.5,237.5 L151.8,237.4 L152,237.3 L152.2,237.3 L152.5,237.2 L152.7,237.2 L153,237.2 L153.2,237.2 L153.5,237.2 L153.7,237.2 L154,237.3 L154.2,237.3 L154.5,237.4 L154.8,237.5 L155,237.5 L155.3,237.6 L155.6,237.7 L155.8,237.9 L156.1,238 L156.4,238.1 L156.7,238.3 L156.9,238.5 L157.2,238.6 L157.5,238.8 L157.7,239 L158,239.2 L158.3,239.4 L158.6,239.6 L158.8,239.8 L159.1,240 L159.4,240.3 L159.6,240.5 L159.9,240.8 L160.1,241 L160.4,241.3 L160.6,241.5 L160.9,241.8 L161.1,242.1 L161.4,242.3 L161.6,242.6 L161.9,242.9 L162.1,243.2 L162.3,243.5 L162.6,243.8 L162.8,244.1 L163,244.4 L163.2,244.7 L163.4,245 L163.6,245.3 L163.8,245.6 L164,245.9 L164.2,246.2 L164.4,246.5 L164.6,246.8 L164.7,247 L164.9,247.3 L165.1,247.6 L165.2,247.9 L165.4,248.2 L165.5,248.5 L165.7,248.8 L165.8,249.1 L165.9,249.4 L166.1,249.7 L166.2,250 L166.3,250.3 L166.4,250.6 L166.6,250.9 L166.7,251.2 L166.8,251.5 L166.9,251.8 L167,252.1 L167.2,252.4 L167.3,252.7 L167.4,253 L167.5,253.3 L167.6,253.6 L167.8,253.9 L167.9,254.2 L168,254.5 L168.1,254.8 L168.2,255 L168.3,255.3 L168.5,255.6 L168.6,255.9 L168.7,256.2 L168.8,256.5 L168.9,256.8 L169,257.1 L169.2,257.4 L169.3,257.7 L169.4,258 L169.5,258.3 L169.6,258.6 L169.7,258.9 L169.9,259.2 L170,259.5 L170.1,259.8 L170.2,260.1 L170.3,260.4 L170.4,260.7 L170.5,261 L170.7,261.3 L170.8,261.6 L170.9,261.9 L171,262.2 L171.1,262.4 L171.2,262.7 L171.3,263 L171.5,263.3 L171.6,263.6 L171.7,263.9 L171.8,264.2 L171.9,264.5 L172,264.8 L172.1,265.1 L172.2,265.4 L172.4,265.7 L172.5,266 L172.6,266.3 L172.7,266.6 L172.8,266.9 L172.9,267.2 L173,267.5 L173.1,267.8 L173.3,268.1 L173.4,268.4 L173.5,268.7 L173.6,269 L173.7,269.3 L173.8,269.6 L173.9,269.9 L174,270.2 L174.1,270.5 L174.2,270.8 L174.4,271.1 L174.5,271.4 L174.6,271.7 L174.7,272 L174.8,272.3 L174.9,272.6 L175,272.9 L175.1,273.2 L175.2,273.5 L175.3,273.8 L175.4,274.1 L175.5,274.4 L175.7,274.7 L175.8,275 L175.9,275.3 L176,275.6 L176.1,275.9 L176.2,276.2 L176.3,276.5 L176.4,276.8 L176.5,277.1 L176.6,277.4 L176.7,277.7 L176.8,278.1 L176.9,278.4 L177,278.7 L177.1,279 L177.2,279.3 L177.4,279.6 L177.5,279.9 L177.6,280.2 L177.7,280.5 L177.8,280.8 L177.9,281.1 L178,281.4 L178.1,281.7 L178.2,282 L178.3,282.3 L178.4,282.7 L178.5,283 L178.6,283.3 L178.7,283.6 L178.8,283.9 L178.9,284.2 L179,284.5 L179.1,284.8 L179.2,285.1 L179.3,285.4 L179.4,285.8 L179.5,286.1 L179.6,286.4 L179.7,286.7 L179.8,287 L179.9,287.3 L180,287.6 L180.1,287.9 L180.2,288.3 L180.3,288.6 L180.4,288.9 L180.5,289.2 L180.6,289.5 L180.7,289.8 L180.8,290.1 L180.9,290.5 L181,290.8 L181.1,291.1 L181.2,291.4 L181.3,291.7 L181.4,292 L181.5,292.4 L181.6,292.7 L181.7,293 L181.8,293.3 L181.9,293.6 L182,294 L182.1,294.3 L182.2,294.6 L182.3,294.9 L182.4,295.2 L182.5,295.6 L182.6,295.9 L182.7,296.2 L182.8,296.5 L182.9,296.8 L183,297.2 L183,297.5 L183.1,297.8 L183.2,298.1 L183.4,298.4 L183.5,298.8 L183.6,299.1 L183.7,299.4 L183.8,299.7 L183.9,300 L184,300.4 L184.1,300.7 L184.2,301 L184.3,301.3 L184.4,301.6 L184.5,301.9 L184.6,302.2 L184.7,302.5 L184.9,302.9 L185,303.2 L185.1,303.5 L185.2,303.8 L185.3,304.1 L185.4,304.4 L185.6,304.7 L185.7,305 L185.8,305.3 L186,305.6 L186.1,305.9 L186.2,306.2 L186.3,306.5 L186.5,306.8 L186.6,307.1 L186.8,307.4 L186.9,307.7 L187,308 L187.2,308.2 L187.3,308.5 L187.5,308.8 L187.6,309.1 L187.8,309.4 L188,309.6 L188.1,309.9 L188.3,310.2 L188.4,310.5 L188.6,310.7 L188.8,311 L189,311.3 L189.1,311.5 L189.3,311.8 L189.5,312.1 L189.7,312.3 L189.9,312.6 L190.1,312.8 L190.3,313.1 L190.5,313.3 L190.7,313.6 L190.9,313.8 L191.1,314 L191.3,314.3 L191.5,314.5 L191.7,314.8 L191.9,315 L192.2,315.2 L192.4,315.4 L192.6,315.6 L192.8,315.9 L193.1,316.1 L193.3,316.3 L193.6,316.5 L193.8,316.7 L194.1,316.9 L194.3,317.1 L194.6,317.3 L194.9,317.5 L195.1,317.7 L195.4,317.9 L195.7,318.1 L196,318.2 L196.3,318.4 L196.5,318.6 L196.8,318.7 L197.1,318.9 L197.4,319.1 L197.7,319.2 L198,319.3 L198.3,319.5 L198.6,319.6 L198.9,319.7 L199.2,319.8 L199.5,319.9 L199.8,320 L200.2,320.1 L200.5,320.2 L200.8,320.2 L201.1,320.3 L201.3,320.3 L201.6,320.3 L201.9,320.3 L202.2,320.3 L202.5,320.3 L202.8,320.3 L203.1,320.3 L203.3,320.2 L203.6,320.1 L203.9,320 L204.1,319.9 L204.4,319.8 L204.6,319.7 L204.9,319.5 L205.1,319.3 L205.3,319.2 L205.6,319 L205.8,318.7 L206,318.5 L206.2,318.2 L206.4,318 L206.6,317.7 L206.8,317.4 L207,317.1 L207.1,316.8 L207.3,316.4 L207.5,316.1 L207.7,315.8 L207.8,315.4 L208,315.1 L208.2,314.7 L208.3,314.4 L208.5,314.1 L208.7,313.7 L208.8,313.4 L209,313 L209.2,312.7 L209.3,312.3 L209.5,312 L209.7,311.7 L209.9,311.4 L210.1,311.1 L210.2,310.8 L210.4,310.5 L210.6,310.2 L210.8,310 L211,309.7 L211.2,309.4 L211.4,309.2 L211.6,308.9 L211.8,308.7 L212,308.4 L212.2,308.2 L212.4,308 L212.6,307.7 L212.8,307.5 L213,307.3 L213.2,307 L213.4,306.8 L213.7,306.6 L213.9,306.4 L214.1,306.2 L214.3,305.9 L214.5,305.7 L214.7,305.5 L214.9,305.3 L215.2,305.1 L215.4,304.8 L215.6,304.6 L215.8,304.4 L216,304.2 L216.2,303.9 L216.4,303.7 L216.7,303.5 L216.9,303.2 L217.1,303 L217.3,302.8 L217.5,302.5 L217.7,302.3 L217.9,302 L218.1,301.8 L218.3,301.5 L218.5,301.2 L218.7,301 L218.9,300.7 L219.1,300.5 L219.3,300.2 L219.5,299.9 L219.7,299.6 L219.9,299.4 L220.1,299.1 L220.3,298.8 L220.5,298.5 L220.7,298.3 L220.8,298 L221,297.7 L221.2,297.4 L221.4,297.1 L221.5,296.9 L221.7,296.6 L221.9,296.3 L222,296 L222.2,295.7 L222.4,295.4 L222.5,295.1 L222.6,294.8 L222.8,294.6 L222.9,294.3 L223.1,294 L223.2,293.7 L223.4,293.4 L223.5,293.1 L223.6,292.8 L223.7,292.5 L223.9,292.2 L224,291.9 L224.1,291.6 L224.2,291.4 L224.4,291.1 L224.5,290.8 L224.6,290.5 L224.7,290.2 L224.8,289.9 L224.9,289.6 L225,289.3 L225.1,289 L225.3,288.7 L225.4,288.4 L225.5,288.1 L225.6,287.8 L225.7,287.5 L225.8,287.2 L225.9,286.9 L226,286.6 L226.1,286.3 L226.2,286 L226.3,285.7 L226.4,285.4 L226.5,285.1 L226.7,284.8 L226.8,284.5 L226.9,284.2 L227,283.9 L227.1,283.6 L227.2,283.3 L227.3,282.9 L227.4,282.6 L227.6,282.3 L227.7,282 L227.8,281.7 L227.9,281.4 L228,281.1 L228.2,280.8 L228.3,280.5 L228.4,280.2 L228.6,279.9 L228.7,279.6 L228.8,279.2 L229,278.9 L229.1,278.6 L229.3,278.3 L229.4,278 L229.6,277.7 L229.7,277.4 L229.9,277.1 L230,276.7 L230.2,276.4 L230.4,276.1 L230.6,275.8 L230.7,275.5 L230.9,275.2 L231.1,274.9 L231.3,274.6 L231.5,274.3 L231.7,274 L231.9,273.7 L232.1,273.4 L232.3,273.2 L232.5,272.9 L232.7,272.7 L232.9,272.5 L233.1,272.3 L233.4,272.1 L233.6,271.9 L233.8,271.8 L234.1,271.7 L234.3,271.6 L234.5,271.6 L234.8,271.5 L235,271.6 L235.3,271.6 L235.5,271.7 L235.8,271.7 L236,271.8 L236.3,272 L236.5,272.1 L236.8,272.3 L237,272.5 L237.3,272.7 L237.5,272.9 L237.7,273.2 L237.9,273.4 L238.1,273.7 L238.3,273.9 L238.5,274.2 L238.7,274.5 L238.9,274.8 L239,275 L239.2,275.3 L239.3,275.6 L239.5,275.9 L239.6,276.3 L239.7,276.6 L239.8,276.9 L239.9,277.2 L240,277.6 L240.1,277.9 L240.2,278.2 L240.3,278.6 L240.4,278.9 L240.5,279.2 L240.6,279.6 L240.7,279.9 L240.7,280.3 L240.8,280.6 L240.9,280.9 L241,281.3 L241,281.6 L241.1,282 L241.2,282.3 L241.2,282.6 L241.3,283 L241.4,283.3 L241.5,283.6 L241.5,284 L241.6,284.3 L241.7,284.6 L241.8,285 L241.8,285.3 L241.9,285.6 L242,285.9 L242,286.3 L242.1,286.6 L242.2,286.9 L242.3,287.2 L242.3,287.5 L242.4,287.9 L242.5,288.2 L242.5,288.5 L242.6,288.8 L242.7,289.1 L242.8,289.4 L242.8,289.8 L242.9,290.1 L243,290.4 L243,290.7 L243.1,291 L243.2,291.3 L243.3,291.6 L243.3,291.9 L243.4,292.2 L243.5,292.5 L243.5,292.9 L243.6,293.2 L243.7,293.5 L243.7,293.8 L243.8,294.1 L243.9,294.4 L244,294.7 L244,295 L244.1,295.3 L244.2,295.6 L244.2,295.9 L244.3,296.2 L244.4,296.5 L244.4,296.8 L244.5,297.1 L244.6,297.4 L244.6,297.7 L244.7,298 L244.8,298.3 L244.8,298.6 L244.9,298.9 L245,299.2 L245,299.5 L245.1,299.8 L245.2,300.1 L245.2,300.4 L245.3,300.7 L245.4,301 L245.4,301.3 L245.5,301.7 L245.6,302 L245.6,302.3 L245.7,302.6 L245.7,302.9 L245.8,303.2 L245.9,303.5 L245.9,303.8 L246,304.1 L246.1,304.4 L246.1,304.7 L246.2,305 L246.2,305.3 L246.3,305.6 L246.4,305.9 L246.4,306.3 L246.5,306.6 L246.5,306.9 L246.6,307.2 L246.7,307.5 L246.7,307.8 L246.8,308.1 L246.8,308.5 L246.9,308.8 L247,309.1 L247,309.4 L247.1,309.7 L247.1,310 L247.2,310.4 L247.2,310.7 L247.3,311 L247.3,311.3 L247.4,311.7 L247.4,312 L247.5,312.3 L247.6,312.7 L247.6,313 L247.7,313.3 L247.7,313.6 L247.8,314 L247.8,314.3 L247.9,314.6 L247.9,315 L248,315.3 L248,315.7 L248.1,316 L248.1,316.3 L248.2,316.7 L248.2,317 L248.3,317.3 L248.3,317.7 L248.4,318 L248.5,318.4 L248.5,318.7 L248.6,319 L248.6,319.4 L248.7,319.7 L248.7,320.1 L248.8,320.4 L248.8,320.7 L248.9,321.1 L249,321.4 L249,321.8 L249.1,322.1 L249.1,322.4 L249.2,322.8 L249.3,323.1 L249.3,323.5 L249.4,323.8 L249.4,324.2 L249.5,324.5 L249.6,324.8 L249.6,325.2 L249.7,325.5 L249.8,325.8 L249.8,326.2 L249.9,326.5 L250,326.9 L250.1,327.2 L250.1,327.5 L250.2,327.9 L250.3,328.2 L250.4,328.5 L250.4,328.9 L250.5,329.2 L250.6,329.5 L250.7,329.8 L250.8,330.2 L250.9,330.5 L250.9,330.8 L251,331.1 L251.1,331.5 L251.2,331.8 L251.3,332.1 L251.4,332.4 L251.5,332.8 L251.6,333.1 L251.7,333.4 L251.8,333.7 L251.9,334 L252,334.3 L252.1,334.6 L252.2,334.9 L252.3,335.3 L252.5,335.6 L252.6,335.9 L252.7,336.2 L252.8,336.5 L252.9,336.8 L253.1,337.1 L253.2,337.4 L253.3,337.7 L253.4,337.9 L253.6,338.2 L253.7,338.5 L253.9,338.8 L254,339.1 L254.1,339.4 L254.3,339.7 L254.4,339.9 L254.6,340.2 L254.7,340.5 L254.9,340.7 L255,341 L255.2,341.3 L255.4,341.5 L255.5,341.8 L255.7,342.1 L255.9,342.3 L256,342.6 L256.2,342.8 L256.4,343.1 L256.6,343.3 L256.8,343.6 L257,343.8 L257.1,344 L257.3,344.3 L257.5,344.5 L257.7,344.7 L257.9,345 L258.1,345.2 L258.4,345.4 L258.6,345.6 L258.8,345.8 L259,346.1 L259.2,346.3 L259.5,346.5 L259.7,346.7 L259.9,346.9 L260.2,347.1 L260.4,347.3 L260.6,347.5 L260.9,347.6 L261.1,347.8 L261.4,348 L261.7,348.2 L261.9,348.3 L262.2,348.5 L262.4,348.7 L262.7,348.8 L263,349 L263.3,349.2 L263.6,349.3 L263.8,349.4 L264.1,349.6 L264.4,349.7 L264.7,349.9 L265,350 L265.3,350.1 L265.7,350.2 L266,350.4 L266.3,350.5 L266.6,350.6 L267,350.7 L267.3,350.8 L267.6,350.9 L268,351" fill="none" stroke="#ff0000" stroke-width="4.7" stroke-linejoin="round" stroke-linecap="round"/>
</g>
<line x1="73.2" y1="353.3" x2="73.2" y2="355.3" stroke="#686868" stroke-width="1.2"/>
<line x1="94.7" y1="353.3" x2="94.7" y2="356.3" stroke="#686868" stroke-width="1.2"/>
<line x1="116.2" y1="353.3" x2="116.2" y2="355.3" stroke="#686868" stroke-width="1.2"/>
<line x1="137.6" y1="353.3" x2="137.6" y2="356.3" stroke="#686868" stroke-width="1.2"/>
<line x1="159.1" y1="353.3" x2="159.1" y2="355.3" stroke="#686868" stroke-width="1.2"/>
<line x1="180.5" y1="353.3" x2="180.5" y2="356.3" stroke="#686868" stroke-width="1.2"/>
<line x1="201.9" y1="353.3" x2="201.9" y2="355.3" stroke="#686868" stroke-width="1.2"/>
<line x1="223.4" y1="353.3" x2="223.4" y2="356.3" stroke="#686868" stroke-width="1.2"/>
<line x1="244.9" y1="353.3" x2="244.9" y2="355.3" stroke="#686868" stroke-width="1.2"/>
<text transform="translate(95.10,366.70) scale(1.08,1)" font-size="10" text-anchor="middle">1.5</text>
<text transform="translate(138.00,366.70) scale(1.08,1)" font-size="10" text-anchor="middle">2.0</text>
<text transform="translate(180.90,366.70) scale(1.08,1)" font-size="10" text-anchor="middle">2.5</text>
<text transform="translate(223.80,366.70) scale(1.08,1)" font-size="10" text-anchor="middle">3.0</text>
<line x1="50" y1="336.9" x2="52" y2="336.9" stroke="#686868" stroke-width="1.2"/>
<line x1="266.9" y1="336.9" x2="265.9" y2="336.9" stroke="#686868" stroke-width="1.2"/>
<line x1="48.5" y1="320.2" x2="52" y2="320.2" stroke="#686868" stroke-width="1.2"/>
<line x1="266.9" y1="320.2" x2="265.4" y2="320.2" stroke="#686868" stroke-width="1.2"/>
<text transform="translate(46.40,323.80) scale(1.12,1)" font-size="10" text-anchor="end">200</text>
<line x1="50" y1="303.6" x2="52" y2="303.6" stroke="#686868" stroke-width="1.2"/>
<line x1="266.9" y1="303.6" x2="265.9" y2="303.6" stroke="#686868" stroke-width="1.2"/>
<line x1="48.5" y1="286.9" x2="52" y2="286.9" stroke="#686868" stroke-width="1.2"/>
<line x1="266.9" y1="286.9" x2="265.4" y2="286.9" stroke="#686868" stroke-width="1.2"/>
<text transform="translate(46.40,290.50) scale(1.12,1)" font-size="10" text-anchor="end">400</text>
<line x1="50" y1="270.2" x2="52" y2="270.2" stroke="#686868" stroke-width="1.2"/>
<line x1="266.9" y1="270.2" x2="265.9" y2="270.2" stroke="#686868" stroke-width="1.2"/>
<line x1="48.5" y1="253.6" x2="52" y2="253.6" stroke="#686868" stroke-width="1.2"/>
<line x1="266.9" y1="253.6" x2="265.4" y2="253.6" stroke="#686868" stroke-width="1.2"/>
<text transform="translate(46.40,257.20) scale(1.12,1)" font-size="10" text-anchor="end">600</text>
<line x1="50" y1="236.9" x2="52" y2="236.9" stroke="#686868" stroke-width="1.2"/>
<line x1="266.9" y1="236.9" x2="265.9" y2="236.9" stroke="#686868" stroke-width="1.2"/>
<line x1="48.5" y1="220.3" x2="52" y2="220.3" stroke="#686868" stroke-width="1.2"/>
<line x1="266.9" y1="220.3" x2="265.4" y2="220.3" stroke="#686868" stroke-width="1.2"/>
<text transform="translate(46.40,223.90) scale(1.12,1)" font-size="10" text-anchor="end">800</text>
<line x1="50" y1="203.7" x2="52" y2="203.7" stroke="#686868" stroke-width="1.2"/>
<line x1="266.9" y1="203.7" x2="265.9" y2="203.7" stroke="#686868" stroke-width="1.2"/>
<text transform="translate(58.50,220.00) scale(1.13,1)" font-size="10" text-anchor="start">Dy:ZnO</text>
<text transform="translate(113.60,384.40) scale(1.13,1)" font-size="10" text-anchor="start">Photon Energy (eV)</text>
<text transform="translate(17.8,268.2) scale(1.145,1) rotate(-90)" font-size="9.85" text-anchor="middle">PL Intensity</text>
<rect x="329.2" y="202.8" width="214.8" height="150.4" fill="none" stroke="#686868" stroke-width="1.4"/>
<clipPath id="cNdZnO"><rect x="329.2" y="199.8" width="214.8" height="154.9"/></clipPath>
<g clip-path="url(#cNdZnO)">
<polyline points="361.7,350.6 361.5,350.3 362.4,351.7 363.2,350.6 362.9,350.8 364.3,351.3 364.4,350.8 363.8,351.1 365.1,351.5 365.5,351.8 364.6,350.9 365.4,351.2 366.6,351.3 365.8,352.2 366.7,351.3 367,350.8 367.3,351.6 367.5,349.3 367.9,350.2 367.6,350.7 369.4,350 369.5,351.8 369.7,351.3 369.2,350.1 369.8,351.2 369.3,349.2 370.3,349.8 370.5,350.2 371.9,350.1 370.8,349.1 371,349.9 370.6,348.8 371,349.2 370.1,347.6 371.7,348 372.6,348.7 372.7,348.8 371.7,347.1 371.7,347.7 372.5,347 372.7,347.3 372.5,346.4 372.9,347.2 373.1,346.4 373,345.9 372,345.5 372.6,345.6 373.1,344.9 374,344.6 373.7,344.7 372.8,343.9 373.1,344.1 371.7,343.4 373.3,343.2 373.2,343.1 373.8,343.1 374.4,342.2 372.2,341.8 373.4,341.8 374,340.7 373.5,340.8 372.7,341.8 373.2,340.4 373.7,340.1 373.3,339.5 372.5,339.4 373.7,338.8 374.4,339 373.6,338.4 374.2,338.2 372,337.6 375.1,337.8 375.7,338 376.1,337 373.8,336.6 376.3,337.4 375.9,335.3 376,336.2 374.2,335.1 375.2,335.6 374.1,334.7 376.4,335.4 375.9,334 375.2,334.8 375.8,333.6 376.2,334 376.7,333.5 375.6,333.1 375.8,332.4 376.5,332.6 375.4,331.9 377.7,332.2 376.4,331.3 376.4,330.5 378.1,330.8 376.2,330.1 377.6,330.7 377,329.9 378.6,330.5 379.4,329.6 377.7,329.7 377.9,328.9 376.5,327.8 379.3,329.4 377.4,327.8 376.8,327.4 377.9,328.3 378.3,327 377.8,327 378.3,326.6 379.4,327.1 378.5,325.7 376.2,324.8 379.4,325.4 379.7,325.2 381.7,325.6 378.1,323.9 380.9,325.4 380.8,324.2 380.4,324.1 379,323.2 380.3,324.5 379.4,321.8 379.9,322.9 379.8,322.1 384.1,324.5 383.3,323.6 382.6,322.3 383.2,322.6 381.1,321.7 381.2,321 382.6,321.9 381.6,320.5 382.1,320.1 380.1,318.6 382.4,319 383.3,319.2 381.5,319.2 380.7,317.5 384.4,319.5 382.9,318 380,316.7 382.8,317.6 384.1,317.9 385.1,317.3 383.7,316.8 383.3,316.9 384.3,316.7 386,316.5 384.4,315.5 385.5,316 385,315.1 385,314.8 386.3,315.3 384.9,314 386,314.4 385.9,314 385.8,313.9 386.7,313.9 387.2,315 386.4,313.2 386.3,312.3 386.1,312.2 386.2,312.6 386,311.8 388.3,312.1 388,312.2 387.6,311.7 386.3,310.6 388.1,310.3 387.9,309.3 386.7,309.2 390,310.5 386.8,308.3 387.8,308.6 388.8,308.9 388.2,308.4 386.9,307.8 387.1,307.5 390.5,308.7 390.4,308.3 388.7,306.5 388,307.5 387.8,306.3 389.4,305.8 388.6,304.9 389.8,306.3 391.8,305.6 390.8,305.6 391,305.8 388.5,303.5 390.4,304.3 391.8,304.8 391.8,304 389,303.3 393.7,304.1 387.9,302.5 388.5,301.8 390.7,303.1 391.6,303 390.9,300.9 391.2,301.9 392.7,301.8 391.8,300.6 391.8,300.8 393.5,301.4 391.8,300.3 392.5,299.9 389.7,299.4 391.4,298.8 393.1,299.9 394.5,299.3 392.5,298.4 391.8,297.6 390.9,296.8 392.9,297.6 394.2,298.2 392.9,297.5 391,296.5 390.5,296.1 393.6,295.8 392.8,295.2 394.8,295.6 394.2,295.2 395.6,295.8 394.1,294.6 395.2,295.1 396.5,295 391.3,293.4 396.8,294.7 395.7,293.8 393.8,292.4 395,292.5 394.4,292 392.7,291.2 397,292 394.8,292.3 393.8,290.9 396.4,291.9 393.9,290.1 393.8,289.8 391.7,289.3 394.8,289.4 392.6,288.1 396.1,288.7 396.3,288.5 397.5,289.6 393.8,287.4 395.8,288.5 396.3,287.8 394.4,286.7 398.6,287.9 397.4,287.2 397.9,286.3 394.1,285.4 397.1,286.3 396.4,284.4 394.8,284.3 394.4,284.3 397.2,284.4 398.4,284.2 397.3,284.5 395.2,283.1 397.4,282.8 394.6,282.3 395,282.4 394.9,281.4 397.3,281.4 396.4,282.1 397,280.8 396.2,279.9 398,281.5 400.1,281.7 398.8,280.5 395.4,279 400.1,280.5 398.1,278.9 396.4,277.9 398,278.8 398.3,277.8 399.6,277.8 399.1,277.6 401.7,278.5 399.3,277.6 399.1,276.8 400.3,277.8 399.3,275.9 399.5,276.1 400,276.8 400.8,276.3 400.1,276.3 402.3,276.4 403,277 398.8,273.3 401.8,274.8 402.7,275 401.9,274.6 401.8,273.2 401.5,273.7 401.8,273.1 402.9,273.1 402.1,271.7 403.8,271.8 401.8,270.7 401.2,269.4 401.6,269.3 404.2,271.4 402.5,269.4 402.5,269 405.1,271.4 405.2,271.6 402.4,267.4 402.9,268.6 404,268.7 404.6,268.2 403.7,267.7 404.4,267 405.2,268.4 407.3,270.2 408.6,269.7 408.4,269.9 406.3,267.4 406.8,266.4 408.1,267.5 406.1,265.7 406.4,265.5 407.9,265.9 408.3,266.5 407.8,265 410.2,266.5 408.5,265.2 406.8,264 410,266.3 409.2,264.4 411.6,265.9 411.3,265.5 407.2,261.5 410.2,263.5 408.5,263.5 411.6,263.9 409.4,262.8 410.1,262.2 411,262.7 408.4,260.2 409.5,261.8 412,261.9 411.1,261.4 413.1,262.1 411.6,261.8 408.1,258.5 414.5,262.8 413.1,261.1 413.6,261 410.1,258.9 411.2,258.4 414.3,260.9 412,258.1 412.1,258 414.4,259 415.2,259.1 412.3,257.1 411.8,256.5 412.2,256.6 411.3,255.9 411.7,256.1 416.1,257.7 414.4,256.8 415.9,256.7 414.1,255.4 415.5,256 416.4,256.6 413.9,254.3 415.2,254.5 416.8,254.9 415.6,254.6 417.3,254.5 417.5,254.2 413.3,253.2 415.9,253.9 416.9,253.5 416.8,252.9 415.4,252.9 418.3,253.8 419,253 417.1,251.9 420.3,253.3 420.7,253.1 418.4,251.3 416.7,250 418,250.5 419.7,250.2 417.4,250.1 418.1,249.1 419.5,249.5 419,248.8 418.2,249 418.5,247.9 421.6,250.1 418,247.9 421.9,249.1 419.9,247.8 420,247.3 420.6,248 420,246.8 420.1,246.3 420.8,247 419.6,244.6 419.5,244.8 419.4,244.5 422.6,246.3 420.4,244.5 422.6,244.3 419.7,242.2 424.1,244.4 422.7,243.1 421.8,242.1 422,242.4 425.8,242.3 423.4,241.2 422.3,240.1 422.8,239.7 424.5,240.3 422,239.2 424.6,239.9 421.2,237.5 422.1,237.4 423.5,237.2 423.6,237.2 425.4,236.7 422.2,234.9 425.6,236.6 421.8,234 425,235.2 425.8,235.7 424.3,234 426,234.8 427.9,236 424.9,232.5 429.1,236.1 423.7,231.9 428.2,234.2 427.9,234.1 428.4,233.5 427.1,232 429.7,234.2 426.7,230.9 428.1,231.1 426.4,229.1 429.7,231 428.4,229.3 428.3,228.3 426.1,226.9 431.2,230.3 431,230 428.6,227.5 432.9,231.3 431.5,230.1 430.6,226.8 431.6,227 432.7,227.5 432.4,226.8 433,228.7 432.5,227.9 433.1,226.8 433.7,225.4 433,231.2 435.1,226.7 432.4,230.8 436.1,228.5 435.1,229.9 433.7,231.6 437,228.3 438.6,228.1 435.3,230.8 438.3,229.4 436,231.6 437,231.1 440.5,231 437.9,232.6 437.7,232.5 438.9,232.5 436.1,234.9 439.6,233.4 440.9,233.7 441.5,234.1 439.1,235.9 441.1,234.8 439.5,236.6 440.9,236 440.4,236.2 438.7,238.4 443.9,234.5 441.2,236.8 442.2,237 442.1,237.4 440.3,238.9 441.2,238.7 440.9,240 442.8,238.9 443.1,240 441.4,241.3 440.3,242.8 445,240.9 447.1,239.4 445.4,241 441.1,244 446.1,241.8 445,241.9 443.1,242.2 445.4,242.8 444.5,244.6 445,243 447.2,242.9 443.5,245.5 447.9,243.4 446.9,245.2 442.8,248.2 445.6,247.2 446.2,247.2 450,243.7 444.7,247.8 449.1,246.8 447.6,247.4 448.6,246.6 446.5,248.6 450,246.7 448.9,247.6 445.9,249.9 448.5,249 446.8,249.8 449.9,248.3 447.2,250.1 449.1,250.6 448,250.6 448.3,251.1 448.1,251.1 450.1,251.7 449.6,251.2 451.9,251 450.3,251.9 450.3,251.7 449.7,252.8 449.5,253.4 455.2,251.1 449.4,253.4 450.4,253.7 452.2,253.6 450.2,254.7 454.5,254 451.6,255.4 450.1,255 448.2,256.9 451.6,255.6 449.3,257.3 450.1,256.5 452.7,256.6 449.1,258.6 450.2,257.7 450,258.2 454.5,257.2 453,257.8 454.2,258.6 453.6,259.3 452.2,258.5 449.4,260.1 453.6,259.6 452.7,260.2 451.5,260.7 451.2,261.2 453.9,261.5 455.2,260.8 451.6,261.8 449,263.3 454.4,262.2 452.9,263 454.8,263.1 450.1,264.9 451.7,264.4 450.9,264.9 458.4,263.5 453.3,265.1 453,264.9 452.3,265.3 453.5,265.1 455.7,265.4 451,266.2 453.3,266.2 456.4,265.7 453.6,266.9 453.4,267.6 454.8,267.1 452.7,268.2 453.7,268 450.7,269.2 453.1,269.2 452.7,269.3 453.4,268.8 454.2,269.8 454,270.1 456.9,269 452.3,270.7 452.7,271 451.8,271.6 455.4,271.1 455.9,271.9 456.2,271.9 450.8,273.1 449.7,273 455.8,271.7 456.1,272.9 456.3,274 454.7,273.6 456.1,273.5 455.1,274.5 457.1,273.8 455.7,275.8 455,276.3 457,274.8 456.4,276 454,276.6 452,278.1 456.5,276.7 457.4,277.5 455.4,277.6 456.9,277.6 459.3,277.8 456.2,278.2 451.7,279.3 460.2,278.1 458.3,278.1 453.8,280.6 458.2,278.9 453.1,280.6 456.3,279.6 459.5,279.6 457.2,281.3 456.4,281.5 456,282.7 458.9,281.4 455.8,282.6 452.5,283.6 456.1,283.7 457.8,282.6 454.5,284.5 458,283.9 457.4,284.2 457.7,285.1 457.3,284.3 459.3,284.8 457.2,286 458.7,284.9 456.4,287 459.5,285.1 456.1,287.9 463.3,285.4 458,286.9 460.1,287.3 459.1,287.2 455.7,288.3 456.2,288.2 459.5,288 462.3,287.9 459.3,289.7 460.7,288.5 459.2,289.3 458.4,290.2 458.6,290.3 459.2,290.6 462,289.6 459.2,291.5 460.1,290.7 459.5,291.7 459,292.7 460.8,291.6 462.5,291.6 460.6,292.7 462.3,292.5 459.6,293.9 460.7,293.5 460.7,294.5 461.8,294.9 460.5,295.2 463.3,293.5 462,295.2 464.8,293.5 461.7,295.7 463.2,294.9 463.7,295.4 462.2,295.8 463.3,295.1 460.7,297 462.1,297.3 462.2,297.4 463.9,296.2 460.8,299.4 465.4,297.1 461.2,298.9 464.7,298.2 463.7,298.4 460.2,301.9 467.2,298 465.3,299.4 464.2,300.1 464.6,299.9 465.1,299.7 465.3,301.5 467.3,299.3 466.8,300.6 467.1,300.7 465.6,302.5 467.2,300.6 466.1,302.2 464.8,303.7 465.5,302.5 469.5,301.1 466.7,303.6 465.5,304.3 469.5,302 465.1,306 468.6,303.2 467.2,305.7 468.9,303.5 467.4,305.5 467.7,305.2 468,305.5 469.7,305.2 468.2,306.6 468.7,307.2 470.1,306.3 467,309.4 469.5,307.1 468.4,309.3 472.1,306 470,307.8 471.6,307.3 470.2,309.5 471.7,308.1 471,308.8 470.3,309.8 471.2,310.2 471.1,311.1 473.2,308.4 470.9,310.4 473.7,309.5 474.6,308.7 473.3,310.2 472,312.5 473,311.5 472.9,312.4 471.7,313.2 475.3,310.6 473.4,313.1 475.1,311.8 476,311.1 475,313.5 475.3,312.6 476.3,312.1 475.7,311 474.7,314.8 475.8,314.2 477.5,311.1 476.1,314.7 477.2,311.9 478.1,312.1 477.4,312.1 477.4,312.5 477.4,313.9 477.2,314.7 477.5,313.2 477.9,314.2 477.4,315.1 478.8,312.2 478.4,313 478.7,311.5 479.8,314.9 479.1,313 478.9,312.4 480.2,312.6 481.5,315 479.6,311.6 481.4,313.9 480.9,312.3 481,312.7 482.6,314.3 481.3,310.5 481.4,310.8 482.5,312.3 481.9,311.4 482.6,310.6 483.8,311.4 482,310.5 483.8,311 486,312.7 483.4,309 484.9,309.7 484.6,309.6 484.7,308.7 486.8,310.9 485.4,308.4 485.3,308.7 486.4,309.4 486.7,309 485.9,308.4 485.8,307.4 487.4,307.9 486.6,307.1 488.2,307.8 486.4,307 488.2,306.9 486.8,305.9 487.8,306.3 490.7,308.4 486.8,304.9 488.8,305.5 488.9,305.1 489,305.5 489.9,305.9 490.5,306.5 489.3,304.9 489.7,304.4 490.4,304.3 490.5,304.8 490.7,304.1 489.5,302.1 491.8,305.1 492.5,304.1 493.4,304.3 492.1,302.6 491.2,302.5 492.3,302.5 490.7,301.1 492.9,302.2 493.4,302 492.4,300.7 494,301.4 490.2,298 493,300.5 495.1,301.4 491.4,298.2 493.2,299.5 495.7,299.7 494.8,299.1 494.2,299.1 495.4,299.5 494.3,298.5 494.8,298.5 495.7,299 491.9,296.2 494.2,297.5 496.7,297.8 497.4,298 494.1,295.8 495.4,295.6 498.4,298.1 497,296.1 496.7,296.6 498.2,296.6 496.9,295.1 498.4,295.8 497.1,295.2 499.3,294.8 496.8,294 497,293.9 496.2,292.3 500.5,295.4 498.6,293.4 500,293.6 498.8,292.2 498.9,291.9 497.3,291 499.1,291.5 498.8,291.4 497.2,289.3 498.9,291.3 501,291.9 501,292.1 499.7,289.8 501.1,290.7 499.6,288.8 498.7,288.4 501.6,289.5 499.1,287.8 501.6,289.3 500.6,287.4 503,288.8 501.3,287.1 502.6,288.3 501.8,287 503.7,287.8 501.9,286.7 502.6,286.1 503,286.5 504.3,287.1 503.9,286.9 502.6,284.9 503.4,285.2 502.1,284.8 502.3,283.9 505.1,285.6 505.4,285.1 503.7,283.8 503.9,283.4 505.4,283.1 505.4,283.9 505.5,282.8 506,283.1 505,282.2 506,282.4 505.5,281.5 506.1,281.2 506.6,281.5 505.4,280.2 506.9,281.1 507,280.5 508.8,280.5 506.9,279.1 507.8,279.1 508.1,279.1 509.2,279.8 508,279.6 509.7,279.7 506.5,276.9 511.1,279.4 510.4,278.5 510.1,277.1 510.1,277.1 510.2,277.3 510.3,277 510.4,274.9 511,276.6 511.9,276.2 512.2,275.6 512.9,278.8 514,275.1 514.2,277 515.1,275.6 514.2,277.2 515.9,275.9 514.2,278.6 515.2,277.7 515.7,277.8 515,278.8 515.8,278.6 515.8,278.9 515.8,278.8 517.7,278.9 516.3,280 518.1,279.3 514.8,281.5 514,282 517.8,279.9 514.8,282.3 517.5,282.2 516.6,282.1 516.1,283.7 517.1,282.8 518.5,282.3 516.4,283.5 517.6,283.8 518.8,283 517.2,283.7 518.4,285.1 518.6,284.3 520.1,284.3 520,285.2 517.1,286.1 518.6,286.4 518.7,286.2 516.5,287.2 518.1,286.6 519.2,286.8 519.6,287.5 519.8,287.4 519.7,287.3 519,288.1 521.7,287.2 519.4,289.1 519.4,289.5 518.7,290.2 520,288.7 518.3,290 519.9,290.2 520.8,290.6 521.2,290.8 519.4,290.8 519.2,292 519.4,291.6 519.8,292.5 519.3,292.7 521.9,292.7 519,293.5 520.7,294.3 520.8,293 520.6,294 520.9,294.5 521,294.5 525.6,293.8 522.6,294.7 519,296.7 521.3,296 520.2,296.3 523.1,295.5 524.3,296.3 522.5,296.6 523,296.1 523.5,296.3 521.8,298.4 522.5,297.2 520.3,298.2 521.8,298.4 523.6,298.5 524.8,299.3 521.3,300.3 524.2,299 522.3,299.9 521.6,300.7 523.2,300.3 521.1,301.7 524.7,301.5 521.4,301.8 522.7,301.8 524.4,301.7 522.9,302.8 523.4,303 523.2,303.4 523.8,303.4 524.2,303.8 524.4,304.1 524.2,304.5 522.6,304.7 523.3,304.8 523.2,305.2 523,305.9 527.5,306.1 523.9,306.3 523.7,306.5 524.7,306.9 524.5,307.5 523.7,307.9 524.3,307.4 525.7,307.5 525.2,308 523.6,309.3 524.9,309 523.4,308.8 524,309.7 525.6,309.8 525.8,309.9 525.8,310.7 524.5,311.3 526.6,310.3 523.3,311.5 524.2,311.6 525,311.6 527.1,312.1 525.3,312.7 524.5,313.3 525.1,313.6 526.1,313.2 523.3,314.2 525.5,313.5 526,314.6 524,315.3 526.6,315 526.2,315.7 527.1,316.1 524.9,316.3 525.8,316.1 526.1,317 526.2,316.4 525.1,316.7 526.2,317.8 527.1,318.3 525.2,318.6 526.5,319 527.6,318.7 524.9,320 526.1,319 526.7,319.6 526.8,320.7 526.6,320.3 527.2,320.7 527.1,321.6 527.2,321.7 527,321.9 525.9,322.2 528.4,322.7 526.2,323.3 528.2,322.5 528.2,323.4 529,324 527.7,324.1 526.8,324.7 527.8,324.5 528.1,325.2 529,325.2 529.8,324.4 528,325.8 527.8,326.1 526.9,326.8 529.7,326.1 528.6,327.2 528.5,326.9 528.4,328.2 528,327.7 530.9,327.5 527.7,328.2 528.2,328.6 529.3,329.4 530.1,328.9 530.1,329.2 527.2,331.2 528.8,330.2 530.8,330.1 531,330.8 530.8,330.7 532,330.1 531.5,331.9 530.2,331.8 531.6,332.2 531.1,332 530.7,332.1 532.2,332.9 531,333.6 531,333.7 531.5,333.6 534.1,332.6 532.4,333.5 532,334.4 531.4,335.5 533,335.2 532.4,334.8 533.2,335.3 533.6,334.1 532.6,336.3 533.5,335.4 534,336.1 532,338.8 531.4,338 532.9,338 533.3,337.9 533.3,338.4 535,338.2 532.9,339 533.8,338.8 534.6,339.1 534.1,339.2 536.1,338.9 536.9,339 535.1,340.6 535.9,339.5 535.9,339.6 535,341 534.9,341.4 536,340.5 535.4,340.9 535.8,342 536.4,341.9 536.5,341.9 536.7,343.4 537.6,342.5 536.9,342.5 537.9,342.2 538.3,342.9 538.9,342.6 538.1,342.4 539.5,343.3 539.5,343.4 539.7,343.4 539.3,343 538.7,345.4 540.4,343.8 539.9,344.4 540.1,345.3 541.1,344.6 541.3,345.2 541.3,345.7 541.6,346 541.8,344.4 541.9,344.9 543.4,344.5 542.7,345.7 542.7,345.8 542.7,346.8 543.9,345.5 544.4,345.7 543.8,345.9 543.8,347.2 543.3,348 545.4,347 545.8,345.4 545.9,346.4 545.9,347.9 546.3,347.4" fill="none" stroke="none" marker-start="url(#m3)" marker-mid="url(#m3)" marker-end="url(#m3)"/>
<path d="M493.8,351.7 L494.5,351.6 L495.1,351.4 L495.8,351.3 L496.5,351.1 L497.2,350.8 L497.9,350.4 L498.6,350 L499.3,349.4 L500,348.8 L500.7,348 L501.4,347 L502.1,345.9 L502.7,344.7 L503.4,343.3 L504.1,341.7 L504.8,340 L505.5,338.2 L506.2,336.3 L506.9,334.2 L507.6,332.2 L508.3,330.1 L509,328 L509.7,326 L510.3,324.1 L511,322.4 L511.7,320.8 L512.4,319.5 L513.1,318.5 L513.8,317.7 L514.5,317.3 L515.2,317.1 L515.9,317.3 L516.6,317.8 L517.3,318.6 L518,319.7 L518.6,321.1 L519.3,322.7 L520,324.4 L520.7,326.3 L521.4,328.3 L522.1,330.3 L522.8,332.3 L523.5,334.2 L524.2,336.1 L524.9,337.9 L525.6,339.6 L526.2,341.2 L526.9,342.7 L527.6,344 L528.3,345.2 L529,346.2 L529.7,347.1 L530.4,347.9 L531.1,348.6 L531.8,349.2 L532.5,349.7 L533.2,350.1 L533.8,350.5 L534.5,350.8 L535.2,351 L535.9,351.2 L536.6,351.3 L537.3,351.5 L538,351.6 L538.7,351.6" fill="none" stroke="#aa7ae0" stroke-width="3.5" stroke-linejoin="round"/>
<path d="M386.6,351.1 L387.3,350.9 L388,350.8 L388.7,350.5 L389.4,350.3 L390.1,350 L390.8,349.7 L391.5,349.3 L392.2,348.9 L392.8,348.4 L393.5,347.8 L394.2,347.2 L394.9,346.6 L395.6,345.8 L396.3,345 L397,344.1 L397.7,343.1 L398.4,342 L399.1,340.9 L399.8,339.6 L400.4,338.2 L401.1,336.8 L401.8,335.2 L402.5,333.6 L403.2,331.8 L403.9,330 L404.6,328 L405.3,326 L406,323.8 L406.7,321.6 L407.4,319.3 L408.1,316.9 L408.7,314.4 L409.4,311.9 L410.1,309.3 L410.8,306.6 L411.5,303.9 L412.2,301.1 L412.9,298.3 L413.6,295.5 L414.3,292.6 L415,289.8 L415.7,286.9 L416.3,284.1 L417,281.2 L417.7,278.4 L418.4,275.7 L419.1,272.9 L419.8,270.3 L420.5,267.7 L421.2,265.2 L421.9,262.7 L422.6,260.4 L423.3,258.1 L423.9,255.9 L424.6,253.9 L425.3,251.9 L426,250.1 L426.7,248.4 L427.4,246.8 L428.1,245.4 L428.8,244.1 L429.5,242.9 L430.2,241.8 L430.9,240.9 L431.6,240.1 L432.2,239.5 L432.9,239 L433.6,238.6 L434.3,238.3 L435,238.2 L435.7,238.2 L436.4,238.4 L437.1,238.6 L437.8,239 L438.5,239.5 L439.2,240.1 L439.8,240.9 L440.5,241.7 L441.2,242.6 L441.9,243.6 L442.6,244.7 L443.3,245.9 L444,247.1 L444.7,248.5 L445.4,249.9 L446.1,251.3 L446.8,252.8 L447.4,254.4 L448.1,256 L448.8,257.7 L449.5,259.4 L450.2,261.2 L450.9,262.9 L451.6,264.7 L452.3,266.5 L453,268.4 L453.7,270.2 L454.4,272.1 L455.1,273.9 L455.7,275.8 L456.4,277.6 L457.1,279.5 L457.8,281.4 L458.5,283.2 L459.2,285 L459.9,286.8 L460.6,288.6 L461.3,290.4 L462,292.2 L462.7,293.9 L463.3,295.6 L464,297.3 L464.7,299 L465.4,300.6 L466.1,302.2 L466.8,303.8 L467.5,305.3 L468.2,306.8 L468.9,308.3 L469.6,309.8 L470.3,311.2 L471,312.5 L471.6,313.9 L472.3,315.2 L473,316.5 L473.7,317.7 L474.4,318.9 L475.1,320.1 L475.8,321.3 L476.5,322.4 L477.2,323.5 L477.9,324.5 L478.6,325.5 L479.2,326.5 L479.9,327.5 L480.6,328.4 L481.3,329.3 L482,330.2 L482.7,331 L483.4,331.8 L484.1,332.6 L484.8,333.4 L485.5,334.1 L486.2,334.8 L486.8,335.5 L487.5,336.2 L488.2,336.8 L488.9,337.4 L489.6,338 L490.3,338.6 L491,339.1 L491.7,339.6 L492.4,340.2 L493.1,340.6 L493.8,341.1 L494.5,341.6 L495.1,342 L495.8,342.4 L496.5,342.8 L497.2,343.2 L497.9,343.6 L498.6,343.9 L499.3,344.3 L500,344.6 L500.7,344.9 L501.4,345.2 L502.1,345.5 L502.7,345.8 L503.4,346 L504.1,346.3 L504.8,346.5 L505.5,346.8 L506.2,347 L506.9,347.2 L507.6,347.4 L508.3,347.6 L509,347.8 L509.7,348 L510.3,348.2 L511,348.3 L511.7,348.5 L512.4,348.6 L513.1,348.8 L513.8,348.9 L514.5,349 L515.2,349.2 L515.9,349.3 L516.6,349.4 L517.3,349.5 L518,349.6 L518.6,349.7 L519.3,349.8 L520,349.9 L520.7,350 L521.4,350.1 L522.1,350.2 L522.8,350.3 L523.5,350.3 L524.2,350.4 L524.9,350.5 L525.6,350.5 L526.2,350.6 L526.9,350.7 L527.6,350.7 L528.3,350.8 L529,350.8 L529.7,350.9 L530.4,350.9 L531.1,351 L531.8,351 L532.5,351 L533.2,351.1 L533.8,351.1 L534.5,351.1 L535.2,351.2 L535.9,351.2" fill="none" stroke="#27ab5c" stroke-width="3.6" stroke-linejoin="round"/>
<path d="M370.7,351.8 L371.4,351.7 L372.1,351.4 L372.8,351 L373.5,350.4 L374.2,349.5 L374.9,348.3 L375.6,346.6 L376.3,344.6 L376.9,342.2 L377.6,339.8 L378.3,337.3 L379,335.2 L379.7,333.6 L380.4,332.6 L381.1,332.4 L381.8,332.7 L382.5,333.4 L383.2,334.4 L383.9,335.7 L384.6,337.1 L385.2,338.7 L385.9,340.3 L386.6,341.9 L387.3,343.4 L388,344.8 L388.7,346 L389.4,347.1 L390.1,348.1 L390.8,348.9 L391.5,349.6 L392.2,350.1 L392.8,350.5 L393.5,350.9 L394.2,351.2 L394.9,351.4 L395.6,351.5 L396.3,351.6 L397,351.7 L397.7,351.8" fill="none" stroke="#d49a10" stroke-width="3.4" stroke-linejoin="round"/>
<path d="M362.4,351.9 L363.1,351.9 L363.8,351.9 L364.5,351.9 L365.2,351.9 L365.9,351.9 L366.6,351.9 L367.3,351.9 L368,351.9 L368.7,351.9 L369.3,351.9 L370,351.9 L370.7,351.9 L371.4,351.9 L372.1,351.9 L372.8,351.9 L373.5,351.9 L374.2,351.9 L374.9,351.9 L375.6,351.9 L376.3,351.9 L376.9,351.9 L377.6,351.9 L378.3,351.9 L379,351.9 L379.7,351.9 L380.4,351.9 L381.1,351.9 L381.8,351.9 L382.5,351.9 L383.2,351.9 L383.9,351.9 L384.6,351.9 L385.2,351.9 L385.9,351.9 L386.6,351.9 L387.3,351.9 L388,351.9 L388.7,351.9 L389.4,351.9 L390.1,351.9 L390.8,351.9 L391.5,351.9 L392.2,351.9 L392.8,351.9 L393.5,351.9 L394.2,351.9 L394.9,351.9 L395.6,351.9 L396.3,351.9 L397,351.9 L397.7,351.9 L398.4,351.9 L399.1,351.9 L399.8,351.9 L400.4,351.9 L401.1,351.9 L401.8,351.9 L402.5,351.9 L403.2,351.9 L403.9,351.9 L404.6,351.9 L405.3,351.9 L406,351.9 L406.7,351.9 L407.4,351.9 L408.1,351.9 L408.7,351.9 L409.4,351.9 L410.1,351.9 L410.8,351.9 L411.5,351.9 L412.2,351.9 L412.9,351.9 L413.6,351.9 L414.3,351.9 L415,351.9 L415.7,351.9 L416.3,351.9 L417,351.9 L417.7,351.9 L418.4,351.9 L419.1,351.9 L419.8,351.9 L420.5,351.9 L421.2,351.9 L421.9,351.9 L422.6,351.9 L423.3,351.9 L423.9,351.9 L424.6,351.9 L425.3,351.9 L426,351.9 L426.7,351.9 L427.4,351.9 L428.1,351.9 L428.8,351.9 L429.5,351.9 L430.2,351.9 L430.9,351.9 L431.6,351.9 L432.2,351.9 L432.9,351.9 L433.6,351.9 L434.3,351.9 L435,351.9 L435.7,351.9 L436.4,351.9 L437.1,351.9 L437.8,351.9 L438.5,351.9 L439.2,351.9 L439.8,351.9 L440.5,351.9 L441.2,351.9 L441.9,351.9 L442.6,351.9 L443.3,351.9 L444,351.9 L444.7,351.9 L445.4,351.9 L446.1,351.9 L446.8,351.9 L447.4,351.9 L448.1,351.9 L448.8,351.9 L449.5,351.9 L450.2,351.9 L450.9,351.9 L451.6,351.9 L452.3,351.9 L453,351.9 L453.7,351.9 L454.4,351.9 L455.1,351.9 L455.7,351.9 L456.4,351.9 L457.1,351.9 L457.8,351.9 L458.5,351.9 L459.2,351.8 L459.9,351.8 L460.6,351.8 L461.3,351.8 L462,351.7 L462.7,351.7 L463.3,351.6 L464,351.6 L464.7,351.5 L465.4,351.4 L466.1,351.3 L466.8,351.2 L467.5,351.1 L468.2,350.9 L468.9,350.7 L469.6,350.5 L470.3,350.2 L471,349.9 L471.6,349.5 L472.3,349.1 L473,348.7 L473.7,348.2 L474.4,347.7 L475.1,347.1 L475.8,346.4 L476.5,345.6 L477.2,344.8 L477.9,344 L478.6,343 L479.2,342 L479.9,340.9 L480.6,339.7 L481.3,338.5 L482,337.2 L482.7,335.8 L483.4,334.4 L484.1,332.9 L484.8,331.3 L485.5,329.7 L486.2,328.1 L486.8,326.4 L487.5,324.8 L488.2,323.1 L488.9,321.4 L489.6,319.7 L490.3,318 L491,316.3 L491.7,314.7 L492.4,313.1 L493.1,311.6 L493.8,310.1 L494.5,308.7 L495.1,307.4 L495.8,306.1 L496.5,305 L497.2,304 L497.9,303.1 L498.6,302.2 L499.3,301.6 L500,301 L500.7,300.5 L501.4,300.2 L502.1,300 L502.7,299.9 L503.4,300 L504.1,300.1 L504.8,300.4 L505.5,300.8 L506.2,301.2 L506.9,301.8 L507.6,302.5 L508.3,303.2 L509,304.1 L509.7,305 L510.3,306 L511,307 L511.7,308.1 L512.4,309.3 L513.1,310.5 L513.8,311.7 L514.5,313 L515.2,314.3 L515.9,315.6 L516.6,316.9 L517.3,318.2 L518,319.5 L518.6,320.8 L519.3,322.2 L520,323.5 L520.7,324.7 L521.4,326 L522.1,327.2 L522.8,328.5 L523.5,329.6 L524.2,330.8 L524.9,331.9 L525.6,333 L526.2,334.1 L526.9,335.1 L527.6,336 L528.3,337 L529,337.9 L529.7,338.8 L530.4,339.6 L531.1,340.4 L531.8,341.1 L532.5,341.8 L533.2,342.5 L533.8,343.1 L534.5,343.7 L535.2,344.3 L535.9,344.8 L536.6,345.3 L537.3,345.8 L538,346.3 L538.7,346.7 L539.4,347.1 L540.1,347.5 L540.8,347.8 L541.5,348.1 L542.1,348.4 L542.8,348.7 L543.5,348.9 L544.2,349.2 L544.9,349.4 L545.6,349.6" fill="none" stroke="#1fc6c8" stroke-width="3.5" stroke-linejoin="round"/>
<path d="M368,351.4 L368.7,351.3 L369.3,351.2 L370,351 L370.7,350.7 L371.4,350.4 L372.1,350.1 L372.8,349.7 L373.5,349.2 L374.2,348.7 L374.9,348.1 L375.6,347.4 L376.3,346.6 L376.9,345.7 L377.6,344.7 L378.3,343.6 L379,342.4 L379.7,341.1 L380.4,339.7 L381.1,338.1 L381.8,336.5 L382.5,334.8 L383.2,333 L383.9,331 L384.6,329.1 L385.2,327 L385.9,324.9 L386.6,322.8 L387.3,320.6 L388,318.4 L388.7,316.2 L389.4,314 L390.1,311.9 L390.8,309.8 L391.5,307.8 L392.2,305.8 L392.8,304 L393.5,302.2 L394.2,300.6 L394.9,299.1 L395.6,297.7 L396.3,296.5 L397,295.4 L397.7,294.5 L398.4,293.7 L399.1,293.1 L399.8,292.7 L400.4,292.4 L401.1,292.3 L401.8,292.3 L402.5,292.6 L403.2,293 L403.9,293.7 L404.6,294.5 L405.3,295.5 L406,296.6 L406.7,297.9 L407.4,299.3 L408.1,300.8 L408.7,302.3 L409.4,304 L410.1,305.7 L410.8,307.5 L411.5,309.3 L412.2,311.2 L412.9,313 L413.6,314.9 L414.3,316.7 L415,318.5 L415.7,320.3 L416.3,322.1 L417,323.8 L417.7,325.4 L418.4,327.1 L419.1,328.6 L419.8,330.1 L420.5,331.5 L421.2,332.9 L421.9,334.2 L422.6,335.5 L423.3,336.7 L423.9,337.8 L424.6,338.8 L425.3,339.8 L426,340.8 L426.7,341.6 L427.4,342.5 L428.1,343.2 L428.8,343.9 L429.5,344.6 L430.2,345.2 L430.9,345.8 L431.6,346.3 L432.2,346.8 L432.9,347.2 L433.6,347.7 L434.3,348 L435,348.4 L435.7,348.7 L436.4,349 L437.1,349.3 L437.8,349.5 L438.5,349.8 L439.2,350 L439.8,350.1 L440.5,350.3 L441.2,350.5 L441.9,350.6 L442.6,350.7 L443.3,350.9 L444,351 L444.7,351.1 L445.4,351.1 L446.1,351.2 L446.8,351.3 L447.4,351.3 L448.1,351.4 L448.8,351.5 L449.5,351.5" fill="none" stroke="#7a4448" stroke-width="3.6" stroke-linejoin="round"/>
<path d="M362.4,350.2 L363.1,350.1 L363.8,350.1 L364.5,350 L365.2,349.9 L365.9,349.9 L366.6,349.8 L367.3,349.7 L368,349.6 L368.7,349.6 L369.3,349.5 L370,349.4 L370.7,349.3 L371.4,349.3 L372.1,349.2 L372.8,349.1 L373.5,349.1 L374.2,349 L374.9,348.9 L375.6,348.8 L376.3,348.8 L376.9,348.7 L377.6,348.6 L378.3,348.6 L379,348.5 L379.7,348.4 L380.4,348.4 L381.1,348.3 L381.8,348.2 L382.5,348.2 L383.2,348.1 L383.9,348 L384.6,348 L385.2,347.9 L385.9,347.9 L386.6,347.8 L387.3,347.7 L388,347.7 L388.7,347.6 L389.4,347.6 L390.1,347.5 L390.8,347.5 L391.5,347.4 L392.2,347.4 L392.8,347.3 L393.5,347.3 L394.2,347.2 L394.9,347.2 L395.6,347.1 L396.3,347.1 L397,347.1 L397.7,347 L398.4,347 L399.1,346.9 L399.8,346.9 L400.4,346.9 L401.1,346.8 L401.8,346.8 L402.5,346.8 L403.2,346.8 L403.9,346.7 L404.6,346.7 L405.3,346.7 L406,346.6 L406.7,346.6 L407.4,346.6 L408.1,346.6 L408.7,346.6 L409.4,346.5 L410.1,346.5 L410.8,346.5 L411.5,346.5 L412.2,346.5 L412.9,346.4 L413.6,346.4 L414.3,346.4 L415,346.4 L415.7,346.4 L416.3,346.4 L417,346.4 L417.7,346.4 L418.4,346.4 L419.1,346.4 L419.8,346.4 L420.5,346.3 L421.2,346.3 L421.9,346.3 L422.6,346.3 L423.3,346.3 L423.9,346.3 L424.6,346.3 L425.3,346.3 L426,346.3 L426.7,346.3 L427.4,346.3 L428.1,346.3 L428.8,346.3 L429.5,346.3 L430.2,346.4 L430.9,346.4 L431.6,346.4 L432.2,346.4 L432.9,346.4 L433.6,346.4 L434.3,346.4 L435,346.4 L435.7,346.4 L436.4,346.4 L437.1,346.4 L437.8,346.4 L438.5,346.5 L439.2,346.5 L439.8,346.5 L440.5,346.5 L441.2,346.5 L441.9,346.5 L442.6,346.5 L443.3,346.5 L444,346.6 L444.7,346.6 L445.4,346.6 L446.1,346.6 L446.8,346.6 L447.4,346.6 L448.1,346.6 L448.8,346.7 L449.5,346.7 L450.2,346.7 L450.9,346.7 L451.6,346.7 L452.3,346.7 L453,346.8 L453.7,346.8 L454.4,346.8 L455.1,346.8 L455.7,346.8 L456.4,346.8 L457.1,346.9 L457.8,346.9 L458.5,346.9 L459.2,346.9 L459.9,346.9 L460.6,347 L461.3,347 L462,347 L462.7,347 L463.3,347 L464,347.1 L464.7,347.1 L465.4,347.1 L466.1,347.1 L466.8,347.1 L467.5,347.2 L468.2,347.2 L468.9,347.2 L469.6,347.2 L470.3,347.2 L471,347.3 L471.6,347.3 L472.3,347.3 L473,347.3 L473.7,347.3 L474.4,347.4 L475.1,347.4 L475.8,347.4 L476.5,347.4 L477.2,347.4 L477.9,347.5 L478.6,347.5 L479.2,347.5 L479.9,347.5 L480.6,347.5 L481.3,347.6 L482,347.6 L482.7,347.6 L483.4,347.6 L484.1,347.6 L484.8,347.6 L485.5,347.7 L486.2,347.7 L486.8,347.7 L487.5,347.7 L488.2,347.7 L488.9,347.8 L489.6,347.8 L490.3,347.8 L491,347.8 L491.7,347.8 L492.4,347.9 L493.1,347.9 L493.8,347.9 L494.5,347.9 L495.1,347.9 L495.8,348 L496.5,348 L497.2,348 L497.9,348 L498.6,348 L499.3,348.1 L500,348.1 L500.7,348.1 L501.4,348.1 L502.1,348.1 L502.7,348.1 L503.4,348.2 L504.1,348.2 L504.8,348.2 L505.5,348.2 L506.2,348.2 L506.9,348.3 L507.6,348.3 L508.3,348.3 L509,348.3 L509.7,348.3 L510.3,348.3 L511,348.4 L511.7,348.4 L512.4,348.4 L513.1,348.4 L513.8,348.4 L514.5,348.4 L515.2,348.5 L515.9,348.5 L516.6,348.5 L517.3,348.5 L518,348.5 L518.6,348.5 L519.3,348.6 L520,348.6 L520.7,348.6 L521.4,348.6 L522.1,348.6 L522.8,348.6 L523.5,348.7 L524.2,348.7 L524.9,348.7 L525.6,348.7 L526.2,348.7 L526.9,348.7 L527.6,348.8 L528.3,348.8 L529,348.8 L529.7,348.8 L530.4,348.8 L531.1,348.8 L531.8,348.8 L532.5,348.9 L533.2,348.9 L533.8,348.9 L534.5,348.9 L535.2,348.9 L535.9,348.9 L536.6,348.9 L537.3,349 L538,349 L538.7,349 L539.4,349 L540.1,349 L540.8,349 L541.5,349 L542.1,349.1 L542.8,349.1 L543.5,349.1 L544.2,349.1 L544.9,349.1 L545.6,349.1" fill="none" stroke="#f04048" stroke-width="2.9" stroke-linejoin="round"/>
<path d="M361.8,350.6 L362.2,350.7 L362.5,350.8 L362.9,350.8 L363.2,350.9 L363.6,350.9 L363.9,351 L364.3,351 L364.6,351 L365,351 L365.3,351 L365.6,351 L366,351 L366.3,351 L366.6,351 L367,350.9 L367.3,350.9 L367.6,350.8 L367.9,350.8 L368.2,350.7 L368.5,350.6 L368.8,350.5 L369.1,350.4 L369.4,350.3 L369.6,350.2 L369.9,350 L370.1,349.9 L370.3,349.8 L370.6,349.6 L370.8,349.4 L371,349.3 L371.2,349.1 L371.3,348.9 L371.5,348.7 L371.7,348.5 L371.8,348.2 L372,348 L372.1,347.8 L372.2,347.5 L372.3,347.3 L372.4,347 L372.5,346.8 L372.6,346.5 L372.7,346.2 L372.8,346 L372.9,345.7 L372.9,345.4 L373,345.1 L373,344.8 L373.1,344.5 L373.2,344.2 L373.2,343.9 L373.3,343.6 L373.3,343.3 L373.4,343 L373.4,342.7 L373.4,342.3 L373.5,342 L373.5,341.7 L373.6,341.4 L373.6,341.1 L373.7,340.8 L373.7,340.4 L373.8,340.1 L373.8,339.8 L373.9,339.5 L374,339.2 L374,338.9 L374.1,338.6 L374.2,338.3 L374.2,338 L374.3,337.7 L374.4,337.4 L374.5,337.1 L374.6,336.8 L374.6,336.5 L374.7,336.2 L374.8,335.9 L374.9,335.6 L375,335.3 L375.1,335 L375.2,334.7 L375.3,334.4 L375.4,334.1 L375.5,333.8 L375.6,333.5 L375.8,333.2 L375.9,333 L376,332.7 L376.1,332.4 L376.2,332.1 L376.3,331.8 L376.5,331.5 L376.6,331.3 L376.7,331 L376.9,330.7 L377,330.4 L377.1,330.2 L377.3,329.9 L377.4,329.6 L377.5,329.3 L377.7,329 L377.8,328.8 L378,328.5 L378.1,328.2 L378.2,328 L378.4,327.7 L378.5,327.4 L378.7,327.1 L378.8,326.9 L379,326.6 L379.1,326.3 L379.3,326.1 L379.4,325.8 L379.6,325.5 L379.8,325.3 L379.9,325 L380.1,324.7 L380.2,324.5 L380.4,324.2 L380.6,323.9 L380.7,323.7 L380.9,323.4 L381,323.1 L381.2,322.9 L381.4,322.6 L381.5,322.4 L381.7,322.1 L381.9,321.8 L382,321.6 L382.2,321.3 L382.4,321 L382.5,320.8 L382.7,320.5 L382.9,320.3 L383,320 L383.2,319.7 L383.4,319.5 L383.5,319.2 L383.7,319 L383.9,318.7 L384,318.4 L384.2,318.2 L384.4,317.9 L384.5,317.7 L384.7,317.4 L384.9,317.1 L385,316.9 L385.2,316.6 L385.4,316.3 L385.5,316.1 L385.7,315.8 L385.9,315.6 L386,315.3 L386.2,315 L386.4,314.8 L386.5,314.5 L386.7,314.2 L386.8,314 L387,313.7 L387.2,313.4 L387.3,313.2 L387.5,312.9 L387.6,312.7 L387.8,312.4 L388,312.1 L388.1,311.9 L388.3,311.6 L388.4,311.3 L388.6,311 L388.7,310.8 L388.9,310.5 L389,310.2 L389.2,310 L389.3,309.7 L389.4,309.4 L389.6,309.1 L389.7,308.9 L389.9,308.6 L390,308.3 L390.1,308.1 L390.3,307.8 L390.4,307.5 L390.5,307.2 L390.7,306.9 L390.8,306.7 L390.9,306.4 L391,306.1 L391.2,305.8 L391.3,305.5 L391.4,305.3 L391.5,305 L391.6,304.7 L391.7,304.4 L391.8,304.1 L392,303.8 L392.1,303.5 L392.2,303.2 L392.3,302.9 L392.4,302.7 L392.5,302.4 L392.6,302.1 L392.7,301.8 L392.8,301.5 L392.8,301.2 L392.9,300.9 L393,300.6 L393.1,300.3 L393.2,300 L393.3,299.7 L393.4,299.4 L393.5,299.1 L393.6,298.8 L393.6,298.5 L393.7,298.2 L393.8,297.9 L393.9,297.6 L394,297.3 L394,297 L394.1,296.7 L394.2,296.4 L394.3,296.1 L394.3,295.8 L394.4,295.5 L394.5,295.2 L394.6,294.9 L394.6,294.6 L394.7,294.3 L394.8,294 L394.9,293.7 L394.9,293.4 L395,293.1 L395.1,292.8 L395.2,292.5 L395.2,292.2 L395.3,291.9 L395.4,291.6 L395.5,291.2 L395.5,290.9 L395.6,290.6 L395.7,290.3 L395.8,290 L395.9,289.7 L395.9,289.4 L396,289.1 L396.1,288.8 L396.2,288.5 L396.3,288.2 L396.3,287.9 L396.4,287.6 L396.5,287.3 L396.6,287 L396.7,286.7 L396.8,286.4 L396.9,286.1 L396.9,285.8 L397,285.5 L397.1,285.2 L397.2,284.9 L397.3,284.6 L397.4,284.4 L397.5,284.1 L397.6,283.8 L397.7,283.5 L397.8,283.2 L397.9,282.9 L398,282.6 L398.1,282.3 L398.2,282 L398.3,281.7 L398.5,281.4 L398.6,281.2 L398.7,280.9 L398.8,280.6 L398.9,280.3 L399.1,280 L399.2,279.7 L399.3,279.5 L399.4,279.2 L399.6,278.9 L399.7,278.6 L399.9,278.3 L400,278.1 L400.1,277.8 L400.3,277.5 L400.4,277.3 L400.6,277 L400.7,276.7 L400.9,276.4 L401.1,276.2 L401.2,275.9 L401.4,275.6 L401.6,275.4 L401.7,275.1 L401.9,274.9 L402.1,274.6 L402.3,274.3 L402.5,274.1 L402.6,273.8 L402.8,273.6 L403,273.3 L403.2,273.1 L403.4,272.8 L403.6,272.6 L403.8,272.3 L404.1,272.1 L404.3,271.9 L404.5,271.6 L404.7,271.4 L404.9,271.1 L405.1,270.9 L405.4,270.6 L405.6,270.4 L405.8,270.2 L406,269.9 L406.3,269.7 L406.5,269.5 L406.7,269.2 L406.9,269 L407.2,268.8 L407.4,268.5 L407.6,268.3 L407.8,268 L408,267.8 L408.2,267.6 L408.5,267.3 L408.7,267.1 L408.9,266.9 L409.1,266.6 L409.3,266.4 L409.5,266.1 L409.7,265.9 L409.9,265.7 L410.1,265.4 L410.3,265.2 L410.5,264.9 L410.6,264.7 L410.8,264.5 L411,264.2 L411.2,264 L411.4,263.7 L411.5,263.5 L411.7,263.2 L411.9,263 L412,262.7 L412.2,262.5 L412.4,262.2 L412.5,262 L412.7,261.7 L412.9,261.5 L413,261.2 L413.2,261 L413.3,260.7 L413.5,260.5 L413.6,260.2 L413.8,260 L413.9,259.7 L414.1,259.5 L414.2,259.2 L414.4,258.9 L414.5,258.7 L414.6,258.4 L414.8,258.2 L414.9,257.9 L415.1,257.7 L415.2,257.4 L415.4,257.1 L415.5,256.9 L415.6,256.6 L415.8,256.3 L415.9,256.1 L416,255.8 L416.2,255.5 L416.3,255.3 L416.4,255 L416.6,254.7 L416.7,254.5 L416.9,254.2 L417,253.9 L417.1,253.7 L417.3,253.4 L417.4,253.1 L417.5,252.9 L417.7,252.6 L417.8,252.3 L417.9,252 L418.1,251.8 L418.2,251.5 L418.4,251.2 L418.5,250.9 L418.6,250.7 L418.8,250.4 L418.9,250.1 L419.1,249.8 L419.2,249.5 L419.4,249.3 L419.5,249 L419.7,248.7 L419.8,248.4 L420,248.1 L420.1,247.8 L420.3,247.5 L420.4,247.3 L420.6,247 L420.7,246.7 L420.9,246.4 L421,246.1 L421.2,245.8 L421.4,245.5 L421.5,245.2 L421.7,244.9 L421.9,244.7 L422.1,244.4 L422.2,244.1 L422.4,243.8 L422.6,243.5 L422.8,243.2 L422.9,242.9 L423.1,242.6 L423.3,242.3 L423.5,242 L423.7,241.7 L423.9,241.5 L424.1,241.2 L424.3,240.9 L424.5,240.6 L424.7,240.4 L424.9,240.1 L425.1,239.8 L425.3,239.6 L425.5,239.3 L425.7,239.1 L425.9,238.8 L426.1,238.6 L426.3,238.3 L426.5,238.1 L426.8,237.9 L427,237.7 L427.2,237.5 L427.4,237.3 L427.6,237.1 L427.9,236.9 L428.1,236.7 L428.3,236.6 L428.5,236.4 L428.8,236.2 L429,236.1 L429.2,236 L429.5,235.8 L429.7,235.7 L430,235.6 L430.2,235.5 L430.4,235.4 L430.7,235.4 L430.9,235.3 L431.2,235.3 L431.4,235.2 L431.7,235.2 L431.9,235.2 L432.2,235.2 L432.4,235.2 L432.7,235.2 L433,235.2 L433.2,235.3 L433.5,235.3 L433.7,235.4 L434,235.5 L434.3,235.5 L434.5,235.6 L434.8,235.7 L435,235.8 L435.3,236 L435.6,236.1 L435.8,236.2 L436.1,236.4 L436.3,236.5 L436.6,236.7 L436.9,236.8 L437.1,237 L437.4,237.2 L437.6,237.4 L437.9,237.6 L438.1,237.8 L438.4,238 L438.7,238.2 L438.9,238.4 L439.2,238.6 L439.4,238.8 L439.6,239.1 L439.9,239.3 L440.1,239.5 L440.4,239.8 L440.6,240 L440.8,240.2 L441.1,240.5 L441.3,240.7 L441.5,241 L441.8,241.2 L442,241.5 L442.2,241.7 L442.4,242 L442.6,242.3 L442.8,242.5 L443,242.8 L443.2,243 L443.4,243.3 L443.6,243.6 L443.8,243.8 L444,244.1 L444.2,244.3 L444.4,244.6 L444.6,244.9 L444.8,245.1 L444.9,245.4 L445.1,245.7 L445.3,245.9 L445.5,246.2 L445.6,246.5 L445.8,246.8 L445.9,247 L446.1,247.3 L446.3,247.6 L446.4,247.8 L446.6,248.1 L446.7,248.4 L446.9,248.7 L447,249 L447.1,249.2 L447.3,249.5 L447.4,249.8 L447.6,250.1 L447.7,250.3 L447.8,250.6 L447.9,250.9 L448.1,251.2 L448.2,251.5 L448.3,251.8 L448.4,252 L448.6,252.3 L448.7,252.6 L448.8,252.9 L448.9,253.2 L449,253.5 L449.1,253.8 L449.2,254.1 L449.3,254.3 L449.4,254.6 L449.5,254.9 L449.6,255.2 L449.7,255.5 L449.8,255.8 L449.9,256.1 L450,256.4 L450.1,256.7 L450.2,257 L450.3,257.3 L450.4,257.6 L450.5,257.8 L450.6,258.1 L450.6,258.4 L450.7,258.7 L450.8,259 L450.9,259.3 L451,259.6 L451,259.9 L451.1,260.2 L451.2,260.5 L451.3,260.8 L451.3,261.1 L451.4,261.4 L451.5,261.7 L451.6,262 L451.6,262.3 L451.7,262.6 L451.8,262.9 L451.8,263.2 L451.9,263.5 L452,263.8 L452,264.1 L452.1,264.4 L452.1,264.7 L452.2,265 L452.3,265.3 L452.3,265.6 L452.4,265.9 L452.5,266.2 L452.5,266.5 L452.6,266.8 L452.6,267.1 L452.7,267.4 L452.7,267.7 L452.8,268.1 L452.9,268.4 L452.9,268.7 L453,269 L453,269.3 L453.1,269.6 L453.1,269.9 L453.2,270.2 L453.3,270.5 L453.3,270.8 L453.4,271.1 L453.4,271.4 L453.5,271.7 L453.5,272 L453.6,272.3 L453.7,272.6 L453.7,272.9 L453.8,273.2 L453.8,273.5 L453.9,273.8 L453.9,274.1 L454,274.4 L454.1,274.8 L454.1,275.1 L454.2,275.4 L454.2,275.7 L454.3,276 L454.4,276.3 L454.4,276.6 L454.5,276.9 L454.5,277.2 L454.6,277.5 L454.7,277.8 L454.7,278.1 L454.8,278.4 L454.9,278.7 L454.9,279 L455,279.3 L455.1,279.6 L455.1,279.9 L455.2,280.2 L455.3,280.5 L455.4,280.8 L455.4,281.1 L455.5,281.4 L455.6,281.7 L455.7,282 L455.7,282.3 L455.8,282.6 L455.9,282.9 L456,283.2 L456.1,283.5 L456.1,283.8 L456.2,284.1 L456.3,284.4 L456.4,284.7 L456.5,285 L456.6,285.3 L456.7,285.6 L456.8,285.9 L456.9,286.2 L457,286.5 L457.1,286.8 L457.2,287 L457.3,287.3 L457.4,287.6 L457.5,287.9 L457.6,288.2 L457.7,288.5 L457.8,288.8 L457.9,289.1 L458,289.4 L458.1,289.7 L458.2,290 L458.3,290.2 L458.5,290.5 L458.6,290.8 L458.7,291.1 L458.8,291.4 L458.9,291.7 L459.1,292 L459.2,292.2 L459.3,292.5 L459.5,292.8 L459.6,293.1 L459.7,293.4 L459.9,293.7 L460,293.9 L460.1,294.2 L460.3,294.5 L460.4,294.8 L460.5,295.1 L460.7,295.3 L460.8,295.6 L461,295.9 L461.1,296.2 L461.3,296.5 L461.4,296.7 L461.6,297 L461.7,297.3 L461.9,297.6 L462,297.8 L462.2,298.1 L462.3,298.4 L462.5,298.7 L462.7,298.9 L462.8,299.2 L463,299.5 L463.2,299.7 L463.3,300 L463.5,300.3 L463.7,300.5 L463.8,300.8 L464,301.1 L464.2,301.3 L464.4,301.6 L464.5,301.9 L464.7,302.1 L464.9,302.4 L465.1,302.7 L465.2,302.9 L465.4,303.2 L465.6,303.5 L465.8,303.7 L466,304 L466.2,304.2 L466.4,304.5 L466.6,304.8 L466.7,305 L466.9,305.3 L467.1,305.5 L467.3,305.8 L467.5,306 L467.7,306.3 L467.9,306.5 L468.1,306.8 L468.3,307.1 L468.5,307.3 L468.7,307.6 L468.9,307.8 L469.2,308.1 L469.4,308.3 L469.6,308.6 L469.8,308.8 L470,309 L470.2,309.3 L470.4,309.5 L470.6,309.8 L470.9,310 L471.1,310.3 L471.3,310.5 L471.5,310.7 L471.8,311 L472,311.2 L472.2,311.4 L472.4,311.7 L472.7,311.9 L472.9,312.1 L473.1,312.3 L473.4,312.5 L473.6,312.7 L473.8,312.9 L474.1,313 L474.3,313.2 L474.6,313.4 L474.8,313.5 L475,313.7 L475.3,313.8 L475.5,313.9 L475.8,314 L476.1,314.1 L476.3,314.2 L476.6,314.2 L476.8,314.3 L477.1,314.3 L477.3,314.3 L477.6,314.3 L477.9,314.3 L478.2,314.3 L478.4,314.3 L478.7,314.2 L479,314.2 L479.2,314.1 L479.5,314 L479.8,313.9 L480.1,313.8 L480.3,313.7 L480.6,313.6 L480.9,313.4 L481.2,313.3 L481.4,313.1 L481.7,313 L482,312.8 L482.3,312.6 L482.5,312.5 L482.8,312.3 L483.1,312.1 L483.4,311.9 L483.6,311.7 L483.9,311.5 L484.1,311.3 L484.4,311.1 L484.7,310.9 L484.9,310.7 L485.2,310.5 L485.4,310.3 L485.7,310.1 L485.9,309.9 L486.2,309.7 L486.4,309.4 L486.6,309.2 L486.9,309 L487.1,308.8 L487.4,308.6 L487.6,308.4 L487.8,308.1 L488,307.9 L488.3,307.7 L488.5,307.5 L488.7,307.2 L488.9,307 L489.1,306.8 L489.4,306.6 L489.6,306.3 L489.8,306.1 L490,305.9 L490.2,305.7 L490.4,305.4 L490.6,305.2 L490.8,305 L491,304.7 L491.2,304.5 L491.4,304.3 L491.6,304 L491.8,303.8 L492,303.5 L492.2,303.3 L492.4,303.1 L492.6,302.8 L492.8,302.6 L493,302.3 L493.2,302.1 L493.4,301.9 L493.6,301.6 L493.7,301.4 L493.9,301.1 L494.1,300.9 L494.3,300.6 L494.5,300.4 L494.7,300.1 L494.8,299.9 L495,299.6 L495.2,299.4 L495.4,299.1 L495.6,298.9 L495.7,298.6 L495.9,298.4 L496.1,298.1 L496.3,297.9 L496.4,297.6 L496.6,297.4 L496.8,297.1 L497,296.9 L497.1,296.6 L497.3,296.4 L497.5,296.1 L497.7,295.9 L497.8,295.6 L498,295.4 L498.2,295.1 L498.4,294.9 L498.5,294.6 L498.7,294.3 L498.9,294.1 L499.1,293.8 L499.2,293.6 L499.4,293.3 L499.6,293.1 L499.8,292.8 L499.9,292.6 L500.1,292.3 L500.3,292 L500.5,291.8 L500.7,291.5 L500.8,291.3 L501,291 L501.2,290.8 L501.4,290.5 L501.6,290.2 L501.7,290 L501.9,289.7 L502.1,289.5 L502.3,289.2 L502.5,288.9 L502.6,288.7 L502.8,288.4 L503,288.1 L503.2,287.9 L503.4,287.6 L503.6,287.3 L503.7,287.1 L503.9,286.8 L504.1,286.5 L504.3,286.3 L504.5,286 L504.7,285.7 L504.9,285.4 L505.1,285.1 L505.2,284.9 L505.4,284.6 L505.6,284.3 L505.8,284 L506,283.7 L506.2,283.4 L506.4,283.1 L506.6,282.8 L506.8,282.5 L507,282.3 L507.2,282 L507.4,281.7 L507.6,281.4 L507.7,281.1 L507.9,280.8 L508.1,280.5 L508.3,280.2 L508.5,279.9 L508.7,279.7 L508.9,279.4 L509.1,279.2 L509.3,278.9 L509.5,278.7 L509.7,278.5 L509.9,278.3 L510.1,278.1 L510.3,277.9 L510.5,277.8 L510.7,277.6 L510.9,277.5 L511.1,277.4 L511.2,277.3 L511.4,277.3 L511.6,277.2 L511.8,277.2 L512,277.2 L512.2,277.3 L512.4,277.3 L512.6,277.4 L512.7,277.5 L512.9,277.6 L513.1,277.7 L513.3,277.9 L513.5,278 L513.7,278.2 L513.8,278.4 L514,278.6 L514.2,278.8 L514.4,279.1 L514.5,279.3 L514.7,279.6 L514.9,279.8 L515,280.1 L515.2,280.3 L515.4,280.6 L515.5,280.9 L515.7,281.2 L515.8,281.5 L516,281.7 L516.1,282 L516.3,282.3 L516.4,282.6 L516.6,282.9 L516.7,283.2 L516.9,283.4 L517,283.7 L517.1,284 L517.3,284.3 L517.4,284.6 L517.5,284.9 L517.7,285.2 L517.8,285.5 L517.9,285.7 L518,286 L518.2,286.3 L518.3,286.6 L518.4,286.9 L518.5,287.2 L518.6,287.5 L518.7,287.8 L518.8,288.1 L519,288.3 L519.1,288.6 L519.2,288.9 L519.3,289.2 L519.4,289.5 L519.5,289.8 L519.6,290.1 L519.7,290.4 L519.8,290.7 L519.9,291 L520,291.3 L520.1,291.6 L520.1,291.9 L520.2,292.2 L520.3,292.5 L520.4,292.7 L520.5,293 L520.6,293.3 L520.7,293.6 L520.7,293.9 L520.8,294.2 L520.9,294.5 L521,294.8 L521.1,295.1 L521.1,295.4 L521.2,295.7 L521.3,296 L521.4,296.3 L521.4,296.6 L521.5,296.9 L521.6,297.2 L521.6,297.5 L521.7,297.8 L521.8,298.1 L521.9,298.4 L521.9,298.7 L522,299 L522.1,299.3 L522.1,299.6 L522.2,299.9 L522.2,300.2 L522.3,300.5 L522.4,300.8 L522.4,301.1 L522.5,301.4 L522.6,301.8 L522.6,302.1 L522.7,302.4 L522.7,302.7 L522.8,303 L522.8,303.3 L522.9,303.6 L523,303.9 L523,304.2 L523.1,304.5 L523.1,304.8 L523.2,305.1 L523.2,305.4 L523.3,305.7 L523.4,306 L523.4,306.4 L523.5,306.7 L523.5,307 L523.6,307.3 L523.6,307.6 L523.7,307.9 L523.7,308.2 L523.8,308.5 L523.8,308.8 L523.9,309.1 L524,309.4 L524,309.8 L524.1,310.1 L524.1,310.4 L524.2,310.7 L524.2,311 L524.3,311.3 L524.4,311.6 L524.4,311.9 L524.5,312.3 L524.5,312.6 L524.6,312.9 L524.6,313.2 L524.7,313.5 L524.8,313.8 L524.8,314.1 L524.9,314.4 L524.9,314.8 L525,315.1 L525.1,315.4 L525.1,315.7 L525.2,316 L525.3,316.3 L525.3,316.6 L525.4,317 L525.4,317.3 L525.5,317.6 L525.6,317.9 L525.7,318.2 L525.7,318.5 L525.8,318.8 L525.9,319.2 L525.9,319.5 L526,319.8 L526.1,320.1 L526.2,320.4 L526.2,320.7 L526.3,321 L526.4,321.3 L526.5,321.7 L526.5,322 L526.6,322.3 L526.7,322.6 L526.8,322.9 L526.9,323.2 L526.9,323.5 L527,323.8 L527.1,324.1 L527.2,324.4 L527.3,324.7 L527.4,325.1 L527.5,325.4 L527.6,325.7 L527.7,326 L527.8,326.3 L527.9,326.6 L528,326.9 L528.1,327.2 L528.2,327.5 L528.3,327.8 L528.4,328.1 L528.5,328.4 L528.6,328.7 L528.7,328.9 L528.8,329.2 L528.9,329.5 L529,329.8 L529.1,330.1 L529.2,330.4 L529.4,330.7 L529.5,331 L529.6,331.3 L529.7,331.5 L529.9,331.8 L530,332.1 L530.1,332.4 L530.2,332.7 L530.4,332.9 L530.5,333.2 L530.6,333.5 L530.8,333.8 L530.9,334 L531.1,334.3 L531.2,334.6 L531.3,334.8 L531.5,335.1 L531.6,335.4 L531.8,335.6 L531.9,335.9 L532.1,336.2 L532.3,336.4 L532.4,336.7 L532.6,336.9 L532.7,337.2 L532.9,337.4 L533.1,337.7 L533.2,337.9 L533.4,338.2 L533.6,338.4 L533.8,338.6 L533.9,338.9 L534.1,339.1 L534.3,339.4 L534.5,339.6 L534.7,339.8 L534.9,340 L535.1,340.3 L535.3,340.5 L535.5,340.7 L535.7,340.9 L535.9,341.2 L536.1,341.4 L536.3,341.6 L536.5,341.8 L536.7,342 L536.9,342.2 L537.1,342.4 L537.4,342.6 L537.6,342.8 L537.8,343 L538,343.2 L538.3,343.4 L538.5,343.6 L538.7,343.8 L539,344 L539.2,344.1 L539.5,344.3 L539.7,344.5 L540,344.7 L540.2,344.8 L540.5,345 L540.7,345.2 L541,345.3 L541.3,345.5 L541.5,345.6 L541.8,345.8 L542.1,346 L542.4,346.1 L542.7,346.2 L542.9,346.4 L543.2,346.5 L543.5,346.7 L543.8,346.8 L544.1,346.9 L544.4,347.1 L544.7,347.2 L545,347.3 L545.3,347.4 L545.6,347.5 L546,347.6" fill="none" stroke="#ff0000" stroke-width="4.7" stroke-linejoin="round" stroke-linecap="round"/>
</g>
<line x1="351.4" y1="353.2" x2="351.4" y2="355.2" stroke="#686868" stroke-width="1.2"/>
<line x1="372.8" y1="353.2" x2="372.8" y2="356.2" stroke="#686868" stroke-width="1.2"/>
<line x1="394.2" y1="353.2" x2="394.2" y2="355.2" stroke="#686868" stroke-width="1.2"/>
<line x1="415.7" y1="353.2" x2="415.7" y2="356.2" stroke="#686868" stroke-width="1.2"/>
<line x1="437.1" y1="353.2" x2="437.1" y2="355.2" stroke="#686868" stroke-width="1.2"/>
<line x1="458.6" y1="353.2" x2="458.6" y2="356.2" stroke="#686868" stroke-width="1.2"/>
<line x1="480.1" y1="353.2" x2="480.1" y2="355.2" stroke="#686868" stroke-width="1.2"/>
<line x1="501.5" y1="353.2" x2="501.5" y2="356.2" stroke="#686868" stroke-width="1.2"/>
<line x1="523.0" y1="353.2" x2="523.0" y2="355.2" stroke="#686868" stroke-width="1.2"/>
<text transform="translate(373.20,366.60) scale(1.08,1)" font-size="10" text-anchor="middle">1.5</text>
<text transform="translate(416.10,366.60) scale(1.08,1)" font-size="10" text-anchor="middle">2.0</text>
<text transform="translate(459.00,366.60) scale(1.08,1)" font-size="10" text-anchor="middle">2.5</text>
<text transform="translate(501.90,366.60) scale(1.08,1)" font-size="10" text-anchor="middle">3.0</text>
<line x1="327.2" y1="330.0" x2="329.2" y2="330.0" stroke="#686868" stroke-width="1.2"/>
<line x1="544" y1="330.0" x2="543" y2="330.0" stroke="#686868" stroke-width="1.2"/>
<line x1="325.7" y1="306.8" x2="329.2" y2="306.8" stroke="#686868" stroke-width="1.2"/>
<line x1="544" y1="306.8" x2="542.5" y2="306.8" stroke="#686868" stroke-width="1.2"/>
<text transform="translate(323.60,310.40) scale(1.12,1)" font-size="10" text-anchor="end">200</text>
<line x1="327.2" y1="283.6" x2="329.2" y2="283.6" stroke="#686868" stroke-width="1.2"/>
<line x1="544" y1="283.6" x2="543" y2="283.6" stroke="#686868" stroke-width="1.2"/>
<line x1="325.7" y1="260.4" x2="329.2" y2="260.4" stroke="#686868" stroke-width="1.2"/>
<line x1="544" y1="260.4" x2="542.5" y2="260.4" stroke="#686868" stroke-width="1.2"/>
<text transform="translate(323.60,264.00) scale(1.12,1)" font-size="10" text-anchor="end">400</text>
<line x1="327.2" y1="237.2" x2="329.2" y2="237.2" stroke="#686868" stroke-width="1.2"/>
<line x1="544" y1="237.2" x2="543" y2="237.2" stroke="#686868" stroke-width="1.2"/>
<line x1="325.7" y1="214.0" x2="329.2" y2="214.0" stroke="#686868" stroke-width="1.2"/>
<line x1="544" y1="214.0" x2="542.5" y2="214.0" stroke="#686868" stroke-width="1.2"/>
<text transform="translate(323.60,217.60) scale(1.12,1)" font-size="10" text-anchor="end">600</text>
<text transform="translate(339.20,220.30) scale(1.13,1)" font-size="10" text-anchor="start">Nd:ZnO</text>
<text transform="translate(391.30,385.60) scale(1.13,1)" font-size="10" text-anchor="start">Photon Energy (eV)</text>
<text transform="translate(291.6,267.8) scale(1.145,1) rotate(-90)" font-size="9.85" text-anchor="middle">PL Intensity</text>
</svg></body></html>
